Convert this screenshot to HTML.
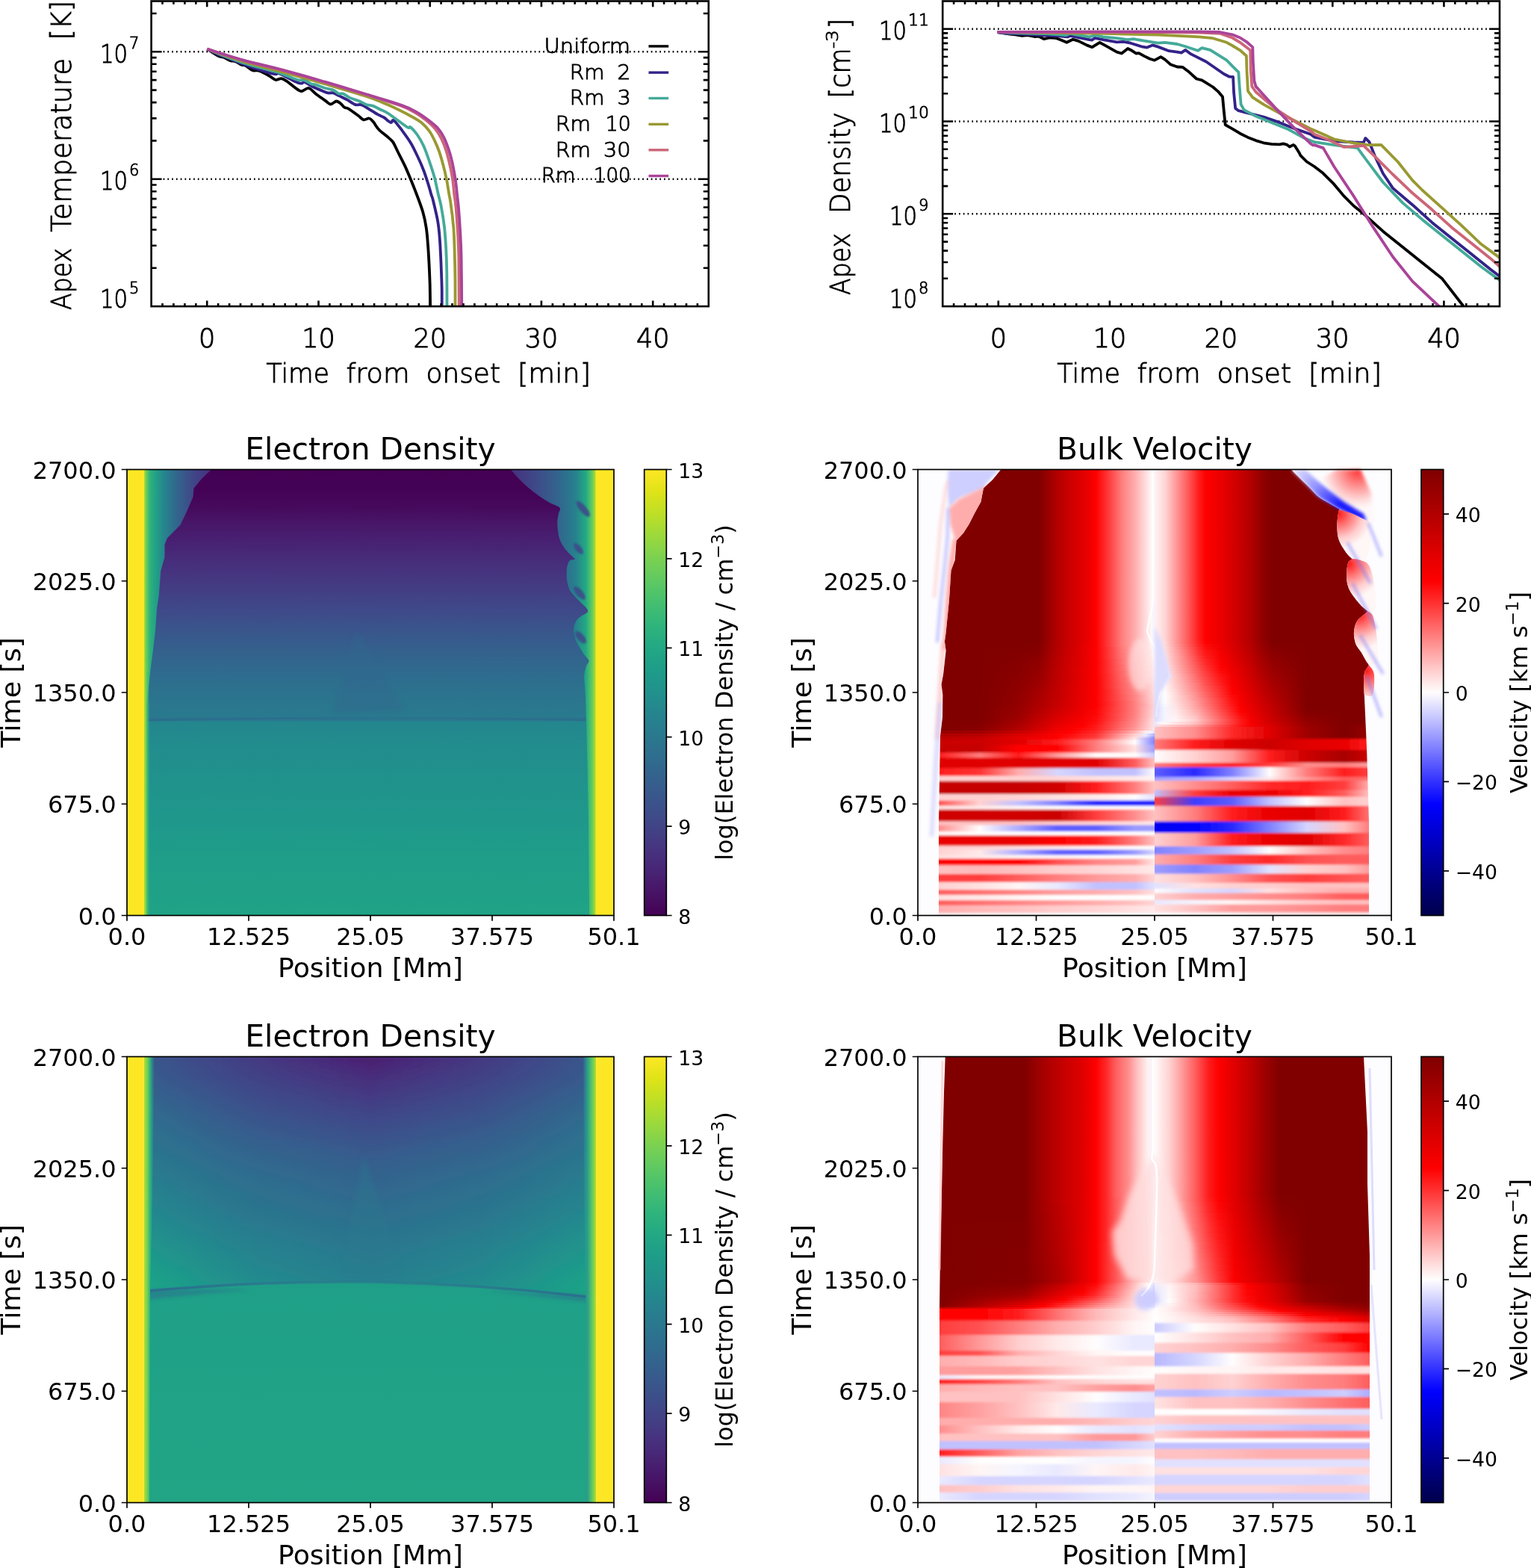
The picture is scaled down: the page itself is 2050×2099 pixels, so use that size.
<!DOCTYPE html>
<html><head><meta charset="utf-8"><style>html,body{margin:0;padding:0;background:#fff}svg{display:block}</style></head>
<body><svg xmlns="http://www.w3.org/2000/svg" width="2050" height="2099" viewBox="0 0 2050 2099">
<defs>
<filter id="blur3" x="-20%" y="-20%" width="140%" height="140%"><feGaussianBlur stdDeviation="3"/></filter>
<filter id="blur1" x="-30%" y="-30%" width="160%" height="160%"><feGaussianBlur stdDeviation="1"/></filter>
<filter id="blur4" x="-30%" y="-30%" width="160%" height="160%"><feGaussianBlur stdDeviation="5"/></filter>
<filter id="blur2" x="-30%" y="-30%" width="160%" height="160%"><feGaussianBlur stdDeviation="2"/></filter>
<clipPath id="cT"><rect x="202.6" y="1.5" width="746.2" height="408.6"/></clipPath>
<clipPath id="cN"><rect x="1262.2" y="1.5" width="745.8" height="408.6"/></clipPath>
<linearGradient id="g1" x1="0" y1="0" x2="0" y2="1"><stop offset="0.0000" stop-color="#440154"/><stop offset="0.0444" stop-color="#440256"/><stop offset="0.0863" stop-color="#460a5d"/><stop offset="0.1198" stop-color="#481668"/><stop offset="0.1616" stop-color="#482173"/><stop offset="0.2035" stop-color="#472d7b"/><stop offset="0.2454" stop-color="#453781"/><stop offset="0.2873" stop-color="#414287"/><stop offset="0.3291" stop-color="#3d4d8a"/><stop offset="0.3710" stop-color="#38588c"/><stop offset="0.4129" stop-color="#33628d"/><stop offset="0.4548" stop-color="#2f6b8e"/><stop offset="0.4966" stop-color="#2c728e"/><stop offset="0.5302" stop-color="#2a778e"/><stop offset="0.5519" stop-color="#297a8e"/><stop offset="0.5561" stop-color="#2a788e"/><stop offset="0.5586" stop-color="#2c738e"/><stop offset="0.5628" stop-color="#297a8e"/><stop offset="0.5662" stop-color="#24868e"/><stop offset="0.5804" stop-color="#23888e"/><stop offset="0.6223" stop-color="#228d8d"/><stop offset="0.7060" stop-color="#20938c"/><stop offset="0.7898" stop-color="#1f988b"/><stop offset="0.8735" stop-color="#1f9e89"/><stop offset="0.9573" stop-color="#1fa187"/><stop offset="1.0000" stop-color="#20a386"/></linearGradient>
<linearGradient id="g2" x1="195" y1="0" x2="798" y2="0" gradientUnits="userSpaceOnUse"><stop offset="0.0000" stop-color="#2b6c8d" stop-opacity="0.9"/><stop offset="0.3500" stop-color="#2b6c8d" stop-opacity="0.6"/><stop offset="0.5500" stop-color="#2b6c8d" stop-opacity="0.25"/><stop offset="0.8000" stop-color="#2b6c8d" stop-opacity="0.55"/><stop offset="1.0000" stop-color="#2b6c8d" stop-opacity="0.8"/></linearGradient>
<linearGradient id="g3" x1="193" y1="0" x2="283" y2="0" gradientUnits="userSpaceOnUse"><stop offset="0.0000" stop-color="#b8de29"/><stop offset="0.0300" stop-color="#6ccd5a"/><stop offset="0.0900" stop-color="#2db27d"/><stop offset="0.1700" stop-color="#22a187"/><stop offset="0.3000" stop-color="#26848e"/><stop offset="0.5000" stop-color="#33648d"/><stop offset="0.7500" stop-color="#404487"/><stop offset="1.0000" stop-color="#46307e"/></linearGradient>
<linearGradient id="g4" x1="193" y1="0" x2="201" y2="0" gradientUnits="userSpaceOnUse"><stop offset="0.0000" stop-color="#b5de2b"/><stop offset="0.3500" stop-color="#6ccd5a"/><stop offset="0.7000" stop-color="#35b779" stop-opacity="0.6"/><stop offset="1.0000" stop-color="#35b779" stop-opacity="0"/></linearGradient>
<linearGradient id="g5" x1="684" y1="0" x2="798" y2="0" gradientUnits="userSpaceOnUse"><stop offset="0.0000" stop-color="#46307e"/><stop offset="0.3000" stop-color="#3e4a89"/><stop offset="0.5500" stop-color="#33648d"/><stop offset="0.7500" stop-color="#277f8e"/><stop offset="0.8800" stop-color="#22a884"/><stop offset="0.9500" stop-color="#5ec962"/><stop offset="1.0000" stop-color="#b8de29"/></linearGradient>
<linearGradient id="g6" x1="0" y1="0" x2="0" y2="1"><stop offset="0.0000" stop-color="#fde725"/><stop offset="0.0500" stop-color="#dfe318"/><stop offset="0.1000" stop-color="#bddf26"/><stop offset="0.1500" stop-color="#9bd93c"/><stop offset="0.2000" stop-color="#7ad151"/><stop offset="0.2500" stop-color="#5ec962"/><stop offset="0.3000" stop-color="#44bf70"/><stop offset="0.3500" stop-color="#2fb47c"/><stop offset="0.4000" stop-color="#22a884"/><stop offset="0.4500" stop-color="#1e9c89"/><stop offset="0.5000" stop-color="#21918c"/><stop offset="0.5500" stop-color="#25848e"/><stop offset="0.6000" stop-color="#2a788e"/><stop offset="0.6500" stop-color="#2f6c8e"/><stop offset="0.7000" stop-color="#355f8d"/><stop offset="0.7500" stop-color="#3b528b"/><stop offset="0.8000" stop-color="#414487"/><stop offset="0.8500" stop-color="#463480"/><stop offset="0.9000" stop-color="#482475"/><stop offset="0.9500" stop-color="#471365"/><stop offset="1.0000" stop-color="#440154"/></linearGradient>
<linearGradient id="g7" x1="0" y1="0" x2="1" y2="0"><stop offset="0.0000" stop-color="#800000"/><stop offset="0.2555" stop-color="#800000"/><stop offset="0.2666" stop-color="#8e0000"/><stop offset="0.2943" stop-color="#b20000"/><stop offset="0.3218" stop-color="#cc0000"/><stop offset="0.3486" stop-color="#e00000"/><stop offset="0.3763" stop-color="#fe0000"/><stop offset="0.4038" stop-color="#ff3d3d"/><stop offset="0.4306" stop-color="#ff7d7d"/><stop offset="0.4584" stop-color="#ffadad"/><stop offset="0.4811" stop-color="#ffdddd"/><stop offset="0.4937" stop-color="#fff9f9"/><stop offset="0.4976" stop-color="#f5f5ff"/><stop offset="0.5016" stop-color="#fff1f1"/><stop offset="0.5221" stop-color="#ffd5d5"/><stop offset="0.5453" stop-color="#ff9999"/><stop offset="0.5694" stop-color="#ff5d5d"/><stop offset="0.5931" stop-color="#ff1d1d"/><stop offset="0.6080" stop-color="#fe0000"/><stop offset="0.6404" stop-color="#ea0000"/><stop offset="0.6640" stop-color="#d60000"/><stop offset="0.6814" stop-color="#c60000"/><stop offset="0.7035" stop-color="#b20000"/><stop offset="0.7224" stop-color="#980000"/><stop offset="0.7429" stop-color="#840000"/><stop offset="0.7508" stop-color="#800000"/><stop offset="1.0000" stop-color="#800000"/></linearGradient>
<linearGradient id="g8" x1="0" y1="0" x2="1" y2="0"><stop offset="0.0000" stop-color="#800000"/><stop offset="0.1893" stop-color="#800000"/><stop offset="0.3689" stop-color="#800000"/><stop offset="0.4637" stop-color="#800000"/><stop offset="0.4879" stop-color="#900000"/><stop offset="0.5488" stop-color="#b20000"/><stop offset="0.6090" stop-color="#cc0000"/><stop offset="0.6678" stop-color="#e00000"/><stop offset="0.7287" stop-color="#fe0000"/><stop offset="0.7889" stop-color="#ff3d3d"/><stop offset="0.8478" stop-color="#ff7d7d"/><stop offset="0.9087" stop-color="#ffadad"/><stop offset="0.9585" stop-color="#ffd9d9"/><stop offset="0.9862" stop-color="#fff9f9"/><stop offset="0.9948" stop-color="#f5f5ff"/><stop offset="1.0000" stop-color="#fff9f9"/></linearGradient>
<linearGradient id="g9" x1="0" y1="0" x2="1" y2="0"><stop offset="0.0000" stop-color="#800000"/><stop offset="0.1893" stop-color="#800000"/><stop offset="0.3689" stop-color="#800000"/><stop offset="0.4637" stop-color="#820000"/><stop offset="0.4879" stop-color="#920000"/><stop offset="0.5488" stop-color="#b30000"/><stop offset="0.6090" stop-color="#cc0000"/><stop offset="0.6678" stop-color="#e20000"/><stop offset="0.7287" stop-color="#fe0000"/><stop offset="0.7889" stop-color="#ff3d3d"/><stop offset="0.8478" stop-color="#ff7d7d"/><stop offset="0.9087" stop-color="#ffa9a9"/><stop offset="0.9585" stop-color="#ffd9d9"/><stop offset="0.9862" stop-color="#fff5f5"/><stop offset="0.9948" stop-color="#f9f9ff"/><stop offset="1.0000" stop-color="#fff9f9"/></linearGradient>
<linearGradient id="g10" x1="0" y1="0" x2="1" y2="0"><stop offset="0.0000" stop-color="#800000"/><stop offset="0.1893" stop-color="#800000"/><stop offset="0.3689" stop-color="#820000"/><stop offset="0.4637" stop-color="#840000"/><stop offset="0.4879" stop-color="#920000"/><stop offset="0.5488" stop-color="#b30000"/><stop offset="0.6090" stop-color="#ce0000"/><stop offset="0.6678" stop-color="#e20000"/><stop offset="0.7287" stop-color="#fe0000"/><stop offset="0.7889" stop-color="#ff3939"/><stop offset="0.8478" stop-color="#ff7979"/><stop offset="0.9087" stop-color="#ffa9a9"/><stop offset="0.9585" stop-color="#ffd5d5"/><stop offset="0.9862" stop-color="#fff5f5"/><stop offset="0.9948" stop-color="#fdfdff"/><stop offset="1.0000" stop-color="#fff5f5"/></linearGradient>
<linearGradient id="g11" x1="0" y1="0" x2="1" y2="0"><stop offset="0.0000" stop-color="#800000"/><stop offset="0.1893" stop-color="#800000"/><stop offset="0.3689" stop-color="#820000"/><stop offset="0.4637" stop-color="#860000"/><stop offset="0.4879" stop-color="#930000"/><stop offset="0.5488" stop-color="#b60000"/><stop offset="0.6090" stop-color="#ce0000"/><stop offset="0.6678" stop-color="#e20000"/><stop offset="0.7287" stop-color="#fe0000"/><stop offset="0.7889" stop-color="#ff3939"/><stop offset="0.8478" stop-color="#ff7979"/><stop offset="0.9087" stop-color="#ffa5a5"/><stop offset="0.9585" stop-color="#ffd5d5"/><stop offset="0.9862" stop-color="#fff1f1"/><stop offset="0.9948" stop-color="#fdfdff"/><stop offset="1.0000" stop-color="#fff5f5"/></linearGradient>
<linearGradient id="g12" x1="0" y1="0" x2="1" y2="0"><stop offset="0.0000" stop-color="#800000"/><stop offset="0.1893" stop-color="#800000"/><stop offset="0.3689" stop-color="#840000"/><stop offset="0.4637" stop-color="#880000"/><stop offset="0.4879" stop-color="#960000"/><stop offset="0.5488" stop-color="#b60000"/><stop offset="0.6090" stop-color="#ce0000"/><stop offset="0.6678" stop-color="#e20000"/><stop offset="0.7287" stop-color="#fe0000"/><stop offset="0.7889" stop-color="#ff3939"/><stop offset="0.8478" stop-color="#ff7575"/><stop offset="0.9087" stop-color="#ffa5a5"/><stop offset="0.9585" stop-color="#ffd1d1"/><stop offset="0.9862" stop-color="#fff1f1"/><stop offset="0.9948" stop-color="#fffdfd"/><stop offset="1.0000" stop-color="#fff1f1"/></linearGradient>
<linearGradient id="g13" x1="0" y1="0" x2="1" y2="0"><stop offset="0.0000" stop-color="#800000"/><stop offset="0.1893" stop-color="#800000"/><stop offset="0.3689" stop-color="#840000"/><stop offset="0.4637" stop-color="#8c0000"/><stop offset="0.4879" stop-color="#980000"/><stop offset="0.5488" stop-color="#b80000"/><stop offset="0.6090" stop-color="#d00000"/><stop offset="0.6678" stop-color="#e30000"/><stop offset="0.7287" stop-color="#fe0000"/><stop offset="0.7889" stop-color="#ff3939"/><stop offset="0.8478" stop-color="#ff7575"/><stop offset="0.9087" stop-color="#ffa1a1"/><stop offset="0.9585" stop-color="#ffd1d1"/><stop offset="0.9862" stop-color="#ffeded"/><stop offset="0.9948" stop-color="#fffdfd"/><stop offset="1.0000" stop-color="#fff1f1"/></linearGradient>
<linearGradient id="g14" x1="0" y1="0" x2="1" y2="0"><stop offset="0.0000" stop-color="#800000"/><stop offset="0.1893" stop-color="#800000"/><stop offset="0.3689" stop-color="#860000"/><stop offset="0.4637" stop-color="#8e0000"/><stop offset="0.4879" stop-color="#9a0000"/><stop offset="0.5488" stop-color="#b80000"/><stop offset="0.6090" stop-color="#d00000"/><stop offset="0.6678" stop-color="#e30000"/><stop offset="0.7287" stop-color="#fe0000"/><stop offset="0.7889" stop-color="#ff3535"/><stop offset="0.8478" stop-color="#ff7171"/><stop offset="0.9087" stop-color="#ffa1a1"/><stop offset="0.9585" stop-color="#ffcdcd"/><stop offset="0.9862" stop-color="#ffeded"/><stop offset="0.9948" stop-color="#fff9f9"/><stop offset="1.0000" stop-color="#fff1f1"/></linearGradient>
<linearGradient id="g15" x1="0" y1="0" x2="1" y2="0"><stop offset="0.0000" stop-color="#800000"/><stop offset="0.1893" stop-color="#800000"/><stop offset="0.3689" stop-color="#860000"/><stop offset="0.4637" stop-color="#900000"/><stop offset="0.4879" stop-color="#9c0000"/><stop offset="0.5488" stop-color="#ba0000"/><stop offset="0.6090" stop-color="#d00000"/><stop offset="0.6678" stop-color="#e30000"/><stop offset="0.7287" stop-color="#fe0000"/><stop offset="0.7889" stop-color="#ff3535"/><stop offset="0.8478" stop-color="#ff7171"/><stop offset="0.9087" stop-color="#ff9d9d"/><stop offset="0.9585" stop-color="#ffcdcd"/><stop offset="0.9862" stop-color="#ffe9e9"/><stop offset="0.9948" stop-color="#fff5f5"/><stop offset="1.0000" stop-color="#ffeded"/></linearGradient>
<linearGradient id="g16" x1="0" y1="0" x2="1" y2="0"><stop offset="0.0000" stop-color="#800000"/><stop offset="0.1893" stop-color="#800000"/><stop offset="0.3689" stop-color="#880000"/><stop offset="0.4637" stop-color="#920000"/><stop offset="0.4879" stop-color="#9e0000"/><stop offset="0.5488" stop-color="#ba0000"/><stop offset="0.6090" stop-color="#d20000"/><stop offset="0.6678" stop-color="#e30000"/><stop offset="0.7287" stop-color="#fe0000"/><stop offset="0.7889" stop-color="#ff3535"/><stop offset="0.8478" stop-color="#ff6d6d"/><stop offset="0.9087" stop-color="#ff9d9d"/><stop offset="0.9585" stop-color="#ffc9c9"/><stop offset="0.9862" stop-color="#ffe5e5"/><stop offset="0.9948" stop-color="#fff5f5"/><stop offset="1.0000" stop-color="#ffeded"/></linearGradient>
<linearGradient id="g17" x1="0" y1="0" x2="1" y2="0"><stop offset="0.0000" stop-color="#800000"/><stop offset="0.1893" stop-color="#800000"/><stop offset="0.3689" stop-color="#880000"/><stop offset="0.4637" stop-color="#930000"/><stop offset="0.4879" stop-color="#a00000"/><stop offset="0.5488" stop-color="#bc0000"/><stop offset="0.6090" stop-color="#d20000"/><stop offset="0.6678" stop-color="#e60000"/><stop offset="0.7287" stop-color="#fe0000"/><stop offset="0.7889" stop-color="#ff3535"/><stop offset="0.8478" stop-color="#ff6d6d"/><stop offset="0.9087" stop-color="#ff9999"/><stop offset="0.9585" stop-color="#ffc9c9"/><stop offset="0.9862" stop-color="#ffe5e5"/><stop offset="0.9948" stop-color="#fff1f1"/><stop offset="1.0000" stop-color="#ffe9e9"/></linearGradient>
<linearGradient id="g18" x1="0" y1="0" x2="1" y2="0"><stop offset="0.0000" stop-color="#800000"/><stop offset="0.1893" stop-color="#800000"/><stop offset="0.3689" stop-color="#880000"/><stop offset="0.4637" stop-color="#960000"/><stop offset="0.4879" stop-color="#a20000"/><stop offset="0.5488" stop-color="#bc0000"/><stop offset="0.6090" stop-color="#d20000"/><stop offset="0.6678" stop-color="#e60000"/><stop offset="0.7287" stop-color="#fe0000"/><stop offset="0.7889" stop-color="#ff3535"/><stop offset="0.8478" stop-color="#ff6969"/><stop offset="0.9087" stop-color="#ff9595"/><stop offset="0.9585" stop-color="#ffc5c5"/><stop offset="0.9862" stop-color="#ffe1e1"/><stop offset="0.9948" stop-color="#ffeded"/><stop offset="1.0000" stop-color="#ffe9e9"/></linearGradient>
<linearGradient id="g19" x1="0" y1="0" x2="1" y2="0"><stop offset="0.0000" stop-color="#800000"/><stop offset="0.1893" stop-color="#800000"/><stop offset="0.3689" stop-color="#8a0000"/><stop offset="0.4637" stop-color="#980000"/><stop offset="0.4879" stop-color="#a20000"/><stop offset="0.5488" stop-color="#be0000"/><stop offset="0.6090" stop-color="#d30000"/><stop offset="0.6678" stop-color="#e60000"/><stop offset="0.7287" stop-color="#fe0000"/><stop offset="0.7889" stop-color="#ff3131"/><stop offset="0.8478" stop-color="#ff6969"/><stop offset="0.9087" stop-color="#ff9595"/><stop offset="0.9585" stop-color="#ffc5c5"/><stop offset="0.9862" stop-color="#ffe1e1"/><stop offset="0.9948" stop-color="#ffeded"/><stop offset="1.0000" stop-color="#ffe5e5"/></linearGradient>
<linearGradient id="g20" x1="0" y1="0" x2="1" y2="0"><stop offset="0.0000" stop-color="#800000"/><stop offset="0.1893" stop-color="#800000"/><stop offset="0.3689" stop-color="#8a0000"/><stop offset="0.4637" stop-color="#9a0000"/><stop offset="0.4879" stop-color="#a30000"/><stop offset="0.5488" stop-color="#be0000"/><stop offset="0.6090" stop-color="#d30000"/><stop offset="0.6678" stop-color="#e60000"/><stop offset="0.7287" stop-color="#fe0000"/><stop offset="0.7889" stop-color="#ff3131"/><stop offset="0.8478" stop-color="#ff6565"/><stop offset="0.9087" stop-color="#ff9191"/><stop offset="0.9585" stop-color="#ffc1c1"/><stop offset="0.9862" stop-color="#ffdddd"/><stop offset="0.9948" stop-color="#ffe9e9"/><stop offset="1.0000" stop-color="#ffe5e5"/></linearGradient>
<linearGradient id="g21" x1="0" y1="0" x2="1" y2="0"><stop offset="0.0000" stop-color="#800000"/><stop offset="0.1893" stop-color="#800000"/><stop offset="0.3689" stop-color="#8c0000"/><stop offset="0.4637" stop-color="#9c0000"/><stop offset="0.4879" stop-color="#a60000"/><stop offset="0.5488" stop-color="#be0000"/><stop offset="0.6090" stop-color="#d30000"/><stop offset="0.6678" stop-color="#e80000"/><stop offset="0.7287" stop-color="#fe0000"/><stop offset="0.7889" stop-color="#ff3131"/><stop offset="0.8478" stop-color="#ff6565"/><stop offset="0.9087" stop-color="#ff9191"/><stop offset="0.9585" stop-color="#ffc1c1"/><stop offset="0.9862" stop-color="#ffdddd"/><stop offset="0.9948" stop-color="#ffe5e5"/><stop offset="1.0000" stop-color="#ffe5e5"/></linearGradient>
<linearGradient id="g22" x1="0" y1="0" x2="1" y2="0"><stop offset="0.0000" stop-color="#800000"/><stop offset="0.1893" stop-color="#800000"/><stop offset="0.3689" stop-color="#8c0000"/><stop offset="0.4637" stop-color="#9e0000"/><stop offset="0.4879" stop-color="#a80000"/><stop offset="0.5488" stop-color="#c00000"/><stop offset="0.6090" stop-color="#d30000"/><stop offset="0.6678" stop-color="#e80000"/><stop offset="0.7287" stop-color="#fe0000"/><stop offset="0.7889" stop-color="#ff3131"/><stop offset="0.8478" stop-color="#ff6161"/><stop offset="0.9087" stop-color="#ff8d8d"/><stop offset="0.9585" stop-color="#ffbdbd"/><stop offset="0.9862" stop-color="#ffd9d9"/><stop offset="0.9948" stop-color="#ffe5e5"/><stop offset="1.0000" stop-color="#ffe1e1"/></linearGradient>
<linearGradient id="g23" x1="0" y1="0" x2="1" y2="0"><stop offset="0.0000" stop-color="#800000"/><stop offset="0.1893" stop-color="#800000"/><stop offset="0.3689" stop-color="#8e0000"/><stop offset="0.4637" stop-color="#a00000"/><stop offset="0.4879" stop-color="#aa0000"/><stop offset="0.5488" stop-color="#c00000"/><stop offset="0.6090" stop-color="#d60000"/><stop offset="0.6678" stop-color="#e80000"/><stop offset="0.7287" stop-color="#fe0000"/><stop offset="0.7889" stop-color="#ff3131"/><stop offset="0.8478" stop-color="#ff6161"/><stop offset="0.9087" stop-color="#ff8d8d"/><stop offset="0.9585" stop-color="#ffbdbd"/><stop offset="0.9862" stop-color="#ffd5d5"/><stop offset="0.9948" stop-color="#ffe1e1"/><stop offset="1.0000" stop-color="#ffe1e1"/></linearGradient>
<linearGradient id="g24" x1="0" y1="0" x2="1" y2="0"><stop offset="0.0000" stop-color="#800000"/><stop offset="0.1893" stop-color="#800000"/><stop offset="0.3689" stop-color="#8e0000"/><stop offset="0.4637" stop-color="#a30000"/><stop offset="0.4879" stop-color="#ac0000"/><stop offset="0.5488" stop-color="#c20000"/><stop offset="0.6090" stop-color="#d60000"/><stop offset="0.6678" stop-color="#ea0000"/><stop offset="0.7287" stop-color="#fe0000"/><stop offset="0.7889" stop-color="#ff2d2d"/><stop offset="0.8478" stop-color="#ff5d5d"/><stop offset="0.9087" stop-color="#ff8989"/><stop offset="0.9585" stop-color="#ffb9b9"/><stop offset="0.9862" stop-color="#ffd5d5"/><stop offset="0.9948" stop-color="#ffdddd"/><stop offset="1.0000" stop-color="#ffdddd"/></linearGradient>
<linearGradient id="g25" x1="0" y1="0" x2="1" y2="0"><stop offset="0.0000" stop-color="#800000"/><stop offset="0.1893" stop-color="#800000"/><stop offset="0.3689" stop-color="#900000"/><stop offset="0.4637" stop-color="#a60000"/><stop offset="0.4879" stop-color="#ae0000"/><stop offset="0.5488" stop-color="#c20000"/><stop offset="0.6090" stop-color="#d60000"/><stop offset="0.6678" stop-color="#ea0000"/><stop offset="0.7287" stop-color="#fe0000"/><stop offset="0.7889" stop-color="#ff2d2d"/><stop offset="0.8478" stop-color="#ff5d5d"/><stop offset="0.9087" stop-color="#ff8989"/><stop offset="0.9585" stop-color="#ffb9b9"/><stop offset="0.9862" stop-color="#ffd1d1"/><stop offset="0.9948" stop-color="#ffdddd"/><stop offset="1.0000" stop-color="#ffdddd"/></linearGradient>
<linearGradient id="g26" x1="0" y1="0" x2="1" y2="0"><stop offset="0.0000" stop-color="#800000"/><stop offset="0.1893" stop-color="#800000"/><stop offset="0.3689" stop-color="#900000"/><stop offset="0.4637" stop-color="#a80000"/><stop offset="0.4879" stop-color="#b00000"/><stop offset="0.5488" stop-color="#c30000"/><stop offset="0.6090" stop-color="#d80000"/><stop offset="0.6678" stop-color="#ea0000"/><stop offset="0.7287" stop-color="#fe0000"/><stop offset="0.7889" stop-color="#ff2d2d"/><stop offset="0.8478" stop-color="#ff5959"/><stop offset="0.9087" stop-color="#ff8585"/><stop offset="0.9585" stop-color="#ffb5b5"/><stop offset="0.9862" stop-color="#ffd1d1"/><stop offset="0.9948" stop-color="#ffd9d9"/><stop offset="1.0000" stop-color="#ffdddd"/></linearGradient>
<linearGradient id="g27" x1="0" y1="0" x2="1" y2="0"><stop offset="0.0000" stop-color="#800000"/><stop offset="0.1893" stop-color="#800000"/><stop offset="0.3689" stop-color="#920000"/><stop offset="0.4637" stop-color="#aa0000"/><stop offset="0.4879" stop-color="#b20000"/><stop offset="0.5488" stop-color="#c30000"/><stop offset="0.6090" stop-color="#d80000"/><stop offset="0.6678" stop-color="#ea0000"/><stop offset="0.7287" stop-color="#fe0000"/><stop offset="0.7889" stop-color="#ff2d2d"/><stop offset="0.8478" stop-color="#ff5959"/><stop offset="0.9087" stop-color="#ff8585"/><stop offset="0.9585" stop-color="#ffb5b5"/><stop offset="0.9862" stop-color="#ffcdcd"/><stop offset="0.9948" stop-color="#ffd5d5"/><stop offset="1.0000" stop-color="#ffd9d9"/></linearGradient>
<linearGradient id="g28" x1="0" y1="0" x2="1" y2="0"><stop offset="0.0000" stop-color="#800000"/><stop offset="0.1893" stop-color="#800000"/><stop offset="0.3689" stop-color="#920000"/><stop offset="0.4637" stop-color="#ac0000"/><stop offset="0.4879" stop-color="#b30000"/><stop offset="0.5488" stop-color="#c60000"/><stop offset="0.6090" stop-color="#d80000"/><stop offset="0.6678" stop-color="#ec0000"/><stop offset="0.7287" stop-color="#fe0000"/><stop offset="0.7889" stop-color="#ff2929"/><stop offset="0.8478" stop-color="#ff5555"/><stop offset="0.9087" stop-color="#ff8181"/><stop offset="0.9585" stop-color="#ffb1b1"/><stop offset="0.9862" stop-color="#ffcdcd"/><stop offset="0.9948" stop-color="#ffd5d5"/><stop offset="1.0000" stop-color="#ffd9d9"/></linearGradient>
<linearGradient id="g29" x1="0" y1="0" x2="1" y2="0"><stop offset="0.0000" stop-color="#800000"/><stop offset="0.1893" stop-color="#800000"/><stop offset="0.3689" stop-color="#930000"/><stop offset="0.4637" stop-color="#ae0000"/><stop offset="0.4879" stop-color="#b30000"/><stop offset="0.5488" stop-color="#c60000"/><stop offset="0.6090" stop-color="#da0000"/><stop offset="0.6678" stop-color="#ec0000"/><stop offset="0.7287" stop-color="#fe0000"/><stop offset="0.7889" stop-color="#ff2929"/><stop offset="0.8478" stop-color="#ff5555"/><stop offset="0.9087" stop-color="#ff8181"/><stop offset="0.9585" stop-color="#ffadad"/><stop offset="0.9862" stop-color="#ffc9c9"/><stop offset="0.9948" stop-color="#ffd1d1"/><stop offset="1.0000" stop-color="#ffd5d5"/></linearGradient>
<linearGradient id="g30" x1="0" y1="0" x2="1" y2="0"><stop offset="0.0000" stop-color="#800000"/><stop offset="0.1893" stop-color="#800000"/><stop offset="0.3689" stop-color="#960000"/><stop offset="0.4637" stop-color="#b20000"/><stop offset="0.4879" stop-color="#b80000"/><stop offset="0.5488" stop-color="#ca0000"/><stop offset="0.6090" stop-color="#dc0000"/><stop offset="0.6678" stop-color="#ee0000"/><stop offset="0.7287" stop-color="#ff0101"/><stop offset="0.7889" stop-color="#ff2d2d"/><stop offset="0.8478" stop-color="#ff5555"/><stop offset="0.9087" stop-color="#ff8181"/><stop offset="0.9585" stop-color="#ffb1b1"/><stop offset="0.9862" stop-color="#ffc9c9"/><stop offset="0.9948" stop-color="#ffd1d1"/><stop offset="1.0000" stop-color="#ffd9d9"/></linearGradient>
<linearGradient id="g31" x1="0" y1="0" x2="1" y2="0"><stop offset="0.0000" stop-color="#800000"/><stop offset="0.1893" stop-color="#800000"/><stop offset="0.3689" stop-color="#980000"/><stop offset="0.4637" stop-color="#b30000"/><stop offset="0.4879" stop-color="#bc0000"/><stop offset="0.5488" stop-color="#d00000"/><stop offset="0.6090" stop-color="#e00000"/><stop offset="0.6678" stop-color="#f00000"/><stop offset="0.7287" stop-color="#ff0505"/><stop offset="0.7889" stop-color="#ff2d2d"/><stop offset="0.8478" stop-color="#ff5555"/><stop offset="0.9087" stop-color="#ff8181"/><stop offset="0.9585" stop-color="#ffb1b1"/><stop offset="0.9862" stop-color="#ffcdcd"/><stop offset="0.9948" stop-color="#ffd5d5"/><stop offset="1.0000" stop-color="#ffd9d9"/></linearGradient>
<linearGradient id="g32" x1="0" y1="0" x2="1" y2="0"><stop offset="0.0000" stop-color="#800000"/><stop offset="0.1893" stop-color="#800000"/><stop offset="0.3689" stop-color="#9a0000"/><stop offset="0.4637" stop-color="#b80000"/><stop offset="0.4879" stop-color="#c00000"/><stop offset="0.5488" stop-color="#d30000"/><stop offset="0.6090" stop-color="#e30000"/><stop offset="0.6678" stop-color="#f20000"/><stop offset="0.7287" stop-color="#ff0505"/><stop offset="0.7889" stop-color="#ff3131"/><stop offset="0.8478" stop-color="#ff5959"/><stop offset="0.9087" stop-color="#ff8181"/><stop offset="0.9585" stop-color="#ffb5b5"/><stop offset="0.9862" stop-color="#ffcdcd"/><stop offset="0.9948" stop-color="#ffd9d9"/><stop offset="1.0000" stop-color="#ffdddd"/></linearGradient>
<linearGradient id="g33" x1="0" y1="0" x2="1" y2="0"><stop offset="0.0000" stop-color="#800000"/><stop offset="0.1893" stop-color="#800000"/><stop offset="0.3689" stop-color="#9c0000"/><stop offset="0.4637" stop-color="#bc0000"/><stop offset="0.4879" stop-color="#c30000"/><stop offset="0.5488" stop-color="#d80000"/><stop offset="0.6090" stop-color="#e80000"/><stop offset="0.6678" stop-color="#f60000"/><stop offset="0.7287" stop-color="#ff0909"/><stop offset="0.7889" stop-color="#ff3131"/><stop offset="0.8478" stop-color="#ff5959"/><stop offset="0.9087" stop-color="#ff8585"/><stop offset="0.9585" stop-color="#ffb5b5"/><stop offset="0.9862" stop-color="#ffd1d1"/><stop offset="0.9948" stop-color="#ffd9d9"/><stop offset="1.0000" stop-color="#ffe1e1"/></linearGradient>
<linearGradient id="g34" x1="0" y1="0" x2="1" y2="0"><stop offset="0.0000" stop-color="#800000"/><stop offset="0.1893" stop-color="#800000"/><stop offset="0.3689" stop-color="#a00000"/><stop offset="0.4637" stop-color="#c20000"/><stop offset="0.4879" stop-color="#ca0000"/><stop offset="0.5488" stop-color="#de0000"/><stop offset="0.6090" stop-color="#ec0000"/><stop offset="0.6678" stop-color="#f80000"/><stop offset="0.7287" stop-color="#ff0d0d"/><stop offset="0.7889" stop-color="#ff3535"/><stop offset="0.8478" stop-color="#ff5d5d"/><stop offset="0.9087" stop-color="#ff8989"/><stop offset="0.9585" stop-color="#ffb9b9"/><stop offset="0.9862" stop-color="#ffd5d5"/><stop offset="0.9948" stop-color="#ffdddd"/><stop offset="1.0000" stop-color="#ffe1e1"/></linearGradient>
<linearGradient id="g35" x1="0" y1="0" x2="1" y2="0"><stop offset="0.0000" stop-color="#800000"/><stop offset="0.1893" stop-color="#840000"/><stop offset="0.3689" stop-color="#a60000"/><stop offset="0.4637" stop-color="#c60000"/><stop offset="0.4879" stop-color="#d00000"/><stop offset="0.5488" stop-color="#e30000"/><stop offset="0.6090" stop-color="#f00000"/><stop offset="0.6678" stop-color="#fc0000"/><stop offset="0.7287" stop-color="#ff1111"/><stop offset="0.7889" stop-color="#ff3d3d"/><stop offset="0.8478" stop-color="#ff6565"/><stop offset="0.9087" stop-color="#ff8d8d"/><stop offset="0.9585" stop-color="#ffbdbd"/><stop offset="0.9862" stop-color="#ffd9d9"/><stop offset="0.9948" stop-color="#ffe1e1"/><stop offset="1.0000" stop-color="#ffe5e5"/></linearGradient>
<linearGradient id="g36" x1="0" y1="0" x2="1" y2="0"><stop offset="0.0000" stop-color="#800000"/><stop offset="0.1893" stop-color="#860000"/><stop offset="0.3689" stop-color="#ac0000"/><stop offset="0.4637" stop-color="#cc0000"/><stop offset="0.4879" stop-color="#d30000"/><stop offset="0.5488" stop-color="#ea0000"/><stop offset="0.6090" stop-color="#f60000"/><stop offset="0.6678" stop-color="#ff0101"/><stop offset="0.7287" stop-color="#ff1919"/><stop offset="0.7889" stop-color="#ff4141"/><stop offset="0.8478" stop-color="#ff6969"/><stop offset="0.9087" stop-color="#ff9191"/><stop offset="0.9585" stop-color="#ffc1c1"/><stop offset="0.9862" stop-color="#ffd9d9"/><stop offset="0.9948" stop-color="#ffe1e1"/><stop offset="1.0000" stop-color="#ffe9e9"/></linearGradient>
<linearGradient id="g37" x1="0" y1="0" x2="1" y2="0"><stop offset="0.0000" stop-color="#800000"/><stop offset="0.1893" stop-color="#8a0000"/><stop offset="0.3689" stop-color="#b20000"/><stop offset="0.4637" stop-color="#d20000"/><stop offset="0.4879" stop-color="#da0000"/><stop offset="0.5488" stop-color="#f00000"/><stop offset="0.6090" stop-color="#fa0000"/><stop offset="0.6678" stop-color="#ff0909"/><stop offset="0.7287" stop-color="#ff1d1d"/><stop offset="0.7889" stop-color="#ff4545"/><stop offset="0.8478" stop-color="#ff7171"/><stop offset="0.9087" stop-color="#ff9999"/><stop offset="0.9585" stop-color="#ffc5c5"/><stop offset="0.9862" stop-color="#ffdddd"/><stop offset="0.9948" stop-color="#ffe5e5"/><stop offset="1.0000" stop-color="#ffe9e9"/></linearGradient>
<linearGradient id="g38" x1="0" y1="0" x2="1" y2="0"><stop offset="0.0000" stop-color="#960000"/><stop offset="0.1893" stop-color="#a00000"/><stop offset="0.3689" stop-color="#c60000"/><stop offset="0.4637" stop-color="#de0000"/><stop offset="0.4879" stop-color="#e60000"/><stop offset="0.5488" stop-color="#f60000"/><stop offset="0.6090" stop-color="#ff0101"/><stop offset="0.6678" stop-color="#ff1515"/><stop offset="0.7287" stop-color="#ff2929"/><stop offset="0.7889" stop-color="#ff5959"/><stop offset="0.8478" stop-color="#ff8585"/><stop offset="0.9087" stop-color="#ffb5b5"/><stop offset="0.9585" stop-color="#ffeded"/><stop offset="0.9862" stop-color="#f1f1ff"/><stop offset="0.9948" stop-color="#e5e5ff"/><stop offset="1.0000" stop-color="#e1e1ff"/></linearGradient>
<linearGradient id="g39" x1="0" y1="0" x2="1" y2="0"><stop offset="0.0000" stop-color="#ae0000"/><stop offset="0.1893" stop-color="#b80000"/><stop offset="0.3689" stop-color="#da0000"/><stop offset="0.4637" stop-color="#ec0000"/><stop offset="0.4879" stop-color="#f00000"/><stop offset="0.5488" stop-color="#fc0000"/><stop offset="0.6090" stop-color="#ff0d0d"/><stop offset="0.6678" stop-color="#ff2121"/><stop offset="0.7287" stop-color="#ff3535"/><stop offset="0.7889" stop-color="#ff6969"/><stop offset="0.8478" stop-color="#ff9d9d"/><stop offset="0.9087" stop-color="#ffd1d1"/><stop offset="0.9585" stop-color="#e9e9ff"/><stop offset="0.9862" stop-color="#c1c1ff"/><stop offset="0.9948" stop-color="#b5b5ff"/><stop offset="1.0000" stop-color="#adadff"/></linearGradient>
<linearGradient id="g40" x1="0" y1="0" x2="1" y2="0"><stop offset="0.0000" stop-color="#bc0000"/><stop offset="0.1893" stop-color="#c60000"/><stop offset="0.3689" stop-color="#e60000"/><stop offset="0.4637" stop-color="#f20000"/><stop offset="0.4879" stop-color="#f60000"/><stop offset="0.5488" stop-color="#fe0000"/><stop offset="0.6090" stop-color="#ff1515"/><stop offset="0.6678" stop-color="#ff2929"/><stop offset="0.7287" stop-color="#ff3d3d"/><stop offset="0.7889" stop-color="#ff7575"/><stop offset="0.8478" stop-color="#ffa9a9"/><stop offset="0.9087" stop-color="#ffe1e1"/><stop offset="0.9585" stop-color="#d1d1ff"/><stop offset="0.9862" stop-color="#a5a5ff"/><stop offset="0.9948" stop-color="#9595ff"/><stop offset="1.0000" stop-color="#8d8dff"/></linearGradient>
<linearGradient id="g41" x1="0" y1="0" x2="1" y2="0"><stop offset="0.0000" stop-color="#fff9f9"/><stop offset="0.0035" stop-color="#fff1f1"/><stop offset="0.0488" stop-color="#ffd9d9"/><stop offset="0.1000" stop-color="#ff9999"/><stop offset="0.1533" stop-color="#ff5d5d"/><stop offset="0.1882" stop-color="#ff3535"/><stop offset="0.2056" stop-color="#ff2121"/><stop offset="0.2387" stop-color="#ff0101"/><stop offset="0.3101" stop-color="#ec0000"/><stop offset="0.3624" stop-color="#d80000"/><stop offset="0.4007" stop-color="#c80000"/><stop offset="0.4495" stop-color="#b30000"/><stop offset="0.4913" stop-color="#9a0000"/><stop offset="0.5366" stop-color="#860000"/><stop offset="0.5540" stop-color="#800000"/><stop offset="0.7108" stop-color="#800000"/><stop offset="0.8850" stop-color="#800000"/><stop offset="1.0000" stop-color="#800000"/></linearGradient>
<linearGradient id="g42" x1="0" y1="0" x2="1" y2="0"><stop offset="0.0000" stop-color="#fffdfd"/><stop offset="0.0035" stop-color="#fff5f5"/><stop offset="0.0488" stop-color="#ffd9d9"/><stop offset="0.1000" stop-color="#ff9d9d"/><stop offset="0.1533" stop-color="#ff6161"/><stop offset="0.1882" stop-color="#ff3939"/><stop offset="0.2056" stop-color="#ff2525"/><stop offset="0.2387" stop-color="#ff0909"/><stop offset="0.3101" stop-color="#ee0000"/><stop offset="0.3624" stop-color="#da0000"/><stop offset="0.4007" stop-color="#ca0000"/><stop offset="0.4495" stop-color="#b60000"/><stop offset="0.4913" stop-color="#9c0000"/><stop offset="0.5366" stop-color="#880000"/><stop offset="0.5540" stop-color="#840000"/><stop offset="0.7108" stop-color="#800000"/><stop offset="0.8850" stop-color="#800000"/><stop offset="1.0000" stop-color="#800000"/></linearGradient>
<linearGradient id="g43" x1="0" y1="0" x2="1" y2="0"><stop offset="0.0000" stop-color="#fffdfd"/><stop offset="0.0035" stop-color="#fff5f5"/><stop offset="0.0488" stop-color="#ffdddd"/><stop offset="0.1000" stop-color="#ffa1a1"/><stop offset="0.1533" stop-color="#ff6565"/><stop offset="0.1882" stop-color="#ff4141"/><stop offset="0.2056" stop-color="#ff2d2d"/><stop offset="0.2387" stop-color="#ff0d0d"/><stop offset="0.3101" stop-color="#f00000"/><stop offset="0.3624" stop-color="#dc0000"/><stop offset="0.4007" stop-color="#cc0000"/><stop offset="0.4495" stop-color="#b80000"/><stop offset="0.4913" stop-color="#a00000"/><stop offset="0.5366" stop-color="#8c0000"/><stop offset="0.5540" stop-color="#860000"/><stop offset="0.7108" stop-color="#800000"/><stop offset="0.8850" stop-color="#800000"/><stop offset="1.0000" stop-color="#800000"/></linearGradient>
<linearGradient id="g44" x1="0" y1="0" x2="1" y2="0"><stop offset="0.0000" stop-color="#fdfdff"/><stop offset="0.0035" stop-color="#fff9f9"/><stop offset="0.0488" stop-color="#ffdddd"/><stop offset="0.1000" stop-color="#ffa5a5"/><stop offset="0.1533" stop-color="#ff6d6d"/><stop offset="0.1882" stop-color="#ff4545"/><stop offset="0.2056" stop-color="#ff3131"/><stop offset="0.2387" stop-color="#ff1515"/><stop offset="0.3101" stop-color="#f40000"/><stop offset="0.3624" stop-color="#de0000"/><stop offset="0.4007" stop-color="#d00000"/><stop offset="0.4495" stop-color="#ba0000"/><stop offset="0.4913" stop-color="#a20000"/><stop offset="0.5366" stop-color="#8e0000"/><stop offset="0.5540" stop-color="#880000"/><stop offset="0.7108" stop-color="#800000"/><stop offset="0.8850" stop-color="#800000"/><stop offset="1.0000" stop-color="#800000"/></linearGradient>
<linearGradient id="g45" x1="0" y1="0" x2="1" y2="0"><stop offset="0.0000" stop-color="#fdfdff"/><stop offset="0.0035" stop-color="#fff9f9"/><stop offset="0.0488" stop-color="#ffe1e1"/><stop offset="0.1000" stop-color="#ffa9a9"/><stop offset="0.1533" stop-color="#ff7171"/><stop offset="0.1882" stop-color="#ff4949"/><stop offset="0.2056" stop-color="#ff3535"/><stop offset="0.2387" stop-color="#ff1919"/><stop offset="0.3101" stop-color="#f60000"/><stop offset="0.3624" stop-color="#e20000"/><stop offset="0.4007" stop-color="#d20000"/><stop offset="0.4495" stop-color="#be0000"/><stop offset="0.4913" stop-color="#a60000"/><stop offset="0.5366" stop-color="#920000"/><stop offset="0.5540" stop-color="#8c0000"/><stop offset="0.7108" stop-color="#800000"/><stop offset="0.8850" stop-color="#800000"/><stop offset="1.0000" stop-color="#800000"/></linearGradient>
<linearGradient id="g46" x1="0" y1="0" x2="1" y2="0"><stop offset="0.0000" stop-color="#f9f9ff"/><stop offset="0.0035" stop-color="#fffdfd"/><stop offset="0.0488" stop-color="#ffe1e1"/><stop offset="0.1000" stop-color="#ffadad"/><stop offset="0.1533" stop-color="#ff7575"/><stop offset="0.1882" stop-color="#ff5151"/><stop offset="0.2056" stop-color="#ff3d3d"/><stop offset="0.2387" stop-color="#ff1d1d"/><stop offset="0.3101" stop-color="#f80000"/><stop offset="0.3624" stop-color="#e30000"/><stop offset="0.4007" stop-color="#d30000"/><stop offset="0.4495" stop-color="#c00000"/><stop offset="0.4913" stop-color="#a80000"/><stop offset="0.5366" stop-color="#930000"/><stop offset="0.5540" stop-color="#8e0000"/><stop offset="0.7108" stop-color="#800000"/><stop offset="0.8850" stop-color="#800000"/><stop offset="1.0000" stop-color="#800000"/></linearGradient>
<linearGradient id="g47" x1="0" y1="0" x2="1" y2="0"><stop offset="0.0000" stop-color="#f9f9ff"/><stop offset="0.0035" stop-color="#fffdfd"/><stop offset="0.0488" stop-color="#ffe5e5"/><stop offset="0.1000" stop-color="#ffadad"/><stop offset="0.1533" stop-color="#ff7979"/><stop offset="0.1882" stop-color="#ff5555"/><stop offset="0.2056" stop-color="#ff4141"/><stop offset="0.2387" stop-color="#ff2525"/><stop offset="0.3101" stop-color="#fa0000"/><stop offset="0.3624" stop-color="#e60000"/><stop offset="0.4007" stop-color="#d60000"/><stop offset="0.4495" stop-color="#c20000"/><stop offset="0.4913" stop-color="#aa0000"/><stop offset="0.5366" stop-color="#960000"/><stop offset="0.5540" stop-color="#920000"/><stop offset="0.7108" stop-color="#800000"/><stop offset="0.8850" stop-color="#800000"/><stop offset="1.0000" stop-color="#800000"/></linearGradient>
<linearGradient id="g48" x1="0" y1="0" x2="1" y2="0"><stop offset="0.0000" stop-color="#f5f5ff"/><stop offset="0.0035" stop-color="#fdfdff"/><stop offset="0.0488" stop-color="#ffe5e5"/><stop offset="0.1000" stop-color="#ffb1b1"/><stop offset="0.1533" stop-color="#ff7d7d"/><stop offset="0.1882" stop-color="#ff5959"/><stop offset="0.2056" stop-color="#ff4949"/><stop offset="0.2387" stop-color="#ff2929"/><stop offset="0.3101" stop-color="#fe0000"/><stop offset="0.3624" stop-color="#e80000"/><stop offset="0.4007" stop-color="#d80000"/><stop offset="0.4495" stop-color="#c30000"/><stop offset="0.4913" stop-color="#ae0000"/><stop offset="0.5366" stop-color="#9a0000"/><stop offset="0.5540" stop-color="#930000"/><stop offset="0.7108" stop-color="#800000"/><stop offset="0.8850" stop-color="#800000"/><stop offset="1.0000" stop-color="#800000"/></linearGradient>
<linearGradient id="g49" x1="0" y1="0" x2="1" y2="0"><stop offset="0.0000" stop-color="#f5f5ff"/><stop offset="0.0035" stop-color="#f9f9ff"/><stop offset="0.0488" stop-color="#ffe9e9"/><stop offset="0.1000" stop-color="#ffb5b5"/><stop offset="0.1533" stop-color="#ff8181"/><stop offset="0.1882" stop-color="#ff6161"/><stop offset="0.2056" stop-color="#ff4d4d"/><stop offset="0.2387" stop-color="#ff3131"/><stop offset="0.3101" stop-color="#ff0101"/><stop offset="0.3624" stop-color="#ea0000"/><stop offset="0.4007" stop-color="#dc0000"/><stop offset="0.4495" stop-color="#c80000"/><stop offset="0.4913" stop-color="#b00000"/><stop offset="0.5366" stop-color="#9c0000"/><stop offset="0.5540" stop-color="#960000"/><stop offset="0.7108" stop-color="#800000"/><stop offset="0.8850" stop-color="#800000"/><stop offset="1.0000" stop-color="#800000"/></linearGradient>
<linearGradient id="g50" x1="0" y1="0" x2="1" y2="0"><stop offset="0.0000" stop-color="#f1f1ff"/><stop offset="0.0035" stop-color="#f9f9ff"/><stop offset="0.0488" stop-color="#ffe9e9"/><stop offset="0.1000" stop-color="#ffb9b9"/><stop offset="0.1533" stop-color="#ff8585"/><stop offset="0.1882" stop-color="#ff6565"/><stop offset="0.2056" stop-color="#ff5555"/><stop offset="0.2387" stop-color="#ff3535"/><stop offset="0.3101" stop-color="#ff0505"/><stop offset="0.3624" stop-color="#ee0000"/><stop offset="0.4007" stop-color="#de0000"/><stop offset="0.4495" stop-color="#ca0000"/><stop offset="0.4913" stop-color="#b30000"/><stop offset="0.5366" stop-color="#a00000"/><stop offset="0.5540" stop-color="#9a0000"/><stop offset="0.7108" stop-color="#800000"/><stop offset="0.8850" stop-color="#800000"/><stop offset="1.0000" stop-color="#800000"/></linearGradient>
<linearGradient id="g51" x1="0" y1="0" x2="1" y2="0"><stop offset="0.0000" stop-color="#f1f1ff"/><stop offset="0.0035" stop-color="#f5f5ff"/><stop offset="0.0488" stop-color="#ffeded"/><stop offset="0.1000" stop-color="#ffbdbd"/><stop offset="0.1533" stop-color="#ff8989"/><stop offset="0.1882" stop-color="#ff6969"/><stop offset="0.2056" stop-color="#ff5959"/><stop offset="0.2387" stop-color="#ff3d3d"/><stop offset="0.3101" stop-color="#ff0909"/><stop offset="0.3624" stop-color="#f00000"/><stop offset="0.4007" stop-color="#e00000"/><stop offset="0.4495" stop-color="#cc0000"/><stop offset="0.4913" stop-color="#b60000"/><stop offset="0.5366" stop-color="#a20000"/><stop offset="0.5540" stop-color="#9c0000"/><stop offset="0.7108" stop-color="#800000"/><stop offset="0.8850" stop-color="#800000"/><stop offset="1.0000" stop-color="#800000"/></linearGradient>
<linearGradient id="g52" x1="0" y1="0" x2="1" y2="0"><stop offset="0.0000" stop-color="#ededff"/><stop offset="0.0035" stop-color="#f5f5ff"/><stop offset="0.0488" stop-color="#fff1f1"/><stop offset="0.1000" stop-color="#ffc1c1"/><stop offset="0.1533" stop-color="#ff9191"/><stop offset="0.1882" stop-color="#ff7171"/><stop offset="0.2056" stop-color="#ff5d5d"/><stop offset="0.2387" stop-color="#ff4141"/><stop offset="0.3101" stop-color="#ff1111"/><stop offset="0.3624" stop-color="#f20000"/><stop offset="0.4007" stop-color="#e20000"/><stop offset="0.4495" stop-color="#ce0000"/><stop offset="0.4913" stop-color="#b80000"/><stop offset="0.5366" stop-color="#a60000"/><stop offset="0.5540" stop-color="#a00000"/><stop offset="0.7108" stop-color="#800000"/><stop offset="0.8850" stop-color="#800000"/><stop offset="1.0000" stop-color="#800000"/></linearGradient>
<linearGradient id="g53" x1="0" y1="0" x2="1" y2="0"><stop offset="0.0000" stop-color="#ededff"/><stop offset="0.0035" stop-color="#f1f1ff"/><stop offset="0.0488" stop-color="#fff1f1"/><stop offset="0.1000" stop-color="#ffc5c5"/><stop offset="0.1533" stop-color="#ff9595"/><stop offset="0.1882" stop-color="#ff7575"/><stop offset="0.2056" stop-color="#ff6565"/><stop offset="0.2387" stop-color="#ff4949"/><stop offset="0.3101" stop-color="#ff1515"/><stop offset="0.3624" stop-color="#f40000"/><stop offset="0.4007" stop-color="#e60000"/><stop offset="0.4495" stop-color="#d00000"/><stop offset="0.4913" stop-color="#bc0000"/><stop offset="0.5366" stop-color="#a80000"/><stop offset="0.5540" stop-color="#a20000"/><stop offset="0.7108" stop-color="#800000"/><stop offset="0.8850" stop-color="#800000"/><stop offset="1.0000" stop-color="#800000"/></linearGradient>
<linearGradient id="g54" x1="0" y1="0" x2="1" y2="0"><stop offset="0.0000" stop-color="#e9e9ff"/><stop offset="0.0035" stop-color="#ededff"/><stop offset="0.0488" stop-color="#fff5f5"/><stop offset="0.1000" stop-color="#ffc5c5"/><stop offset="0.1533" stop-color="#ff9999"/><stop offset="0.1882" stop-color="#ff7979"/><stop offset="0.2056" stop-color="#ff6969"/><stop offset="0.2387" stop-color="#ff4d4d"/><stop offset="0.3101" stop-color="#ff1919"/><stop offset="0.3624" stop-color="#f80000"/><stop offset="0.4007" stop-color="#e80000"/><stop offset="0.4495" stop-color="#d30000"/><stop offset="0.4913" stop-color="#be0000"/><stop offset="0.5366" stop-color="#ac0000"/><stop offset="0.5540" stop-color="#a30000"/><stop offset="0.7108" stop-color="#800000"/><stop offset="0.8850" stop-color="#800000"/><stop offset="1.0000" stop-color="#800000"/></linearGradient>
<linearGradient id="g55" x1="0" y1="0" x2="1" y2="0"><stop offset="0.0000" stop-color="#e9e9ff"/><stop offset="0.0035" stop-color="#ededff"/><stop offset="0.0488" stop-color="#fff5f5"/><stop offset="0.1000" stop-color="#ffc9c9"/><stop offset="0.1533" stop-color="#ff9d9d"/><stop offset="0.1882" stop-color="#ff8181"/><stop offset="0.2056" stop-color="#ff7171"/><stop offset="0.2387" stop-color="#ff5151"/><stop offset="0.3101" stop-color="#ff1d1d"/><stop offset="0.3624" stop-color="#fa0000"/><stop offset="0.4007" stop-color="#ea0000"/><stop offset="0.4495" stop-color="#d60000"/><stop offset="0.4913" stop-color="#c20000"/><stop offset="0.5366" stop-color="#ae0000"/><stop offset="0.5540" stop-color="#a80000"/><stop offset="0.7108" stop-color="#800000"/><stop offset="0.8850" stop-color="#800000"/><stop offset="1.0000" stop-color="#800000"/></linearGradient>
<linearGradient id="g56" x1="0" y1="0" x2="1" y2="0"><stop offset="0.0000" stop-color="#e5e5ff"/><stop offset="0.0035" stop-color="#e9e9ff"/><stop offset="0.0488" stop-color="#fff9f9"/><stop offset="0.1000" stop-color="#ffcdcd"/><stop offset="0.1533" stop-color="#ffa1a1"/><stop offset="0.1882" stop-color="#ff8585"/><stop offset="0.2056" stop-color="#ff7575"/><stop offset="0.2387" stop-color="#ff5959"/><stop offset="0.3101" stop-color="#ff2525"/><stop offset="0.3624" stop-color="#fc0000"/><stop offset="0.4007" stop-color="#ec0000"/><stop offset="0.4495" stop-color="#d80000"/><stop offset="0.4913" stop-color="#c30000"/><stop offset="0.5366" stop-color="#b00000"/><stop offset="0.5540" stop-color="#aa0000"/><stop offset="0.7108" stop-color="#800000"/><stop offset="0.8850" stop-color="#800000"/><stop offset="1.0000" stop-color="#800000"/></linearGradient>
<linearGradient id="g57" x1="0" y1="0" x2="1" y2="0"><stop offset="0.0000" stop-color="#e5e5ff"/><stop offset="0.0035" stop-color="#e9e9ff"/><stop offset="0.0488" stop-color="#fff9f9"/><stop offset="0.1000" stop-color="#ffd1d1"/><stop offset="0.1533" stop-color="#ffa5a5"/><stop offset="0.1882" stop-color="#ff8989"/><stop offset="0.2056" stop-color="#ff7979"/><stop offset="0.2387" stop-color="#ff5d5d"/><stop offset="0.3101" stop-color="#ff2929"/><stop offset="0.3624" stop-color="#fe0000"/><stop offset="0.4007" stop-color="#ee0000"/><stop offset="0.4495" stop-color="#da0000"/><stop offset="0.4913" stop-color="#c80000"/><stop offset="0.5366" stop-color="#b30000"/><stop offset="0.5540" stop-color="#ae0000"/><stop offset="0.7108" stop-color="#800000"/><stop offset="0.8850" stop-color="#800000"/><stop offset="1.0000" stop-color="#800000"/></linearGradient>
<linearGradient id="g58" x1="0" y1="0" x2="1" y2="0"><stop offset="0.0000" stop-color="#e1e1ff"/><stop offset="0.0035" stop-color="#e5e5ff"/><stop offset="0.0488" stop-color="#fffdfd"/><stop offset="0.1000" stop-color="#ffd5d5"/><stop offset="0.1533" stop-color="#ffa9a9"/><stop offset="0.1882" stop-color="#ff9191"/><stop offset="0.2056" stop-color="#ff8181"/><stop offset="0.2387" stop-color="#ff6565"/><stop offset="0.3101" stop-color="#ff2d2d"/><stop offset="0.3624" stop-color="#ff0101"/><stop offset="0.4007" stop-color="#f20000"/><stop offset="0.4495" stop-color="#de0000"/><stop offset="0.4913" stop-color="#ca0000"/><stop offset="0.5366" stop-color="#b60000"/><stop offset="0.5540" stop-color="#b00000"/><stop offset="0.7108" stop-color="#800000"/><stop offset="0.8850" stop-color="#800000"/><stop offset="1.0000" stop-color="#800000"/></linearGradient>
<linearGradient id="g59" x1="0" y1="0" x2="1" y2="0"><stop offset="0.0000" stop-color="#e1e1ff"/><stop offset="0.0035" stop-color="#e1e1ff"/><stop offset="0.0488" stop-color="#fffdfd"/><stop offset="0.1000" stop-color="#ffd9d9"/><stop offset="0.1533" stop-color="#ffb1b1"/><stop offset="0.1882" stop-color="#ff9595"/><stop offset="0.2056" stop-color="#ff8585"/><stop offset="0.2387" stop-color="#ff6969"/><stop offset="0.3101" stop-color="#ff3131"/><stop offset="0.3624" stop-color="#ff0909"/><stop offset="0.4007" stop-color="#f40000"/><stop offset="0.4495" stop-color="#e00000"/><stop offset="0.4913" stop-color="#cc0000"/><stop offset="0.5366" stop-color="#ba0000"/><stop offset="0.5540" stop-color="#b20000"/><stop offset="0.7108" stop-color="#800000"/><stop offset="0.8850" stop-color="#800000"/><stop offset="1.0000" stop-color="#800000"/></linearGradient>
<linearGradient id="g60" x1="0" y1="0" x2="1" y2="0"><stop offset="0.0000" stop-color="#ddddff"/><stop offset="0.0035" stop-color="#e1e1ff"/><stop offset="0.0488" stop-color="#fdfdff"/><stop offset="0.1000" stop-color="#ffd9d9"/><stop offset="0.1533" stop-color="#ffb5b5"/><stop offset="0.1882" stop-color="#ff9999"/><stop offset="0.2056" stop-color="#ff8d8d"/><stop offset="0.2387" stop-color="#ff7171"/><stop offset="0.3101" stop-color="#ff3939"/><stop offset="0.3624" stop-color="#ff0d0d"/><stop offset="0.4007" stop-color="#f60000"/><stop offset="0.4495" stop-color="#e20000"/><stop offset="0.4913" stop-color="#d00000"/><stop offset="0.5366" stop-color="#bc0000"/><stop offset="0.5540" stop-color="#b60000"/><stop offset="0.7108" stop-color="#800000"/><stop offset="0.8850" stop-color="#800000"/><stop offset="1.0000" stop-color="#800000"/></linearGradient>
<linearGradient id="g61" x1="0" y1="0" x2="1" y2="0"><stop offset="0.0000" stop-color="#ddddff"/><stop offset="0.0035" stop-color="#ddddff"/><stop offset="0.0488" stop-color="#fdfdff"/><stop offset="0.1000" stop-color="#ffdddd"/><stop offset="0.1533" stop-color="#ffb9b9"/><stop offset="0.1882" stop-color="#ffa1a1"/><stop offset="0.2056" stop-color="#ff9191"/><stop offset="0.2387" stop-color="#ff7575"/><stop offset="0.3101" stop-color="#ff3d3d"/><stop offset="0.3624" stop-color="#ff1111"/><stop offset="0.4007" stop-color="#f80000"/><stop offset="0.4495" stop-color="#e30000"/><stop offset="0.4913" stop-color="#d20000"/><stop offset="0.5366" stop-color="#c00000"/><stop offset="0.5540" stop-color="#b80000"/><stop offset="0.7108" stop-color="#800000"/><stop offset="0.8850" stop-color="#800000"/><stop offset="1.0000" stop-color="#800000"/></linearGradient>
<linearGradient id="g62" x1="0" y1="0" x2="1" y2="0"><stop offset="0.0000" stop-color="#d9d9ff"/><stop offset="0.0035" stop-color="#ddddff"/><stop offset="0.0488" stop-color="#f9f9ff"/><stop offset="0.1000" stop-color="#ffe1e1"/><stop offset="0.1533" stop-color="#ffbdbd"/><stop offset="0.1882" stop-color="#ffa5a5"/><stop offset="0.2056" stop-color="#ff9595"/><stop offset="0.2387" stop-color="#ff7979"/><stop offset="0.3101" stop-color="#ff4141"/><stop offset="0.3624" stop-color="#ff1515"/><stop offset="0.4007" stop-color="#fa0000"/><stop offset="0.4495" stop-color="#e60000"/><stop offset="0.4913" stop-color="#d60000"/><stop offset="0.5366" stop-color="#c20000"/><stop offset="0.5540" stop-color="#bc0000"/><stop offset="0.7108" stop-color="#800000"/><stop offset="0.8850" stop-color="#800000"/><stop offset="1.0000" stop-color="#800000"/></linearGradient>
<linearGradient id="g63" x1="0" y1="0" x2="1" y2="0"><stop offset="0.0000" stop-color="#d9d9ff"/><stop offset="0.0035" stop-color="#d9d9ff"/><stop offset="0.0488" stop-color="#f5f5ff"/><stop offset="0.1000" stop-color="#ffe5e5"/><stop offset="0.1533" stop-color="#ffc1c1"/><stop offset="0.1882" stop-color="#ffa9a9"/><stop offset="0.2056" stop-color="#ff9d9d"/><stop offset="0.2387" stop-color="#ff8181"/><stop offset="0.3101" stop-color="#ff4545"/><stop offset="0.3624" stop-color="#ff1d1d"/><stop offset="0.4007" stop-color="#fe0000"/><stop offset="0.4495" stop-color="#ea0000"/><stop offset="0.4913" stop-color="#d80000"/><stop offset="0.5366" stop-color="#c60000"/><stop offset="0.5540" stop-color="#be0000"/><stop offset="0.7108" stop-color="#800000"/><stop offset="0.8850" stop-color="#800000"/><stop offset="1.0000" stop-color="#800000"/></linearGradient>
<linearGradient id="g64" x1="0" y1="0" x2="1" y2="0"><stop offset="0.0000" stop-color="#d9d9ff"/><stop offset="0.0035" stop-color="#d9d9ff"/><stop offset="0.0488" stop-color="#f5f5ff"/><stop offset="0.1000" stop-color="#ffe9e9"/><stop offset="0.1533" stop-color="#ffc9c9"/><stop offset="0.1882" stop-color="#ffb1b1"/><stop offset="0.2056" stop-color="#ffa5a5"/><stop offset="0.2387" stop-color="#ff8989"/><stop offset="0.3101" stop-color="#ff4d4d"/><stop offset="0.3624" stop-color="#ff2121"/><stop offset="0.4007" stop-color="#ff0101"/><stop offset="0.4495" stop-color="#ec0000"/><stop offset="0.4913" stop-color="#da0000"/><stop offset="0.5366" stop-color="#c80000"/><stop offset="0.5540" stop-color="#c00000"/><stop offset="0.7108" stop-color="#820000"/><stop offset="0.8850" stop-color="#800000"/><stop offset="1.0000" stop-color="#800000"/></linearGradient>
<linearGradient id="g65" x1="0" y1="0" x2="1" y2="0"><stop offset="0.0000" stop-color="#d9d9ff"/><stop offset="0.0035" stop-color="#ddddff"/><stop offset="0.0488" stop-color="#f5f5ff"/><stop offset="0.1000" stop-color="#ffeded"/><stop offset="0.1533" stop-color="#ffcdcd"/><stop offset="0.1882" stop-color="#ffb9b9"/><stop offset="0.2056" stop-color="#ffadad"/><stop offset="0.2387" stop-color="#ff9191"/><stop offset="0.3101" stop-color="#ff5555"/><stop offset="0.3624" stop-color="#ff2929"/><stop offset="0.4007" stop-color="#ff0909"/><stop offset="0.4495" stop-color="#f00000"/><stop offset="0.4913" stop-color="#de0000"/><stop offset="0.5366" stop-color="#ca0000"/><stop offset="0.5540" stop-color="#c30000"/><stop offset="0.7108" stop-color="#860000"/><stop offset="0.8850" stop-color="#800000"/><stop offset="1.0000" stop-color="#800000"/></linearGradient>
<linearGradient id="g66" x1="0" y1="0" x2="1" y2="0"><stop offset="0.0000" stop-color="#ddddff"/><stop offset="0.0035" stop-color="#ddddff"/><stop offset="0.0488" stop-color="#f5f5ff"/><stop offset="0.1000" stop-color="#fff1f1"/><stop offset="0.1533" stop-color="#ffd5d5"/><stop offset="0.1882" stop-color="#ffc5c5"/><stop offset="0.2056" stop-color="#ffb5b5"/><stop offset="0.2387" stop-color="#ff9999"/><stop offset="0.3101" stop-color="#ff5d5d"/><stop offset="0.3624" stop-color="#ff3131"/><stop offset="0.4007" stop-color="#ff1111"/><stop offset="0.4495" stop-color="#f20000"/><stop offset="0.4913" stop-color="#e00000"/><stop offset="0.5366" stop-color="#ce0000"/><stop offset="0.5540" stop-color="#c60000"/><stop offset="0.7108" stop-color="#8c0000"/><stop offset="0.8850" stop-color="#800000"/><stop offset="1.0000" stop-color="#800000"/></linearGradient>
<linearGradient id="g67" x1="0" y1="0" x2="1" y2="0"><stop offset="0.0000" stop-color="#e1e1ff"/><stop offset="0.0035" stop-color="#e1e1ff"/><stop offset="0.0488" stop-color="#f5f5ff"/><stop offset="0.1000" stop-color="#fff5f5"/><stop offset="0.1533" stop-color="#ffdddd"/><stop offset="0.1882" stop-color="#ffcdcd"/><stop offset="0.2056" stop-color="#ffbdbd"/><stop offset="0.2387" stop-color="#ffa1a1"/><stop offset="0.3101" stop-color="#ff6565"/><stop offset="0.3624" stop-color="#ff3939"/><stop offset="0.4007" stop-color="#ff1919"/><stop offset="0.4495" stop-color="#f60000"/><stop offset="0.4913" stop-color="#e30000"/><stop offset="0.5366" stop-color="#d00000"/><stop offset="0.5540" stop-color="#ca0000"/><stop offset="0.7108" stop-color="#900000"/><stop offset="0.8850" stop-color="#800000"/><stop offset="1.0000" stop-color="#800000"/></linearGradient>
<linearGradient id="g68" x1="0" y1="0" x2="1" y2="0"><stop offset="0.0000" stop-color="#f5f5ff"/><stop offset="0.0035" stop-color="#f5f5ff"/><stop offset="0.0488" stop-color="#fff5f5"/><stop offset="0.1000" stop-color="#ffe5e5"/><stop offset="0.1533" stop-color="#ffd1d1"/><stop offset="0.1882" stop-color="#ffc1c1"/><stop offset="0.2056" stop-color="#ffb5b5"/><stop offset="0.2387" stop-color="#ff9999"/><stop offset="0.3101" stop-color="#ff6161"/><stop offset="0.3624" stop-color="#ff3939"/><stop offset="0.4007" stop-color="#ff1919"/><stop offset="0.4495" stop-color="#f80000"/><stop offset="0.4913" stop-color="#e60000"/><stop offset="0.5366" stop-color="#d30000"/><stop offset="0.5540" stop-color="#ce0000"/><stop offset="0.7108" stop-color="#960000"/><stop offset="0.8850" stop-color="#800000"/><stop offset="1.0000" stop-color="#840000"/></linearGradient>
<linearGradient id="g69" x1="0" y1="0" x2="1" y2="0"><stop offset="0.0000" stop-color="#ffe1e1"/><stop offset="0.0035" stop-color="#ffe1e1"/><stop offset="0.0488" stop-color="#ffd1d1"/><stop offset="0.1000" stop-color="#ffc1c1"/><stop offset="0.1533" stop-color="#ffb1b1"/><stop offset="0.1882" stop-color="#ffa5a5"/><stop offset="0.2056" stop-color="#ff9999"/><stop offset="0.2387" stop-color="#ff8181"/><stop offset="0.3101" stop-color="#ff5151"/><stop offset="0.3624" stop-color="#ff2d2d"/><stop offset="0.4007" stop-color="#ff1515"/><stop offset="0.4495" stop-color="#fa0000"/><stop offset="0.4913" stop-color="#ea0000"/><stop offset="0.5366" stop-color="#dc0000"/><stop offset="0.5540" stop-color="#d30000"/><stop offset="0.7108" stop-color="#9a0000"/><stop offset="0.8850" stop-color="#800000"/><stop offset="1.0000" stop-color="#8c0000"/></linearGradient>
<linearGradient id="g70" x1="0" y1="0" x2="1" y2="0"><stop offset="0.0000" stop-color="#ffc1c1"/><stop offset="0.0035" stop-color="#ffc1c1"/><stop offset="0.0488" stop-color="#ffb5b5"/><stop offset="0.1000" stop-color="#ffa5a5"/><stop offset="0.1533" stop-color="#ff9999"/><stop offset="0.1882" stop-color="#ff8d8d"/><stop offset="0.2056" stop-color="#ff8585"/><stop offset="0.2387" stop-color="#ff7171"/><stop offset="0.3101" stop-color="#ff4545"/><stop offset="0.3624" stop-color="#ff2929"/><stop offset="0.4007" stop-color="#ff1111"/><stop offset="0.4495" stop-color="#fa0000"/><stop offset="0.4913" stop-color="#ee0000"/><stop offset="0.5366" stop-color="#e00000"/><stop offset="0.5540" stop-color="#da0000"/><stop offset="0.7108" stop-color="#9e0000"/><stop offset="0.8850" stop-color="#800000"/><stop offset="1.0000" stop-color="#930000"/></linearGradient>
<filter id="f71" filterUnits="userSpaceOnUse" x="1229.0" y="955" width="634.0" height="270.5"><feGaussianBlur stdDeviation="0.3 1.6"/></filter>
<linearGradient id="g72" x1="0" y1="0" x2="1" y2="0"><stop offset="0.0000" stop-color="#bc0000"/><stop offset="0.1893" stop-color="#c60000"/><stop offset="0.3689" stop-color="#e60000"/><stop offset="0.5488" stop-color="#fe0000"/><stop offset="0.7287" stop-color="#ff3d3d"/><stop offset="0.9087" stop-color="#ffe1e1"/><stop offset="1.0000" stop-color="#8d8dff"/></linearGradient>
<linearGradient id="g73" x1="0" y1="0" x2="1" y2="0"><stop offset="0.0000" stop-color="#cc0000"/><stop offset="0.1893" stop-color="#cc0000"/><stop offset="0.3689" stop-color="#e00000"/><stop offset="0.5488" stop-color="#ff1d1d"/><stop offset="0.7287" stop-color="#ff7d7d"/><stop offset="0.9087" stop-color="#fffdfd"/><stop offset="1.0000" stop-color="#8181ff"/></linearGradient>
<linearGradient id="g74" x1="0" y1="0" x2="1" y2="0"><stop offset="0.0000" stop-color="#c60000"/><stop offset="0.1893" stop-color="#c60000"/><stop offset="0.3689" stop-color="#fe0000"/><stop offset="0.5488" stop-color="#fe0000"/><stop offset="0.7287" stop-color="#ff7d7d"/><stop offset="0.9087" stop-color="#ffe1e1"/><stop offset="1.0000" stop-color="#9d9dff"/></linearGradient>
<linearGradient id="g75" x1="0" y1="0" x2="1" y2="0"><stop offset="0.0000" stop-color="#ff1d1d"/><stop offset="0.1893" stop-color="#ff7d7d"/><stop offset="0.3689" stop-color="#ff1d1d"/><stop offset="0.5488" stop-color="#ff9999"/><stop offset="0.7287" stop-color="#fffdfd"/><stop offset="0.9087" stop-color="#fffdfd"/><stop offset="1.0000" stop-color="#cdcdff"/></linearGradient>
<linearGradient id="g76" x1="0" y1="0" x2="1" y2="0"><stop offset="0.0000" stop-color="#e00000"/><stop offset="0.1893" stop-color="#e00000"/><stop offset="0.3689" stop-color="#e00000"/><stop offset="0.5488" stop-color="#e00000"/><stop offset="0.7287" stop-color="#e00000"/><stop offset="0.9087" stop-color="#ff5d5d"/><stop offset="1.0000" stop-color="#ffc1c1"/></linearGradient>
<linearGradient id="g77" x1="0" y1="0" x2="1" y2="0"><stop offset="0.0000" stop-color="#ff1d1d"/><stop offset="0.1893" stop-color="#ff3131"/><stop offset="0.3689" stop-color="#ffadad"/><stop offset="0.5488" stop-color="#d5d5ff"/><stop offset="0.7287" stop-color="#c1c1ff"/><stop offset="0.9087" stop-color="#c1c1ff"/><stop offset="1.0000" stop-color="#fffdfd"/></linearGradient>
<linearGradient id="g78" x1="0" y1="0" x2="1" y2="0"><stop offset="0.0000" stop-color="#ffd1d1"/><stop offset="0.1893" stop-color="#ffd1d1"/><stop offset="0.3689" stop-color="#ffd1d1"/><stop offset="0.5488" stop-color="#ffd5d5"/><stop offset="0.7287" stop-color="#ffe1e1"/><stop offset="0.9087" stop-color="#ffe9e9"/><stop offset="1.0000" stop-color="#fff5f5"/></linearGradient>
<linearGradient id="g79" x1="0" y1="0" x2="1" y2="0"><stop offset="0.0000" stop-color="#c60000"/><stop offset="0.1893" stop-color="#c60000"/><stop offset="0.3689" stop-color="#c60000"/><stop offset="0.5488" stop-color="#d00000"/><stop offset="0.7287" stop-color="#ff1d1d"/><stop offset="0.9087" stop-color="#ff7d7d"/><stop offset="1.0000" stop-color="#ffc1c1"/></linearGradient>
<linearGradient id="g80" x1="0" y1="0" x2="1" y2="0"><stop offset="0.0000" stop-color="#ffd1d1"/><stop offset="0.1893" stop-color="#ffd1d1"/><stop offset="0.3689" stop-color="#ffd5d5"/><stop offset="0.5488" stop-color="#ffe1e1"/><stop offset="0.7287" stop-color="#ffe9e9"/><stop offset="0.9087" stop-color="#fffdfd"/><stop offset="1.0000" stop-color="#e1e1ff"/></linearGradient>
<linearGradient id="g81" x1="0" y1="0" x2="1" y2="0"><stop offset="0.0000" stop-color="#ff5151"/><stop offset="0.1893" stop-color="#ffd1d1"/><stop offset="0.3689" stop-color="#c1c1ff"/><stop offset="0.5488" stop-color="#8181ff"/><stop offset="0.7287" stop-color="#1d1dff"/><stop offset="0.9087" stop-color="#1d1dff"/><stop offset="1.0000" stop-color="#1d1dff"/></linearGradient>
<linearGradient id="g82" x1="0" y1="0" x2="1" y2="0"><stop offset="0.0000" stop-color="#ffe1e1"/><stop offset="0.1893" stop-color="#ffe9e9"/><stop offset="0.3689" stop-color="#fff5f5"/><stop offset="0.5488" stop-color="#fffdfd"/><stop offset="0.7287" stop-color="#fffdfd"/><stop offset="0.9087" stop-color="#fffdfd"/><stop offset="1.0000" stop-color="#fffdfd"/></linearGradient>
<linearGradient id="g83" x1="0" y1="0" x2="1" y2="0"><stop offset="0.0000" stop-color="#d00000"/><stop offset="0.1893" stop-color="#d00000"/><stop offset="0.3689" stop-color="#d00000"/><stop offset="0.5488" stop-color="#cc0000"/><stop offset="0.7287" stop-color="#ff3d3d"/><stop offset="0.9087" stop-color="#ff8d8d"/><stop offset="1.0000" stop-color="#ffc1c1"/></linearGradient>
<linearGradient id="g84" x1="0" y1="0" x2="1" y2="0"><stop offset="0.0000" stop-color="#ffc1c1"/><stop offset="0.1893" stop-color="#ffc1c1"/><stop offset="0.3689" stop-color="#ffc1c1"/><stop offset="0.5488" stop-color="#ffcdcd"/><stop offset="0.7287" stop-color="#ffd5d5"/><stop offset="0.9087" stop-color="#ffe1e1"/><stop offset="1.0000" stop-color="#ffe9e9"/></linearGradient>
<linearGradient id="g85" x1="0" y1="0" x2="1" y2="0"><stop offset="0.0000" stop-color="#ff8d8d"/><stop offset="0.1893" stop-color="#fffdfd"/><stop offset="0.3689" stop-color="#adadff"/><stop offset="0.5488" stop-color="#5d5dff"/><stop offset="0.7287" stop-color="#5d5dff"/><stop offset="0.9087" stop-color="#9999ff"/><stop offset="1.0000" stop-color="#9d9dff"/></linearGradient>
<linearGradient id="g86" x1="0" y1="0" x2="1" y2="0"><stop offset="0.0000" stop-color="#fff5f5"/><stop offset="0.1893" stop-color="#fffdfd"/><stop offset="0.3689" stop-color="#fffdfd"/><stop offset="0.5488" stop-color="#fffdfd"/><stop offset="0.7287" stop-color="#fffdfd"/><stop offset="0.9087" stop-color="#fffdfd"/><stop offset="1.0000" stop-color="#fffdfd"/></linearGradient>
<linearGradient id="g87" x1="0" y1="0" x2="1" y2="0"><stop offset="0.0000" stop-color="#ea0000"/><stop offset="0.1893" stop-color="#ea0000"/><stop offset="0.3689" stop-color="#ea0000"/><stop offset="0.5488" stop-color="#fe0000"/><stop offset="0.7287" stop-color="#ff1d1d"/><stop offset="0.9087" stop-color="#ff7d7d"/><stop offset="1.0000" stop-color="#ffc1c1"/></linearGradient>
<linearGradient id="g88" x1="0" y1="0" x2="1" y2="0"><stop offset="0.0000" stop-color="#ffd1d1"/><stop offset="0.1893" stop-color="#ffd5d5"/><stop offset="0.3689" stop-color="#ffe1e1"/><stop offset="0.5488" stop-color="#ffe9e9"/><stop offset="0.7287" stop-color="#fff5f5"/><stop offset="0.9087" stop-color="#fffdfd"/><stop offset="1.0000" stop-color="#fffdfd"/></linearGradient>
<linearGradient id="g89" x1="0" y1="0" x2="1" y2="0"><stop offset="0.0000" stop-color="#ffd1d1"/><stop offset="0.1893" stop-color="#ffe9e9"/><stop offset="0.3689" stop-color="#adadff"/><stop offset="0.5488" stop-color="#5d5dff"/><stop offset="0.7287" stop-color="#5d5dff"/><stop offset="0.9087" stop-color="#9999ff"/><stop offset="1.0000" stop-color="#d5d5ff"/></linearGradient>
<linearGradient id="g90" x1="0" y1="0" x2="1" y2="0"><stop offset="0.0000" stop-color="#ffe1e1"/><stop offset="0.1893" stop-color="#ffe9e9"/><stop offset="0.3689" stop-color="#fff5f5"/><stop offset="0.5488" stop-color="#fff5f5"/><stop offset="0.7287" stop-color="#fffdfd"/><stop offset="0.9087" stop-color="#fffdfd"/><stop offset="1.0000" stop-color="#fffdfd"/></linearGradient>
<linearGradient id="g91" x1="0" y1="0" x2="1" y2="0"><stop offset="0.0000" stop-color="#fe0000"/><stop offset="0.1893" stop-color="#fe0000"/><stop offset="0.3689" stop-color="#fe0000"/><stop offset="0.5488" stop-color="#ff5151"/><stop offset="0.7287" stop-color="#ff8585"/><stop offset="0.9087" stop-color="#ff9d9d"/><stop offset="1.0000" stop-color="#ffe9e9"/></linearGradient>
<linearGradient id="g92" x1="0" y1="0" x2="1" y2="0"><stop offset="0.0000" stop-color="#ffc1c1"/><stop offset="0.1893" stop-color="#ffb9b9"/><stop offset="0.3689" stop-color="#ffc1c1"/><stop offset="0.5488" stop-color="#ffcdcd"/><stop offset="0.7287" stop-color="#ffd5d5"/><stop offset="0.9087" stop-color="#ffe1e1"/><stop offset="1.0000" stop-color="#ffe9e9"/></linearGradient>
<linearGradient id="g93" x1="0" y1="0" x2="1" y2="0"><stop offset="0.0000" stop-color="#ff3d3d"/><stop offset="0.1893" stop-color="#ff3d3d"/><stop offset="0.3689" stop-color="#ff5d5d"/><stop offset="0.5488" stop-color="#ff7d7d"/><stop offset="0.7287" stop-color="#ff9999"/><stop offset="0.9087" stop-color="#ffadad"/><stop offset="1.0000" stop-color="#ffd5d5"/></linearGradient>
<linearGradient id="g94" x1="0" y1="0" x2="1" y2="0"><stop offset="0.0000" stop-color="#ffd1d1"/><stop offset="0.1893" stop-color="#ffe1e1"/><stop offset="0.3689" stop-color="#fff5f5"/><stop offset="0.5488" stop-color="#e9e9ff"/><stop offset="0.7287" stop-color="#c1c1ff"/><stop offset="0.9087" stop-color="#c1c1ff"/><stop offset="1.0000" stop-color="#e1e1ff"/></linearGradient>
<linearGradient id="g95" x1="0" y1="0" x2="1" y2="0"><stop offset="0.0000" stop-color="#ff5d5d"/><stop offset="0.1893" stop-color="#ff7171"/><stop offset="0.3689" stop-color="#ff8585"/><stop offset="0.5488" stop-color="#ff9d9d"/><stop offset="0.7287" stop-color="#ffadad"/><stop offset="0.9087" stop-color="#ffc1c1"/><stop offset="1.0000" stop-color="#ffe1e1"/></linearGradient>
<linearGradient id="g96" x1="0" y1="0" x2="1" y2="0"><stop offset="0.0000" stop-color="#ffe1e1"/><stop offset="0.1893" stop-color="#ffe9e9"/><stop offset="0.3689" stop-color="#fff5f5"/><stop offset="0.5488" stop-color="#fffdfd"/><stop offset="0.7287" stop-color="#fffdfd"/><stop offset="0.9087" stop-color="#fffdfd"/><stop offset="1.0000" stop-color="#fffdfd"/></linearGradient>
<linearGradient id="g97" x1="0" y1="0" x2="1" y2="0"><stop offset="0.0000" stop-color="#ff5d5d"/><stop offset="0.1893" stop-color="#ff7171"/><stop offset="0.3689" stop-color="#ff8585"/><stop offset="0.5488" stop-color="#ff9999"/><stop offset="0.7287" stop-color="#ffadad"/><stop offset="0.9087" stop-color="#ffc1c1"/><stop offset="1.0000" stop-color="#ffd5d5"/></linearGradient>
<linearGradient id="g98" x1="0" y1="0" x2="1" y2="0"><stop offset="0.0000" stop-color="#ffadad"/><stop offset="0.1893" stop-color="#ffb9b9"/><stop offset="0.3689" stop-color="#ffc1c1"/><stop offset="0.5488" stop-color="#ffcdcd"/><stop offset="0.7287" stop-color="#ffd5d5"/><stop offset="0.9087" stop-color="#ffe1e1"/><stop offset="1.0000" stop-color="#ffe9e9"/></linearGradient>
<linearGradient id="g99" x1="0" y1="0" x2="1" y2="0"><stop offset="0.0000" stop-color="#ffe9e9"/><stop offset="0.1893" stop-color="#fff5f5"/><stop offset="0.3689" stop-color="#fff5f5"/><stop offset="0.5488" stop-color="#fffdfd"/><stop offset="0.7287" stop-color="#fffdfd"/><stop offset="0.9087" stop-color="#fffdfd"/><stop offset="1.0000" stop-color="#fffdfd"/></linearGradient>
<linearGradient id="g100" x1="0" y1="0" x2="1" y2="0"><stop offset="0.0000" stop-color="#ffc1c1"/><stop offset="0.1882" stop-color="#ff8d8d"/><stop offset="0.3624" stop-color="#ff2929"/><stop offset="0.5366" stop-color="#e00000"/><stop offset="0.7108" stop-color="#9e0000"/><stop offset="0.8850" stop-color="#800000"/><stop offset="1.0000" stop-color="#930000"/></linearGradient>
<linearGradient id="g101" x1="0" y1="0" x2="1" y2="0"><stop offset="0.0000" stop-color="#ff7d7d"/><stop offset="0.1882" stop-color="#ff1d1d"/><stop offset="0.3624" stop-color="#e00000"/><stop offset="0.5366" stop-color="#cc0000"/><stop offset="0.7108" stop-color="#e00000"/><stop offset="0.8850" stop-color="#ea0000"/><stop offset="1.0000" stop-color="#ff1d1d"/></linearGradient>
<linearGradient id="g102" x1="0" y1="0" x2="1" y2="0"><stop offset="0.0000" stop-color="#fffdfd"/><stop offset="0.1882" stop-color="#ffd1d1"/><stop offset="0.3624" stop-color="#ff9d9d"/><stop offset="0.5366" stop-color="#ff1d1d"/><stop offset="0.7108" stop-color="#cc0000"/><stop offset="0.8850" stop-color="#a80000"/><stop offset="1.0000" stop-color="#cc0000"/></linearGradient>
<linearGradient id="g103" x1="0" y1="0" x2="1" y2="0"><stop offset="0.0000" stop-color="#ff7d7d"/><stop offset="0.1882" stop-color="#ff3d3d"/><stop offset="0.3624" stop-color="#ff1d1d"/><stop offset="0.5366" stop-color="#ff3d3d"/><stop offset="0.7108" stop-color="#ff8d8d"/><stop offset="0.8850" stop-color="#ff7d7d"/><stop offset="1.0000" stop-color="#ff9d9d"/></linearGradient>
<linearGradient id="g104" x1="0" y1="0" x2="1" y2="0"><stop offset="0.0000" stop-color="#5d5dff"/><stop offset="0.1882" stop-color="#2929ff"/><stop offset="0.3624" stop-color="#8181ff"/><stop offset="0.5366" stop-color="#fffdfd"/><stop offset="0.7108" stop-color="#ff7d7d"/><stop offset="0.8850" stop-color="#ff1d1d"/><stop offset="1.0000" stop-color="#ff3d3d"/></linearGradient>
<linearGradient id="g105" x1="0" y1="0" x2="1" y2="0"><stop offset="0.0000" stop-color="#a1a1ff"/><stop offset="0.1882" stop-color="#adadff"/><stop offset="0.3624" stop-color="#d5d5ff"/><stop offset="0.5366" stop-color="#ffe9e9"/><stop offset="0.7108" stop-color="#ff9999"/><stop offset="0.8850" stop-color="#ff5d5d"/><stop offset="1.0000" stop-color="#ff7171"/></linearGradient>
<linearGradient id="g106" x1="0" y1="0" x2="1" y2="0"><stop offset="0.0000" stop-color="#ffc1c1"/><stop offset="0.1882" stop-color="#ff8d8d"/><stop offset="0.3624" stop-color="#ff5d5d"/><stop offset="0.5366" stop-color="#ff2929"/><stop offset="0.7108" stop-color="#ff1d1d"/><stop offset="0.8850" stop-color="#ff3d3d"/><stop offset="1.0000" stop-color="#ffadad"/></linearGradient>
<linearGradient id="g107" x1="0" y1="0" x2="1" y2="0"><stop offset="0.0000" stop-color="#c1c1ff"/><stop offset="0.1882" stop-color="#ff3d3d"/><stop offset="0.3624" stop-color="#ea0000"/><stop offset="0.5366" stop-color="#ea0000"/><stop offset="0.7108" stop-color="#ff1d1d"/><stop offset="0.8850" stop-color="#ff5d5d"/><stop offset="1.0000" stop-color="#ffc1c1"/></linearGradient>
<linearGradient id="g108" x1="0" y1="0" x2="1" y2="0"><stop offset="0.0000" stop-color="#ff3d3d"/><stop offset="0.1882" stop-color="#3d3dff"/><stop offset="0.3624" stop-color="#5d5dff"/><stop offset="0.5366" stop-color="#c1c1ff"/><stop offset="0.7108" stop-color="#fffdfd"/><stop offset="0.8850" stop-color="#ffc1c1"/><stop offset="1.0000" stop-color="#ffd1d1"/></linearGradient>
<linearGradient id="g109" x1="0" y1="0" x2="1" y2="0"><stop offset="0.0000" stop-color="#ffc1c1"/><stop offset="0.1882" stop-color="#ff7d7d"/><stop offset="0.3624" stop-color="#ff1d1d"/><stop offset="0.5366" stop-color="#ea0000"/><stop offset="0.7108" stop-color="#e00000"/><stop offset="0.8850" stop-color="#ff1d1d"/><stop offset="1.0000" stop-color="#ff7171"/></linearGradient>
<linearGradient id="g110" x1="0" y1="0" x2="1" y2="0"><stop offset="0.0000" stop-color="#0000ef"/><stop offset="0.1882" stop-color="#0101ff"/><stop offset="0.3624" stop-color="#2929ff"/><stop offset="0.5366" stop-color="#8181ff"/><stop offset="0.7108" stop-color="#d5d5ff"/><stop offset="0.8850" stop-color="#ffc1c1"/><stop offset="1.0000" stop-color="#ff7d7d"/></linearGradient>
<linearGradient id="g111" x1="0" y1="0" x2="1" y2="0"><stop offset="0.0000" stop-color="#ffd1d1"/><stop offset="0.1882" stop-color="#ff9d9d"/><stop offset="0.3624" stop-color="#ff1d1d"/><stop offset="0.5366" stop-color="#ea0000"/><stop offset="0.7108" stop-color="#e00000"/><stop offset="0.8850" stop-color="#ff2929"/><stop offset="1.0000" stop-color="#ff5d5d"/></linearGradient>
<linearGradient id="g112" x1="0" y1="0" x2="1" y2="0"><stop offset="0.0000" stop-color="#8181ff"/><stop offset="0.1882" stop-color="#9d9dff"/><stop offset="0.3624" stop-color="#c1c1ff"/><stop offset="0.5366" stop-color="#fffdfd"/><stop offset="0.7108" stop-color="#ffc1c1"/><stop offset="0.8850" stop-color="#ff8d8d"/><stop offset="1.0000" stop-color="#ff7d7d"/></linearGradient>
<linearGradient id="g113" x1="0" y1="0" x2="1" y2="0"><stop offset="0.0000" stop-color="#ffadad"/><stop offset="0.1882" stop-color="#ff7d7d"/><stop offset="0.3624" stop-color="#ff3d3d"/><stop offset="0.5366" stop-color="#ff2929"/><stop offset="0.7108" stop-color="#ff5151"/><stop offset="0.8850" stop-color="#ff5d5d"/><stop offset="1.0000" stop-color="#ff5d5d"/></linearGradient>
<linearGradient id="g114" x1="0" y1="0" x2="1" y2="0"><stop offset="0.0000" stop-color="#9d9dff"/><stop offset="0.1882" stop-color="#8181ff"/><stop offset="0.3624" stop-color="#9d9dff"/><stop offset="0.5366" stop-color="#e1e1ff"/><stop offset="0.7108" stop-color="#ffd1d1"/><stop offset="0.8850" stop-color="#ffc1c1"/><stop offset="1.0000" stop-color="#ff9d9d"/></linearGradient>
<linearGradient id="g115" x1="0" y1="0" x2="1" y2="0"><stop offset="0.0000" stop-color="#ffe1e1"/><stop offset="0.1882" stop-color="#ffc1c1"/><stop offset="0.3624" stop-color="#ff8d8d"/><stop offset="0.5366" stop-color="#ff5151"/><stop offset="0.7108" stop-color="#ff3d3d"/><stop offset="0.8850" stop-color="#ff5151"/><stop offset="1.0000" stop-color="#ff5d5d"/></linearGradient>
<linearGradient id="g116" x1="0" y1="0" x2="1" y2="0"><stop offset="0.0000" stop-color="#e1e1ff"/><stop offset="0.1882" stop-color="#ffe1e1"/><stop offset="0.3624" stop-color="#ffd1d1"/><stop offset="0.5366" stop-color="#ffcdcd"/><stop offset="0.7108" stop-color="#ffc1c1"/><stop offset="0.8850" stop-color="#ffc1c1"/><stop offset="1.0000" stop-color="#ffc1c1"/></linearGradient>
<linearGradient id="g117" x1="0" y1="0" x2="1" y2="0"><stop offset="0.0000" stop-color="#fffdfd"/><stop offset="0.1882" stop-color="#e1e1ff"/><stop offset="0.3624" stop-color="#d5d5ff"/><stop offset="0.5366" stop-color="#ffe1e1"/><stop offset="0.7108" stop-color="#ffc1c1"/><stop offset="0.8850" stop-color="#ffadad"/><stop offset="1.0000" stop-color="#ffadad"/></linearGradient>
<linearGradient id="g118" x1="0" y1="0" x2="1" y2="0"><stop offset="0.0000" stop-color="#ffd1d1"/><stop offset="0.1882" stop-color="#ffadad"/><stop offset="0.3624" stop-color="#ff9d9d"/><stop offset="0.5366" stop-color="#ff8d8d"/><stop offset="0.7108" stop-color="#ff7d7d"/><stop offset="0.8850" stop-color="#ff5d5d"/><stop offset="1.0000" stop-color="#ff5d5d"/></linearGradient>
<linearGradient id="g119" x1="0" y1="0" x2="1" y2="0"><stop offset="0.0000" stop-color="#e9e9ff"/><stop offset="0.1882" stop-color="#f5f5ff"/><stop offset="0.3624" stop-color="#fff5f5"/><stop offset="0.5366" stop-color="#ffe1e1"/><stop offset="0.7108" stop-color="#ffcdcd"/><stop offset="0.8850" stop-color="#ffc1c1"/><stop offset="1.0000" stop-color="#ffc1c1"/></linearGradient>
<linearGradient id="g120" x1="0" y1="0" x2="1" y2="0"><stop offset="0.0000" stop-color="#ffe1e1"/><stop offset="0.1882" stop-color="#ffc1c1"/><stop offset="0.3624" stop-color="#ff9d9d"/><stop offset="0.5366" stop-color="#ff9999"/><stop offset="0.7108" stop-color="#ff8d8d"/><stop offset="0.8850" stop-color="#ff7d7d"/><stop offset="1.0000" stop-color="#ff7d7d"/></linearGradient>
<linearGradient id="g121" x1="0" y1="0" x2="1" y2="0"><stop offset="0.0000" stop-color="#fffdfd"/><stop offset="0.1882" stop-color="#fff5f5"/><stop offset="0.3624" stop-color="#fff5f5"/><stop offset="0.5366" stop-color="#ffe9e9"/><stop offset="0.7108" stop-color="#ffe9e9"/><stop offset="0.8850" stop-color="#ffe9e9"/><stop offset="1.0000" stop-color="#ffe9e9"/></linearGradient>
<clipPath id="clipMRL"><rect x="1250" y="988" width="296" height="237.5"/></clipPath>
<clipPath id="clipMRR"><rect x="1546" y="973" width="300" height="252.5"/></clipPath>
<clipPath id="clipMRLe"><path d="M1229.0,628.5 L1340.3,628.5 L1329.0,642.3 L1316.9,653.6 L1313.4,671.8 L1304.7,687.4 L1297.8,701.3 L1290.0,713.4 L1280.5,723.8 L1278.7,749.8 L1273.5,763.6 L1270.9,803.5 L1266.6,846.8 L1264.9,859.0 L1266.6,871.0 L1263.1,902.3 L1260.5,916.2 L1262.3,930.0 L1262.0,960.0 L1259.0,985.0 L1257.0,1100.0 L1257.0,1225.5 L1229.0,1225.5Z"/></clipPath>
<radialGradient id="r122" cx="1818" cy="630" r="50" gradientUnits="userSpaceOnUse"><stop offset="0.000" stop-color="#ff2020"/><stop offset="0.400" stop-color="#ff8080"/><stop offset="0.800" stop-color="#ffd8d8"/><stop offset="1.000" stop-color="#fff8f8"/></radialGradient>
<linearGradient id="g123" x1="1735" y1="625" x2="1790" y2="680" gradientUnits="userSpaceOnUse"><stop offset="0.0000" stop-color="#e6e6ff"/><stop offset="0.5000" stop-color="#8f8fff"/><stop offset="1.0000" stop-color="#1a1aff"/></linearGradient>
<radialGradient id="r124" cx="1792" cy="688" r="46" gradientUnits="userSpaceOnUse"><stop offset="0.000" stop-color="#ff1a1a"/><stop offset="0.300" stop-color="#ff6a6a"/><stop offset="0.700" stop-color="#ffcccc"/><stop offset="1.000" stop-color="#fff6f6"/></radialGradient>
<radialGradient id="r125" cx="1806" cy="755" r="46" gradientUnits="userSpaceOnUse"><stop offset="0.000" stop-color="#ff1a1a"/><stop offset="0.300" stop-color="#ff6a6a"/><stop offset="0.700" stop-color="#ffcccc"/><stop offset="1.000" stop-color="#fff6f6"/></radialGradient>
<radialGradient id="r126" cx="1820" cy="823" r="46" gradientUnits="userSpaceOnUse"><stop offset="0.000" stop-color="#ff1a1a"/><stop offset="0.300" stop-color="#ff6a6a"/><stop offset="0.700" stop-color="#ffcccc"/><stop offset="1.000" stop-color="#fff6f6"/></radialGradient>
<radialGradient id="r127" cx="1830" cy="898" r="46" gradientUnits="userSpaceOnUse"><stop offset="0.000" stop-color="#ff1a1a"/><stop offset="0.300" stop-color="#ff6a6a"/><stop offset="0.700" stop-color="#ffcccc"/><stop offset="1.000" stop-color="#fff6f6"/></radialGradient>
<linearGradient id="g128" x1="0" y1="0" x2="0" y2="1"><stop offset="0.0000" stop-color="#800000"/><stop offset="0.0500" stop-color="#980000"/><stop offset="0.1000" stop-color="#b20000"/><stop offset="0.1500" stop-color="#cc0000"/><stop offset="0.2000" stop-color="#e60000"/><stop offset="0.2500" stop-color="#fe0000"/><stop offset="0.3000" stop-color="#ff3131"/><stop offset="0.3500" stop-color="#ff6565"/><stop offset="0.4000" stop-color="#ff9999"/><stop offset="0.4500" stop-color="#ffcdcd"/><stop offset="0.5000" stop-color="#fffdfd"/><stop offset="0.5500" stop-color="#cdcdff"/><stop offset="0.6000" stop-color="#9999ff"/><stop offset="0.6500" stop-color="#6565ff"/><stop offset="0.7000" stop-color="#3131ff"/><stop offset="0.7500" stop-color="#0101ff"/><stop offset="0.8000" stop-color="#0000db"/><stop offset="0.8500" stop-color="#0000b7"/><stop offset="0.9000" stop-color="#000092"/><stop offset="0.9500" stop-color="#00006e"/><stop offset="1.0000" stop-color="#00004c"/></linearGradient>
<filter id="f129" filterUnits="userSpaceOnUse" x="170.0" y="1414.5" width="652.0" height="597.0"><feGaussianBlur stdDeviation="0 4"/></filter>
<linearGradient id="g130" x1="0" y1="0" x2="1" y2="0"><stop offset="0.0000" stop-color="#39568c"/><stop offset="0.0215" stop-color="#3a548c"/><stop offset="0.0876" stop-color="#3d4d8a"/><stop offset="0.1702" stop-color="#424186"/><stop offset="0.2529" stop-color="#453882"/><stop offset="0.3521" stop-color="#472e7c"/><stop offset="0.4347" stop-color="#482576"/><stop offset="0.5008" stop-color="#481d6f"/><stop offset="0.5669" stop-color="#482576"/><stop offset="0.6496" stop-color="#472e7c"/><stop offset="0.7488" stop-color="#453882"/><stop offset="0.8314" stop-color="#424186"/><stop offset="0.9140" stop-color="#3d4d8a"/><stop offset="0.9802" stop-color="#3a548c"/><stop offset="1.0000" stop-color="#39568c"/></linearGradient>
<linearGradient id="g131" x1="0" y1="0" x2="1" y2="0"><stop offset="0.0000" stop-color="#38588c"/><stop offset="0.0215" stop-color="#39558c"/><stop offset="0.0876" stop-color="#3d4e8a"/><stop offset="0.1702" stop-color="#414487"/><stop offset="0.2529" stop-color="#443983"/><stop offset="0.3521" stop-color="#472f7d"/><stop offset="0.4347" stop-color="#482677"/><stop offset="0.5008" stop-color="#482071"/><stop offset="0.5669" stop-color="#482677"/><stop offset="0.6496" stop-color="#472f7d"/><stop offset="0.7488" stop-color="#443983"/><stop offset="0.8314" stop-color="#414487"/><stop offset="0.9140" stop-color="#3d4e8a"/><stop offset="0.9802" stop-color="#39558c"/><stop offset="1.0000" stop-color="#38588c"/></linearGradient>
<linearGradient id="g132" x1="0" y1="0" x2="1" y2="0"><stop offset="0.0000" stop-color="#38598c"/><stop offset="0.0215" stop-color="#38588c"/><stop offset="0.0876" stop-color="#3c508b"/><stop offset="0.1702" stop-color="#404688"/><stop offset="0.2529" stop-color="#433d84"/><stop offset="0.3521" stop-color="#46337f"/><stop offset="0.4347" stop-color="#472a7a"/><stop offset="0.5008" stop-color="#482475"/><stop offset="0.5669" stop-color="#472a7a"/><stop offset="0.6496" stop-color="#46337f"/><stop offset="0.7488" stop-color="#433d84"/><stop offset="0.8314" stop-color="#404688"/><stop offset="0.9140" stop-color="#3c508b"/><stop offset="0.9802" stop-color="#38588c"/><stop offset="1.0000" stop-color="#38598c"/></linearGradient>
<linearGradient id="g133" x1="0" y1="0" x2="1" y2="0"><stop offset="0.0000" stop-color="#375b8d"/><stop offset="0.0215" stop-color="#38598c"/><stop offset="0.0876" stop-color="#3b518b"/><stop offset="0.1702" stop-color="#3f4889"/><stop offset="0.2529" stop-color="#423f85"/><stop offset="0.3521" stop-color="#453781"/><stop offset="0.4347" stop-color="#472f7d"/><stop offset="0.5008" stop-color="#482979"/><stop offset="0.5669" stop-color="#472f7d"/><stop offset="0.6496" stop-color="#453781"/><stop offset="0.7488" stop-color="#423f85"/><stop offset="0.8314" stop-color="#3f4889"/><stop offset="0.9140" stop-color="#3b518b"/><stop offset="0.9802" stop-color="#38598c"/><stop offset="1.0000" stop-color="#375b8d"/></linearGradient>
<linearGradient id="g134" x1="0" y1="0" x2="1" y2="0"><stop offset="0.0000" stop-color="#365d8d"/><stop offset="0.0215" stop-color="#375b8d"/><stop offset="0.0876" stop-color="#3a538b"/><stop offset="0.1702" stop-color="#3e4a89"/><stop offset="0.2529" stop-color="#424186"/><stop offset="0.3521" stop-color="#443983"/><stop offset="0.4347" stop-color="#46337f"/><stop offset="0.5008" stop-color="#472d7b"/><stop offset="0.5669" stop-color="#46337f"/><stop offset="0.6496" stop-color="#443983"/><stop offset="0.7488" stop-color="#424186"/><stop offset="0.8314" stop-color="#3e4a89"/><stop offset="0.9140" stop-color="#3a538b"/><stop offset="0.9802" stop-color="#375b8d"/><stop offset="1.0000" stop-color="#365d8d"/></linearGradient>
<linearGradient id="g135" x1="0" y1="0" x2="1" y2="0"><stop offset="0.0000" stop-color="#355f8d"/><stop offset="0.0215" stop-color="#365d8d"/><stop offset="0.0876" stop-color="#39558c"/><stop offset="0.1702" stop-color="#3d4d8a"/><stop offset="0.2529" stop-color="#404588"/><stop offset="0.3521" stop-color="#433d84"/><stop offset="0.4347" stop-color="#453781"/><stop offset="0.5008" stop-color="#46327e"/><stop offset="0.5669" stop-color="#453781"/><stop offset="0.6496" stop-color="#433d84"/><stop offset="0.7488" stop-color="#404588"/><stop offset="0.8314" stop-color="#3d4d8a"/><stop offset="0.9140" stop-color="#39558c"/><stop offset="0.9802" stop-color="#365d8d"/><stop offset="1.0000" stop-color="#355f8d"/></linearGradient>
<linearGradient id="g136" x1="0" y1="0" x2="1" y2="0"><stop offset="0.0000" stop-color="#34618d"/><stop offset="0.0215" stop-color="#355f8d"/><stop offset="0.0876" stop-color="#38598c"/><stop offset="0.1702" stop-color="#3c508b"/><stop offset="0.2529" stop-color="#3f4788"/><stop offset="0.3521" stop-color="#424086"/><stop offset="0.4347" stop-color="#443a83"/><stop offset="0.5008" stop-color="#453581"/><stop offset="0.5669" stop-color="#443a83"/><stop offset="0.6496" stop-color="#424086"/><stop offset="0.7488" stop-color="#3f4788"/><stop offset="0.8314" stop-color="#3c508b"/><stop offset="0.9140" stop-color="#38598c"/><stop offset="0.9802" stop-color="#355f8d"/><stop offset="1.0000" stop-color="#34618d"/></linearGradient>
<linearGradient id="g137" x1="0" y1="0" x2="1" y2="0"><stop offset="0.0000" stop-color="#33638d"/><stop offset="0.0215" stop-color="#33628d"/><stop offset="0.0876" stop-color="#375b8d"/><stop offset="0.1702" stop-color="#3b528b"/><stop offset="0.2529" stop-color="#3e4a89"/><stop offset="0.3521" stop-color="#414487"/><stop offset="0.4347" stop-color="#433e85"/><stop offset="0.5008" stop-color="#443983"/><stop offset="0.5669" stop-color="#433e85"/><stop offset="0.6496" stop-color="#414487"/><stop offset="0.7488" stop-color="#3e4a89"/><stop offset="0.8314" stop-color="#3b528b"/><stop offset="0.9140" stop-color="#375b8d"/><stop offset="0.9802" stop-color="#33628d"/><stop offset="1.0000" stop-color="#33638d"/></linearGradient>
<linearGradient id="g138" x1="0" y1="0" x2="1" y2="0"><stop offset="0.0000" stop-color="#31668e"/><stop offset="0.0215" stop-color="#32648e"/><stop offset="0.0876" stop-color="#355e8d"/><stop offset="0.1702" stop-color="#39558c"/><stop offset="0.2529" stop-color="#3d4d8a"/><stop offset="0.3521" stop-color="#3f4788"/><stop offset="0.4347" stop-color="#424186"/><stop offset="0.5008" stop-color="#433d84"/><stop offset="0.5669" stop-color="#424186"/><stop offset="0.6496" stop-color="#3f4788"/><stop offset="0.7488" stop-color="#3d4d8a"/><stop offset="0.8314" stop-color="#39558c"/><stop offset="0.9140" stop-color="#355e8d"/><stop offset="0.9802" stop-color="#32648e"/><stop offset="1.0000" stop-color="#31668e"/></linearGradient>
<linearGradient id="g139" x1="0" y1="0" x2="1" y2="0"><stop offset="0.0000" stop-color="#31688e"/><stop offset="0.0215" stop-color="#31678e"/><stop offset="0.0876" stop-color="#34608d"/><stop offset="0.1702" stop-color="#38588c"/><stop offset="0.2529" stop-color="#3c508b"/><stop offset="0.3521" stop-color="#3e4a89"/><stop offset="0.4347" stop-color="#404588"/><stop offset="0.5008" stop-color="#424186"/><stop offset="0.5669" stop-color="#404588"/><stop offset="0.6496" stop-color="#3e4a89"/><stop offset="0.7488" stop-color="#3c508b"/><stop offset="0.8314" stop-color="#38588c"/><stop offset="0.9140" stop-color="#34608d"/><stop offset="0.9802" stop-color="#31678e"/><stop offset="1.0000" stop-color="#31688e"/></linearGradient>
<linearGradient id="g140" x1="0" y1="0" x2="1" y2="0"><stop offset="0.0000" stop-color="#2f6b8e"/><stop offset="0.0215" stop-color="#30698e"/><stop offset="0.0876" stop-color="#33638d"/><stop offset="0.1702" stop-color="#375a8c"/><stop offset="0.2529" stop-color="#3b528b"/><stop offset="0.3521" stop-color="#3d4d8a"/><stop offset="0.4347" stop-color="#3f4889"/><stop offset="0.5008" stop-color="#404588"/><stop offset="0.5669" stop-color="#3f4889"/><stop offset="0.6496" stop-color="#3d4d8a"/><stop offset="0.7488" stop-color="#3b528b"/><stop offset="0.8314" stop-color="#375a8c"/><stop offset="0.9140" stop-color="#33638d"/><stop offset="0.9802" stop-color="#30698e"/><stop offset="1.0000" stop-color="#2f6b8e"/></linearGradient>
<linearGradient id="g141" x1="0" y1="0" x2="1" y2="0"><stop offset="0.0000" stop-color="#2e6d8e"/><stop offset="0.0215" stop-color="#2f6c8e"/><stop offset="0.0876" stop-color="#32658e"/><stop offset="0.1702" stop-color="#365d8d"/><stop offset="0.2529" stop-color="#39558c"/><stop offset="0.3521" stop-color="#3c508b"/><stop offset="0.4347" stop-color="#3e4c8a"/><stop offset="0.5008" stop-color="#3f4889"/><stop offset="0.5669" stop-color="#3e4c8a"/><stop offset="0.6496" stop-color="#3c508b"/><stop offset="0.7488" stop-color="#39558c"/><stop offset="0.8314" stop-color="#365d8d"/><stop offset="0.9140" stop-color="#32658e"/><stop offset="0.9802" stop-color="#2f6c8e"/><stop offset="1.0000" stop-color="#2e6d8e"/></linearGradient>
<linearGradient id="g142" x1="0" y1="0" x2="1" y2="0"><stop offset="0.0000" stop-color="#2e6f8e"/><stop offset="0.0215" stop-color="#2e6d8e"/><stop offset="0.0876" stop-color="#31678e"/><stop offset="0.1702" stop-color="#355f8d"/><stop offset="0.2529" stop-color="#38588c"/><stop offset="0.3521" stop-color="#3a538b"/><stop offset="0.4347" stop-color="#3c4f8a"/><stop offset="0.5008" stop-color="#3e4c8a"/><stop offset="0.5669" stop-color="#3c4f8a"/><stop offset="0.6496" stop-color="#3a538b"/><stop offset="0.7488" stop-color="#38588c"/><stop offset="0.8314" stop-color="#355f8d"/><stop offset="0.9140" stop-color="#31678e"/><stop offset="0.9802" stop-color="#2e6d8e"/><stop offset="1.0000" stop-color="#2e6f8e"/></linearGradient>
<linearGradient id="g143" x1="0" y1="0" x2="1" y2="0"><stop offset="0.0000" stop-color="#2d718e"/><stop offset="0.0215" stop-color="#2e6f8e"/><stop offset="0.0876" stop-color="#30698e"/><stop offset="0.1702" stop-color="#34618d"/><stop offset="0.2529" stop-color="#375b8d"/><stop offset="0.3521" stop-color="#39558c"/><stop offset="0.4347" stop-color="#3b528b"/><stop offset="0.5008" stop-color="#3c4f8a"/><stop offset="0.5669" stop-color="#3b528b"/><stop offset="0.6496" stop-color="#39558c"/><stop offset="0.7488" stop-color="#375b8d"/><stop offset="0.8314" stop-color="#34618d"/><stop offset="0.9140" stop-color="#30698e"/><stop offset="0.9802" stop-color="#2e6f8e"/><stop offset="1.0000" stop-color="#2d718e"/></linearGradient>
<linearGradient id="g144" x1="0" y1="0" x2="1" y2="0"><stop offset="0.0000" stop-color="#2c718e"/><stop offset="0.0215" stop-color="#2d718e"/><stop offset="0.0876" stop-color="#2f6b8e"/><stop offset="0.1702" stop-color="#32648e"/><stop offset="0.2529" stop-color="#365d8d"/><stop offset="0.3521" stop-color="#38598c"/><stop offset="0.4347" stop-color="#3a548c"/><stop offset="0.5008" stop-color="#3b528b"/><stop offset="0.5669" stop-color="#3a548c"/><stop offset="0.6496" stop-color="#38598c"/><stop offset="0.7488" stop-color="#365d8d"/><stop offset="0.8314" stop-color="#32648e"/><stop offset="0.9140" stop-color="#2f6b8e"/><stop offset="0.9802" stop-color="#2d718e"/><stop offset="1.0000" stop-color="#2c718e"/></linearGradient>
<linearGradient id="g145" x1="0" y1="0" x2="1" y2="0"><stop offset="0.0000" stop-color="#2c738e"/><stop offset="0.0215" stop-color="#2c728e"/><stop offset="0.0876" stop-color="#2e6d8e"/><stop offset="0.1702" stop-color="#31668e"/><stop offset="0.2529" stop-color="#34608d"/><stop offset="0.3521" stop-color="#365c8d"/><stop offset="0.4347" stop-color="#38588c"/><stop offset="0.5008" stop-color="#3a548c"/><stop offset="0.5669" stop-color="#38588c"/><stop offset="0.6496" stop-color="#365c8d"/><stop offset="0.7488" stop-color="#34608d"/><stop offset="0.8314" stop-color="#31668e"/><stop offset="0.9140" stop-color="#2e6d8e"/><stop offset="0.9802" stop-color="#2c728e"/><stop offset="1.0000" stop-color="#2c738e"/></linearGradient>
<linearGradient id="g146" x1="0" y1="0" x2="1" y2="0"><stop offset="0.0000" stop-color="#2b758e"/><stop offset="0.0215" stop-color="#2c738e"/><stop offset="0.0876" stop-color="#2e6f8e"/><stop offset="0.1702" stop-color="#31688e"/><stop offset="0.2529" stop-color="#33628d"/><stop offset="0.3521" stop-color="#355e8d"/><stop offset="0.4347" stop-color="#375b8d"/><stop offset="0.5008" stop-color="#38588c"/><stop offset="0.5669" stop-color="#375b8d"/><stop offset="0.6496" stop-color="#355e8d"/><stop offset="0.7488" stop-color="#33628d"/><stop offset="0.8314" stop-color="#31688e"/><stop offset="0.9140" stop-color="#2e6f8e"/><stop offset="0.9802" stop-color="#2c738e"/><stop offset="1.0000" stop-color="#2b758e"/></linearGradient>
<linearGradient id="g147" x1="0" y1="0" x2="1" y2="0"><stop offset="0.0000" stop-color="#2a768e"/><stop offset="0.0215" stop-color="#2b758e"/><stop offset="0.0876" stop-color="#2d718e"/><stop offset="0.1702" stop-color="#306a8e"/><stop offset="0.2529" stop-color="#32658e"/><stop offset="0.3521" stop-color="#34618d"/><stop offset="0.4347" stop-color="#365d8d"/><stop offset="0.5008" stop-color="#375b8d"/><stop offset="0.5669" stop-color="#365d8d"/><stop offset="0.6496" stop-color="#34618d"/><stop offset="0.7488" stop-color="#32658e"/><stop offset="0.8314" stop-color="#306a8e"/><stop offset="0.9140" stop-color="#2d718e"/><stop offset="0.9802" stop-color="#2b758e"/><stop offset="1.0000" stop-color="#2a768e"/></linearGradient>
<linearGradient id="g148" x1="0" y1="0" x2="1" y2="0"><stop offset="0.0000" stop-color="#2a788e"/><stop offset="0.0215" stop-color="#2a778e"/><stop offset="0.0876" stop-color="#2c728e"/><stop offset="0.1702" stop-color="#2f6c8e"/><stop offset="0.2529" stop-color="#31678e"/><stop offset="0.3521" stop-color="#33638d"/><stop offset="0.4347" stop-color="#34608d"/><stop offset="0.5008" stop-color="#365d8d"/><stop offset="0.5669" stop-color="#34608d"/><stop offset="0.6496" stop-color="#33638d"/><stop offset="0.7488" stop-color="#31678e"/><stop offset="0.8314" stop-color="#2f6c8e"/><stop offset="0.9140" stop-color="#2c728e"/><stop offset="0.9802" stop-color="#2a778e"/><stop offset="1.0000" stop-color="#2a788e"/></linearGradient>
<linearGradient id="g149" x1="0" y1="0" x2="1" y2="0"><stop offset="0.0000" stop-color="#297a8e"/><stop offset="0.0215" stop-color="#29798e"/><stop offset="0.0876" stop-color="#2b748e"/><stop offset="0.1702" stop-color="#2e6e8e"/><stop offset="0.2529" stop-color="#30698e"/><stop offset="0.3521" stop-color="#32658e"/><stop offset="0.4347" stop-color="#33628d"/><stop offset="0.5008" stop-color="#34608d"/><stop offset="0.5669" stop-color="#33628d"/><stop offset="0.6496" stop-color="#32658e"/><stop offset="0.7488" stop-color="#30698e"/><stop offset="0.8314" stop-color="#2e6e8e"/><stop offset="0.9140" stop-color="#2b748e"/><stop offset="0.9802" stop-color="#29798e"/><stop offset="1.0000" stop-color="#297a8e"/></linearGradient>
<linearGradient id="g150" x1="0" y1="0" x2="1" y2="0"><stop offset="0.0000" stop-color="#287c8e"/><stop offset="0.0215" stop-color="#297b8e"/><stop offset="0.0876" stop-color="#2a768e"/><stop offset="0.1702" stop-color="#2d708e"/><stop offset="0.2529" stop-color="#2f6b8e"/><stop offset="0.3521" stop-color="#31678e"/><stop offset="0.4347" stop-color="#32648e"/><stop offset="0.5008" stop-color="#33628d"/><stop offset="0.5669" stop-color="#32648e"/><stop offset="0.6496" stop-color="#31678e"/><stop offset="0.7488" stop-color="#2f6b8e"/><stop offset="0.8314" stop-color="#2d708e"/><stop offset="0.9140" stop-color="#2a768e"/><stop offset="0.9802" stop-color="#297b8e"/><stop offset="1.0000" stop-color="#287c8e"/></linearGradient>
<linearGradient id="g151" x1="0" y1="0" x2="1" y2="0"><stop offset="0.0000" stop-color="#277e8e"/><stop offset="0.0215" stop-color="#287d8e"/><stop offset="0.0876" stop-color="#2a778e"/><stop offset="0.1702" stop-color="#2c718e"/><stop offset="0.2529" stop-color="#2e6d8e"/><stop offset="0.3521" stop-color="#30698e"/><stop offset="0.4347" stop-color="#31668e"/><stop offset="0.5008" stop-color="#33638d"/><stop offset="0.5669" stop-color="#31668e"/><stop offset="0.6496" stop-color="#30698e"/><stop offset="0.7488" stop-color="#2e6d8e"/><stop offset="0.8314" stop-color="#2c718e"/><stop offset="0.9140" stop-color="#2a778e"/><stop offset="0.9802" stop-color="#287d8e"/><stop offset="1.0000" stop-color="#277e8e"/></linearGradient>
<linearGradient id="g152" x1="0" y1="0" x2="1" y2="0"><stop offset="0.0000" stop-color="#27808e"/><stop offset="0.0215" stop-color="#277f8e"/><stop offset="0.0876" stop-color="#29798e"/><stop offset="0.1702" stop-color="#2c738e"/><stop offset="0.2529" stop-color="#2e6e8e"/><stop offset="0.3521" stop-color="#2f6b8e"/><stop offset="0.4347" stop-color="#31678e"/><stop offset="0.5008" stop-color="#32658e"/><stop offset="0.5669" stop-color="#31678e"/><stop offset="0.6496" stop-color="#2f6b8e"/><stop offset="0.7488" stop-color="#2e6e8e"/><stop offset="0.8314" stop-color="#2c738e"/><stop offset="0.9140" stop-color="#29798e"/><stop offset="0.9802" stop-color="#277f8e"/><stop offset="1.0000" stop-color="#27808e"/></linearGradient>
<linearGradient id="g153" x1="0" y1="0" x2="1" y2="0"><stop offset="0.0000" stop-color="#26828e"/><stop offset="0.0215" stop-color="#26818e"/><stop offset="0.0876" stop-color="#297b8e"/><stop offset="0.1702" stop-color="#2b758e"/><stop offset="0.2529" stop-color="#2d708e"/><stop offset="0.3521" stop-color="#2f6c8e"/><stop offset="0.4347" stop-color="#30698e"/><stop offset="0.5008" stop-color="#31678e"/><stop offset="0.5669" stop-color="#30698e"/><stop offset="0.6496" stop-color="#2f6c8e"/><stop offset="0.7488" stop-color="#2d708e"/><stop offset="0.8314" stop-color="#2b758e"/><stop offset="0.9140" stop-color="#297b8e"/><stop offset="0.9802" stop-color="#26818e"/><stop offset="1.0000" stop-color="#26828e"/></linearGradient>
<linearGradient id="g154" x1="0" y1="0" x2="1" y2="0"><stop offset="0.0000" stop-color="#25838e"/><stop offset="0.0215" stop-color="#26828e"/><stop offset="0.0876" stop-color="#287d8e"/><stop offset="0.1702" stop-color="#2a768e"/><stop offset="0.2529" stop-color="#2c718e"/><stop offset="0.3521" stop-color="#2e6e8e"/><stop offset="0.4347" stop-color="#2f6b8e"/><stop offset="0.5008" stop-color="#31688e"/><stop offset="0.5669" stop-color="#2f6b8e"/><stop offset="0.6496" stop-color="#2e6e8e"/><stop offset="0.7488" stop-color="#2c718e"/><stop offset="0.8314" stop-color="#2a768e"/><stop offset="0.9140" stop-color="#287d8e"/><stop offset="0.9802" stop-color="#26828e"/><stop offset="1.0000" stop-color="#25838e"/></linearGradient>
<linearGradient id="g155" x1="0" y1="0" x2="1" y2="0"><stop offset="0.0000" stop-color="#25858e"/><stop offset="0.0215" stop-color="#25848e"/><stop offset="0.0876" stop-color="#277f8e"/><stop offset="0.1702" stop-color="#2a788e"/><stop offset="0.2529" stop-color="#2c728e"/><stop offset="0.3521" stop-color="#2d708e"/><stop offset="0.4347" stop-color="#2e6d8e"/><stop offset="0.5008" stop-color="#306a8e"/><stop offset="0.5669" stop-color="#2e6d8e"/><stop offset="0.6496" stop-color="#2d708e"/><stop offset="0.7488" stop-color="#2c728e"/><stop offset="0.8314" stop-color="#2a788e"/><stop offset="0.9140" stop-color="#277f8e"/><stop offset="0.9802" stop-color="#25848e"/><stop offset="1.0000" stop-color="#25858e"/></linearGradient>
<linearGradient id="g156" x1="0" y1="0" x2="1" y2="0"><stop offset="0.0000" stop-color="#24878e"/><stop offset="0.0215" stop-color="#24868e"/><stop offset="0.0876" stop-color="#26818e"/><stop offset="0.1702" stop-color="#297a8e"/><stop offset="0.2529" stop-color="#2b748e"/><stop offset="0.3521" stop-color="#2d718e"/><stop offset="0.4347" stop-color="#2e6e8e"/><stop offset="0.5008" stop-color="#2f6c8e"/><stop offset="0.5669" stop-color="#2e6e8e"/><stop offset="0.6496" stop-color="#2d718e"/><stop offset="0.7488" stop-color="#2b748e"/><stop offset="0.8314" stop-color="#297a8e"/><stop offset="0.9140" stop-color="#26818e"/><stop offset="0.9802" stop-color="#24868e"/><stop offset="1.0000" stop-color="#24878e"/></linearGradient>
<linearGradient id="g157" x1="0" y1="0" x2="1" y2="0"><stop offset="0.0000" stop-color="#238a8d"/><stop offset="0.0215" stop-color="#23888e"/><stop offset="0.0876" stop-color="#26828e"/><stop offset="0.1702" stop-color="#287c8e"/><stop offset="0.2529" stop-color="#2a768e"/><stop offset="0.3521" stop-color="#2c728e"/><stop offset="0.4347" stop-color="#2d708e"/><stop offset="0.5008" stop-color="#2e6d8e"/><stop offset="0.5669" stop-color="#2d708e"/><stop offset="0.6496" stop-color="#2c728e"/><stop offset="0.7488" stop-color="#2a768e"/><stop offset="0.8314" stop-color="#287c8e"/><stop offset="0.9140" stop-color="#26828e"/><stop offset="0.9802" stop-color="#23888e"/><stop offset="1.0000" stop-color="#238a8d"/></linearGradient>
<linearGradient id="g158" x1="0" y1="0" x2="1" y2="0"><stop offset="0.0000" stop-color="#228c8d"/><stop offset="0.0215" stop-color="#228b8d"/><stop offset="0.0876" stop-color="#25858e"/><stop offset="0.1702" stop-color="#277e8e"/><stop offset="0.2529" stop-color="#2a788e"/><stop offset="0.3521" stop-color="#2b748e"/><stop offset="0.4347" stop-color="#2c718e"/><stop offset="0.5008" stop-color="#2e6f8e"/><stop offset="0.5669" stop-color="#2c718e"/><stop offset="0.6496" stop-color="#2b748e"/><stop offset="0.7488" stop-color="#2a788e"/><stop offset="0.8314" stop-color="#277e8e"/><stop offset="0.9140" stop-color="#25858e"/><stop offset="0.9802" stop-color="#228b8d"/><stop offset="1.0000" stop-color="#228c8d"/></linearGradient>
<linearGradient id="g159" x1="0" y1="0" x2="1" y2="0"><stop offset="0.0000" stop-color="#218e8d"/><stop offset="0.0215" stop-color="#228d8d"/><stop offset="0.0876" stop-color="#24878e"/><stop offset="0.1702" stop-color="#27808e"/><stop offset="0.2529" stop-color="#297a8e"/><stop offset="0.3521" stop-color="#2a768e"/><stop offset="0.4347" stop-color="#2c738e"/><stop offset="0.5008" stop-color="#2d718e"/><stop offset="0.5669" stop-color="#2c738e"/><stop offset="0.6496" stop-color="#2a768e"/><stop offset="0.7488" stop-color="#297a8e"/><stop offset="0.8314" stop-color="#27808e"/><stop offset="0.9140" stop-color="#24878e"/><stop offset="0.9802" stop-color="#228d8d"/><stop offset="1.0000" stop-color="#218e8d"/></linearGradient>
<linearGradient id="g160" x1="0" y1="0" x2="1" y2="0"><stop offset="0.0000" stop-color="#21918c"/><stop offset="0.0215" stop-color="#218f8d"/><stop offset="0.0876" stop-color="#23898e"/><stop offset="0.1702" stop-color="#26828e"/><stop offset="0.2529" stop-color="#287c8e"/><stop offset="0.3521" stop-color="#2a788e"/><stop offset="0.4347" stop-color="#2b748e"/><stop offset="0.5008" stop-color="#2c728e"/><stop offset="0.5669" stop-color="#2b748e"/><stop offset="0.6496" stop-color="#2a788e"/><stop offset="0.7488" stop-color="#287c8e"/><stop offset="0.8314" stop-color="#26828e"/><stop offset="0.9140" stop-color="#23898e"/><stop offset="0.9802" stop-color="#218f8d"/><stop offset="1.0000" stop-color="#21918c"/></linearGradient>
<linearGradient id="g161" x1="0" y1="0" x2="1" y2="0"><stop offset="0.0000" stop-color="#20928c"/><stop offset="0.0215" stop-color="#20928c"/><stop offset="0.0876" stop-color="#228b8d"/><stop offset="0.1702" stop-color="#25848e"/><stop offset="0.2529" stop-color="#277e8e"/><stop offset="0.3521" stop-color="#297a8e"/><stop offset="0.4347" stop-color="#2a768e"/><stop offset="0.5008" stop-color="#2c738e"/><stop offset="0.5669" stop-color="#2a768e"/><stop offset="0.6496" stop-color="#297a8e"/><stop offset="0.7488" stop-color="#277e8e"/><stop offset="0.8314" stop-color="#25848e"/><stop offset="0.9140" stop-color="#228b8d"/><stop offset="0.9802" stop-color="#20928c"/><stop offset="1.0000" stop-color="#20928c"/></linearGradient>
<linearGradient id="g162" x1="0" y1="0" x2="1" y2="0"><stop offset="0.0000" stop-color="#1f958b"/><stop offset="0.0215" stop-color="#20938c"/><stop offset="0.0876" stop-color="#218e8d"/><stop offset="0.1702" stop-color="#24868e"/><stop offset="0.2529" stop-color="#27808e"/><stop offset="0.3521" stop-color="#287c8e"/><stop offset="0.4347" stop-color="#2a788e"/><stop offset="0.5008" stop-color="#2b758e"/><stop offset="0.5669" stop-color="#2a788e"/><stop offset="0.6496" stop-color="#287c8e"/><stop offset="0.7488" stop-color="#27808e"/><stop offset="0.8314" stop-color="#24868e"/><stop offset="0.9140" stop-color="#218e8d"/><stop offset="0.9802" stop-color="#20938c"/><stop offset="1.0000" stop-color="#1f958b"/></linearGradient>
<linearGradient id="g163" x1="0" y1="0" x2="1" y2="0"><stop offset="0.0000" stop-color="#1f978b"/><stop offset="0.0215" stop-color="#1f968b"/><stop offset="0.0876" stop-color="#21908d"/><stop offset="0.1702" stop-color="#23888e"/><stop offset="0.2529" stop-color="#26828e"/><stop offset="0.3521" stop-color="#277e8e"/><stop offset="0.4347" stop-color="#297a8e"/><stop offset="0.5008" stop-color="#2a778e"/><stop offset="0.5669" stop-color="#297a8e"/><stop offset="0.6496" stop-color="#277e8e"/><stop offset="0.7488" stop-color="#26828e"/><stop offset="0.8314" stop-color="#23888e"/><stop offset="0.9140" stop-color="#21908d"/><stop offset="0.9802" stop-color="#1f968b"/><stop offset="1.0000" stop-color="#1f978b"/></linearGradient>
<linearGradient id="g164" x1="0" y1="0" x2="1" y2="0"><stop offset="0.0000" stop-color="#1f9a8a"/><stop offset="0.0215" stop-color="#1f988b"/><stop offset="0.0876" stop-color="#20928c"/><stop offset="0.1702" stop-color="#238a8d"/><stop offset="0.2529" stop-color="#25838e"/><stop offset="0.3521" stop-color="#277f8e"/><stop offset="0.4347" stop-color="#287c8e"/><stop offset="0.5008" stop-color="#2a788e"/><stop offset="0.5669" stop-color="#287c8e"/><stop offset="0.6496" stop-color="#277f8e"/><stop offset="0.7488" stop-color="#25838e"/><stop offset="0.8314" stop-color="#238a8d"/><stop offset="0.9140" stop-color="#20928c"/><stop offset="0.9802" stop-color="#1f988b"/><stop offset="1.0000" stop-color="#1f9a8a"/></linearGradient>
<linearGradient id="g165" x1="0" y1="0" x2="1" y2="0"><stop offset="0.0000" stop-color="#1e9c89"/><stop offset="0.0215" stop-color="#1f9a8a"/><stop offset="0.0876" stop-color="#20938c"/><stop offset="0.1702" stop-color="#228c8d"/><stop offset="0.2529" stop-color="#25858e"/><stop offset="0.3521" stop-color="#26818e"/><stop offset="0.4347" stop-color="#287d8e"/><stop offset="0.5008" stop-color="#297a8e"/><stop offset="0.5669" stop-color="#287d8e"/><stop offset="0.6496" stop-color="#26818e"/><stop offset="0.7488" stop-color="#25858e"/><stop offset="0.8314" stop-color="#228c8d"/><stop offset="0.9140" stop-color="#20938c"/><stop offset="0.9802" stop-color="#1f9a8a"/><stop offset="1.0000" stop-color="#1e9c89"/></linearGradient>
<linearGradient id="g166" x1="0" y1="0" x2="1" y2="0"><stop offset="0.0000" stop-color="#1f9e89"/><stop offset="0.0215" stop-color="#1e9c89"/><stop offset="0.0876" stop-color="#1f968b"/><stop offset="0.1702" stop-color="#218e8d"/><stop offset="0.2529" stop-color="#24878e"/><stop offset="0.3521" stop-color="#26828e"/><stop offset="0.4347" stop-color="#277f8e"/><stop offset="0.5008" stop-color="#287c8e"/><stop offset="0.5669" stop-color="#277f8e"/><stop offset="0.6496" stop-color="#26828e"/><stop offset="0.7488" stop-color="#24878e"/><stop offset="0.8314" stop-color="#218e8d"/><stop offset="0.9140" stop-color="#1f968b"/><stop offset="0.9802" stop-color="#1e9c89"/><stop offset="1.0000" stop-color="#1f9e89"/></linearGradient>
<linearGradient id="g167" x1="0" y1="0" x2="1" y2="0"><stop offset="0.0000" stop-color="#1fa088"/><stop offset="0.0215" stop-color="#1f9f88"/><stop offset="0.0876" stop-color="#1f988b"/><stop offset="0.1702" stop-color="#21908d"/><stop offset="0.2529" stop-color="#23898e"/><stop offset="0.3521" stop-color="#25848e"/><stop offset="0.4347" stop-color="#26818e"/><stop offset="0.5008" stop-color="#277e8e"/><stop offset="0.5669" stop-color="#26818e"/><stop offset="0.6496" stop-color="#25848e"/><stop offset="0.7488" stop-color="#23898e"/><stop offset="0.8314" stop-color="#21908d"/><stop offset="0.9140" stop-color="#1f988b"/><stop offset="0.9802" stop-color="#1f9f88"/><stop offset="1.0000" stop-color="#1fa088"/></linearGradient>
<linearGradient id="g168" x1="0" y1="0" x2="1" y2="0"><stop offset="0.0000" stop-color="#1fa287"/><stop offset="0.0215" stop-color="#1fa188"/><stop offset="0.0876" stop-color="#1f9a8a"/><stop offset="0.1702" stop-color="#20928c"/><stop offset="0.2529" stop-color="#228b8d"/><stop offset="0.3521" stop-color="#24868e"/><stop offset="0.4347" stop-color="#26828e"/><stop offset="0.5008" stop-color="#277f8e"/><stop offset="0.5669" stop-color="#26828e"/><stop offset="0.6496" stop-color="#24868e"/><stop offset="0.7488" stop-color="#228b8d"/><stop offset="0.8314" stop-color="#20928c"/><stop offset="0.9140" stop-color="#1f9a8a"/><stop offset="0.9802" stop-color="#1fa188"/><stop offset="1.0000" stop-color="#1fa287"/></linearGradient>
<linearGradient id="g169" x1="0" y1="0" x2="1" y2="0"><stop offset="0.0000" stop-color="#20a386"/><stop offset="0.0215" stop-color="#1fa287"/><stop offset="0.0876" stop-color="#1e9c89"/><stop offset="0.1702" stop-color="#20938c"/><stop offset="0.2529" stop-color="#228d8d"/><stop offset="0.3521" stop-color="#23888e"/><stop offset="0.4347" stop-color="#25848e"/><stop offset="0.5008" stop-color="#26818e"/><stop offset="0.5669" stop-color="#25848e"/><stop offset="0.6496" stop-color="#23888e"/><stop offset="0.7488" stop-color="#228d8d"/><stop offset="0.8314" stop-color="#20938c"/><stop offset="0.9140" stop-color="#1e9c89"/><stop offset="0.9802" stop-color="#1fa287"/><stop offset="1.0000" stop-color="#20a386"/></linearGradient>
<linearGradient id="g170" x1="0" y1="0" x2="1" y2="0"><stop offset="0.0000" stop-color="#21a585"/><stop offset="0.0215" stop-color="#20a386"/><stop offset="0.0876" stop-color="#1e9d89"/><stop offset="0.1702" stop-color="#1f958b"/><stop offset="0.2529" stop-color="#218f8d"/><stop offset="0.3521" stop-color="#238a8d"/><stop offset="0.4347" stop-color="#24868e"/><stop offset="0.5008" stop-color="#26828e"/><stop offset="0.5669" stop-color="#24868e"/><stop offset="0.6496" stop-color="#238a8d"/><stop offset="0.7488" stop-color="#218f8d"/><stop offset="0.8314" stop-color="#1f958b"/><stop offset="0.9140" stop-color="#1e9d89"/><stop offset="0.9802" stop-color="#20a386"/><stop offset="1.0000" stop-color="#21a585"/></linearGradient>
<linearGradient id="g171" x1="0" y1="0" x2="1" y2="0"><stop offset="0.0000" stop-color="#21a685"/><stop offset="0.0215" stop-color="#20a486"/><stop offset="0.0876" stop-color="#1f9f88"/><stop offset="0.1702" stop-color="#1f968b"/><stop offset="0.2529" stop-color="#21908d"/><stop offset="0.3521" stop-color="#228c8d"/><stop offset="0.4347" stop-color="#23888e"/><stop offset="0.5008" stop-color="#25858e"/><stop offset="0.5669" stop-color="#23888e"/><stop offset="0.6496" stop-color="#228c8d"/><stop offset="0.7488" stop-color="#21908d"/><stop offset="0.8314" stop-color="#1f968b"/><stop offset="0.9140" stop-color="#1f9f88"/><stop offset="0.9802" stop-color="#20a486"/><stop offset="1.0000" stop-color="#21a685"/></linearGradient>
<linearGradient id="g172" x1="0" y1="0" x2="1" y2="0"><stop offset="0.0000" stop-color="#22a785"/><stop offset="0.0215" stop-color="#21a685"/><stop offset="0.0876" stop-color="#1fa088"/><stop offset="0.1702" stop-color="#1f988b"/><stop offset="0.2529" stop-color="#20928c"/><stop offset="0.3521" stop-color="#228d8d"/><stop offset="0.4347" stop-color="#23898e"/><stop offset="0.5008" stop-color="#24868e"/><stop offset="0.5669" stop-color="#23898e"/><stop offset="0.6496" stop-color="#228d8d"/><stop offset="0.7488" stop-color="#20928c"/><stop offset="0.8314" stop-color="#1f988b"/><stop offset="0.9140" stop-color="#1fa088"/><stop offset="0.9802" stop-color="#21a685"/><stop offset="1.0000" stop-color="#22a785"/></linearGradient>
<clipPath id="clipBL"><rect x="170.0" y="1414.5" width="652.0" height="597.0"/></clipPath>
<linearGradient id="g173" x1="0" y1="0" x2="0" y2="1"><stop offset="0.0000" stop-color="#1f9f88"/><stop offset="0.0935" stop-color="#1fa088"/><stop offset="0.2938" stop-color="#1fa187"/><stop offset="0.6277" stop-color="#20a386"/><stop offset="1.0000" stop-color="#21a585"/></linearGradient>
<linearGradient id="g174" x1="200" y1="0" x2="792" y2="0" gradientUnits="userSpaceOnUse"><stop offset="0.0000" stop-color="#2b6f8e" stop-opacity="1"/><stop offset="0.2500" stop-color="#2b738e" stop-opacity="0.75"/><stop offset="0.5000" stop-color="#2b758e" stop-opacity="0.45"/><stop offset="0.7500" stop-color="#2b738e" stop-opacity="0.75"/><stop offset="1.0000" stop-color="#2b6f8e" stop-opacity="1"/></linearGradient>
<linearGradient id="g175" x1="192.7" y1="0" x2="207" y2="0" gradientUnits="userSpaceOnUse"><stop offset="0.0000" stop-color="#b5de2b"/><stop offset="0.3000" stop-color="#7ad151"/><stop offset="0.5500" stop-color="#35b779"/><stop offset="1.0000" stop-color="#22a884" stop-opacity="0"/></linearGradient>
<linearGradient id="g176" x1="780" y1="0" x2="798.2" y2="0" gradientUnits="userSpaceOnUse"><stop offset="0.0000" stop-color="#2a9d8a" stop-opacity="0"/><stop offset="0.3500" stop-color="#2a9d8a"/><stop offset="0.7000" stop-color="#5ec962"/><stop offset="1.0000" stop-color="#b5de2b"/></linearGradient>
<linearGradient id="g177" x1="0" y1="0" x2="0" y2="1"><stop offset="0.0000" stop-color="#fde725"/><stop offset="0.0500" stop-color="#dfe318"/><stop offset="0.1000" stop-color="#bddf26"/><stop offset="0.1500" stop-color="#9bd93c"/><stop offset="0.2000" stop-color="#7ad151"/><stop offset="0.2500" stop-color="#5ec962"/><stop offset="0.3000" stop-color="#44bf70"/><stop offset="0.3500" stop-color="#2fb47c"/><stop offset="0.4000" stop-color="#22a884"/><stop offset="0.4500" stop-color="#1e9c89"/><stop offset="0.5000" stop-color="#21918c"/><stop offset="0.5500" stop-color="#25848e"/><stop offset="0.6000" stop-color="#2a788e"/><stop offset="0.6500" stop-color="#2f6c8e"/><stop offset="0.7000" stop-color="#355f8d"/><stop offset="0.7500" stop-color="#3b528b"/><stop offset="0.8000" stop-color="#414487"/><stop offset="0.8500" stop-color="#463480"/><stop offset="0.9000" stop-color="#482475"/><stop offset="0.9500" stop-color="#471365"/><stop offset="1.0000" stop-color="#440154"/></linearGradient>
<linearGradient id="g178" x1="0" y1="0" x2="1" y2="0"><stop offset="0.0000" stop-color="#800000"/><stop offset="0.2256" stop-color="#800000"/><stop offset="0.2397" stop-color="#8e0000"/><stop offset="0.2670" stop-color="#a80000"/><stop offset="0.3080" stop-color="#c60000"/><stop offset="0.3491" stop-color="#e00000"/><stop offset="0.3763" stop-color="#fe0000"/><stop offset="0.3983" stop-color="#ff2929"/><stop offset="0.4174" stop-color="#ff5d5d"/><stop offset="0.4448" stop-color="#ff8d8d"/><stop offset="0.4637" stop-color="#ffc1c1"/><stop offset="0.4858" stop-color="#fff1f1"/><stop offset="0.4961" stop-color="#f5f5ff"/><stop offset="0.5016" stop-color="#fff9f9"/><stop offset="0.5315" stop-color="#ffd1d1"/><stop offset="0.5584" stop-color="#ff9999"/><stop offset="0.5863" stop-color="#ff5d5d"/><stop offset="0.6136" stop-color="#ff1d1d"/><stop offset="0.6356" stop-color="#fe0000"/><stop offset="0.6681" stop-color="#e00000"/><stop offset="0.6956" stop-color="#c60000"/><stop offset="0.7229" stop-color="#a80000"/><stop offset="0.7502" stop-color="#8e0000"/><stop offset="0.7639" stop-color="#800000"/><stop offset="1.0000" stop-color="#800000"/></linearGradient>
<linearGradient id="g179" x1="0" y1="0" x2="1" y2="0"><stop offset="0.0000" stop-color="#800000"/><stop offset="0.3958" stop-color="#800000"/><stop offset="0.4271" stop-color="#8e0000"/><stop offset="0.4872" stop-color="#a80000"/><stop offset="0.5774" stop-color="#c60000"/><stop offset="0.6677" stop-color="#e00000"/><stop offset="0.7278" stop-color="#fe0000"/><stop offset="0.7760" stop-color="#ff2929"/><stop offset="0.8181" stop-color="#ff5d5d"/><stop offset="0.8785" stop-color="#ff8d8d"/><stop offset="0.9201" stop-color="#ffc1c1"/><stop offset="0.9688" stop-color="#fff1f1"/><stop offset="0.9913" stop-color="#f5f5ff"/><stop offset="1.0000" stop-color="#fffdfd"/></linearGradient>
<linearGradient id="g180" x1="0" y1="0" x2="1" y2="0"><stop offset="0.0000" stop-color="#800000"/><stop offset="0.3958" stop-color="#800000"/><stop offset="0.4271" stop-color="#8e0000"/><stop offset="0.4872" stop-color="#a80000"/><stop offset="0.5774" stop-color="#c60000"/><stop offset="0.6677" stop-color="#e00000"/><stop offset="0.7278" stop-color="#fe0000"/><stop offset="0.7760" stop-color="#ff2929"/><stop offset="0.8181" stop-color="#ff5959"/><stop offset="0.8785" stop-color="#ff8d8d"/><stop offset="0.9201" stop-color="#ffc1c1"/><stop offset="0.9688" stop-color="#fff1f1"/><stop offset="0.9913" stop-color="#f5f5ff"/><stop offset="1.0000" stop-color="#fffdfd"/></linearGradient>
<linearGradient id="g181" x1="0" y1="0" x2="1" y2="0"><stop offset="0.0000" stop-color="#800000"/><stop offset="0.3958" stop-color="#800000"/><stop offset="0.4271" stop-color="#8e0000"/><stop offset="0.4872" stop-color="#a80000"/><stop offset="0.5774" stop-color="#c60000"/><stop offset="0.6677" stop-color="#e00000"/><stop offset="0.7278" stop-color="#fe0000"/><stop offset="0.7760" stop-color="#ff2929"/><stop offset="0.8181" stop-color="#ff5959"/><stop offset="0.8785" stop-color="#ff8d8d"/><stop offset="0.9201" stop-color="#ffc1c1"/><stop offset="0.9688" stop-color="#ffeded"/><stop offset="0.9913" stop-color="#f5f5ff"/><stop offset="1.0000" stop-color="#fffdfd"/></linearGradient>
<linearGradient id="g182" x1="0" y1="0" x2="1" y2="0"><stop offset="0.0000" stop-color="#800000"/><stop offset="0.3958" stop-color="#800000"/><stop offset="0.4271" stop-color="#8e0000"/><stop offset="0.4872" stop-color="#a60000"/><stop offset="0.5774" stop-color="#c60000"/><stop offset="0.6677" stop-color="#e00000"/><stop offset="0.7278" stop-color="#fe0000"/><stop offset="0.7760" stop-color="#ff2929"/><stop offset="0.8181" stop-color="#ff5959"/><stop offset="0.8785" stop-color="#ff8d8d"/><stop offset="0.9201" stop-color="#ffc1c1"/><stop offset="0.9688" stop-color="#ffeded"/><stop offset="0.9913" stop-color="#f5f5ff"/><stop offset="1.0000" stop-color="#fffdfd"/></linearGradient>
<linearGradient id="g183" x1="0" y1="0" x2="1" y2="0"><stop offset="0.0000" stop-color="#800000"/><stop offset="0.3958" stop-color="#800000"/><stop offset="0.4271" stop-color="#8e0000"/><stop offset="0.4872" stop-color="#a60000"/><stop offset="0.5774" stop-color="#c30000"/><stop offset="0.6677" stop-color="#e00000"/><stop offset="0.7278" stop-color="#fe0000"/><stop offset="0.7760" stop-color="#ff2929"/><stop offset="0.8181" stop-color="#ff5959"/><stop offset="0.8785" stop-color="#ff8d8d"/><stop offset="0.9201" stop-color="#ffc1c1"/><stop offset="0.9688" stop-color="#ffeded"/><stop offset="0.9913" stop-color="#f5f5ff"/><stop offset="1.0000" stop-color="#fffdfd"/></linearGradient>
<linearGradient id="g184" x1="0" y1="0" x2="1" y2="0"><stop offset="0.0000" stop-color="#800000"/><stop offset="0.3958" stop-color="#800000"/><stop offset="0.4271" stop-color="#8e0000"/><stop offset="0.4872" stop-color="#a60000"/><stop offset="0.5774" stop-color="#c30000"/><stop offset="0.6677" stop-color="#e00000"/><stop offset="0.7278" stop-color="#fe0000"/><stop offset="0.7760" stop-color="#ff2929"/><stop offset="0.8181" stop-color="#ff5959"/><stop offset="0.8785" stop-color="#ff8d8d"/><stop offset="0.9201" stop-color="#ffc1c1"/><stop offset="0.9688" stop-color="#ffeded"/><stop offset="0.9913" stop-color="#f9f9ff"/><stop offset="1.0000" stop-color="#fffdfd"/></linearGradient>
<linearGradient id="g185" x1="0" y1="0" x2="1" y2="0"><stop offset="0.0000" stop-color="#800000"/><stop offset="0.3958" stop-color="#800000"/><stop offset="0.4271" stop-color="#8e0000"/><stop offset="0.4872" stop-color="#a60000"/><stop offset="0.5774" stop-color="#c30000"/><stop offset="0.6677" stop-color="#e00000"/><stop offset="0.7278" stop-color="#fe0000"/><stop offset="0.7760" stop-color="#ff2929"/><stop offset="0.8181" stop-color="#ff5959"/><stop offset="0.8785" stop-color="#ff8d8d"/><stop offset="0.9201" stop-color="#ffc1c1"/><stop offset="0.9688" stop-color="#ffeded"/><stop offset="0.9913" stop-color="#f9f9ff"/><stop offset="1.0000" stop-color="#fffdfd"/></linearGradient>
<linearGradient id="g186" x1="0" y1="0" x2="1" y2="0"><stop offset="0.0000" stop-color="#800000"/><stop offset="0.3958" stop-color="#800000"/><stop offset="0.4271" stop-color="#8e0000"/><stop offset="0.4872" stop-color="#a60000"/><stop offset="0.5774" stop-color="#c30000"/><stop offset="0.6677" stop-color="#e00000"/><stop offset="0.7278" stop-color="#fe0000"/><stop offset="0.7760" stop-color="#ff2929"/><stop offset="0.8181" stop-color="#ff5959"/><stop offset="0.8785" stop-color="#ff8d8d"/><stop offset="0.9201" stop-color="#ffc1c1"/><stop offset="0.9688" stop-color="#ffeded"/><stop offset="0.9913" stop-color="#f9f9ff"/><stop offset="1.0000" stop-color="#fffdfd"/></linearGradient>
<linearGradient id="g187" x1="0" y1="0" x2="1" y2="0"><stop offset="0.0000" stop-color="#800000"/><stop offset="0.3958" stop-color="#800000"/><stop offset="0.4271" stop-color="#8e0000"/><stop offset="0.4872" stop-color="#a30000"/><stop offset="0.5774" stop-color="#c30000"/><stop offset="0.6677" stop-color="#e00000"/><stop offset="0.7278" stop-color="#fe0000"/><stop offset="0.7760" stop-color="#ff2929"/><stop offset="0.8181" stop-color="#ff5959"/><stop offset="0.8785" stop-color="#ff8d8d"/><stop offset="0.9201" stop-color="#ffc1c1"/><stop offset="0.9688" stop-color="#ffeded"/><stop offset="0.9913" stop-color="#f9f9ff"/><stop offset="1.0000" stop-color="#fffdfd"/></linearGradient>
<linearGradient id="g188" x1="0" y1="0" x2="1" y2="0"><stop offset="0.0000" stop-color="#800000"/><stop offset="0.3958" stop-color="#800000"/><stop offset="0.4271" stop-color="#8e0000"/><stop offset="0.4872" stop-color="#a30000"/><stop offset="0.5774" stop-color="#c20000"/><stop offset="0.6677" stop-color="#e00000"/><stop offset="0.7278" stop-color="#fe0000"/><stop offset="0.7760" stop-color="#ff2929"/><stop offset="0.8181" stop-color="#ff5959"/><stop offset="0.8785" stop-color="#ff8d8d"/><stop offset="0.9201" stop-color="#ffc1c1"/><stop offset="0.9688" stop-color="#ffeded"/><stop offset="0.9913" stop-color="#f9f9ff"/><stop offset="1.0000" stop-color="#fffdfd"/></linearGradient>
<linearGradient id="g189" x1="0" y1="0" x2="1" y2="0"><stop offset="0.0000" stop-color="#800000"/><stop offset="0.3958" stop-color="#800000"/><stop offset="0.4271" stop-color="#8e0000"/><stop offset="0.4872" stop-color="#a30000"/><stop offset="0.5774" stop-color="#c20000"/><stop offset="0.6677" stop-color="#e00000"/><stop offset="0.7278" stop-color="#fe0000"/><stop offset="0.7760" stop-color="#ff2929"/><stop offset="0.8181" stop-color="#ff5959"/><stop offset="0.8785" stop-color="#ff8d8d"/><stop offset="0.9201" stop-color="#ffbdbd"/><stop offset="0.9688" stop-color="#ffeded"/><stop offset="0.9913" stop-color="#f9f9ff"/><stop offset="1.0000" stop-color="#fffdfd"/></linearGradient>
<linearGradient id="g190" x1="0" y1="0" x2="1" y2="0"><stop offset="0.0000" stop-color="#800000"/><stop offset="0.3958" stop-color="#800000"/><stop offset="0.4271" stop-color="#8e0000"/><stop offset="0.4872" stop-color="#a30000"/><stop offset="0.5774" stop-color="#c20000"/><stop offset="0.6677" stop-color="#e00000"/><stop offset="0.7278" stop-color="#fe0000"/><stop offset="0.7760" stop-color="#ff2929"/><stop offset="0.8181" stop-color="#ff5959"/><stop offset="0.8785" stop-color="#ff8d8d"/><stop offset="0.9201" stop-color="#ffbdbd"/><stop offset="0.9688" stop-color="#ffeded"/><stop offset="0.9913" stop-color="#f9f9ff"/><stop offset="1.0000" stop-color="#fffdfd"/></linearGradient>
<linearGradient id="g191" x1="0" y1="0" x2="1" y2="0"><stop offset="0.0000" stop-color="#800000"/><stop offset="0.3958" stop-color="#820000"/><stop offset="0.4271" stop-color="#8e0000"/><stop offset="0.4872" stop-color="#a30000"/><stop offset="0.5774" stop-color="#c20000"/><stop offset="0.6677" stop-color="#e00000"/><stop offset="0.7278" stop-color="#fe0000"/><stop offset="0.7760" stop-color="#ff2929"/><stop offset="0.8181" stop-color="#ff5959"/><stop offset="0.8785" stop-color="#ff8d8d"/><stop offset="0.9201" stop-color="#ffbdbd"/><stop offset="0.9688" stop-color="#ffeded"/><stop offset="0.9913" stop-color="#f9f9ff"/><stop offset="1.0000" stop-color="#fffdfd"/></linearGradient>
<linearGradient id="g192" x1="0" y1="0" x2="1" y2="0"><stop offset="0.0000" stop-color="#800000"/><stop offset="0.3958" stop-color="#820000"/><stop offset="0.4271" stop-color="#8e0000"/><stop offset="0.4872" stop-color="#a30000"/><stop offset="0.5774" stop-color="#c20000"/><stop offset="0.6677" stop-color="#e00000"/><stop offset="0.7278" stop-color="#fe0000"/><stop offset="0.7760" stop-color="#ff2929"/><stop offset="0.8181" stop-color="#ff5959"/><stop offset="0.8785" stop-color="#ff9191"/><stop offset="0.9201" stop-color="#ffbdbd"/><stop offset="0.9688" stop-color="#ffeded"/><stop offset="0.9913" stop-color="#fdfdff"/><stop offset="1.0000" stop-color="#fffdfd"/></linearGradient>
<linearGradient id="g193" x1="0" y1="0" x2="1" y2="0"><stop offset="0.0000" stop-color="#800000"/><stop offset="0.3958" stop-color="#820000"/><stop offset="0.4271" stop-color="#8e0000"/><stop offset="0.4872" stop-color="#a20000"/><stop offset="0.5774" stop-color="#c00000"/><stop offset="0.6677" stop-color="#e00000"/><stop offset="0.7278" stop-color="#fe0000"/><stop offset="0.7760" stop-color="#ff2929"/><stop offset="0.8181" stop-color="#ff5959"/><stop offset="0.8785" stop-color="#ff9191"/><stop offset="0.9201" stop-color="#ffbdbd"/><stop offset="0.9688" stop-color="#ffe9e9"/><stop offset="0.9913" stop-color="#fdfdff"/><stop offset="1.0000" stop-color="#fffdfd"/></linearGradient>
<linearGradient id="g194" x1="0" y1="0" x2="1" y2="0"><stop offset="0.0000" stop-color="#800000"/><stop offset="0.3958" stop-color="#820000"/><stop offset="0.4271" stop-color="#8e0000"/><stop offset="0.4872" stop-color="#a20000"/><stop offset="0.5774" stop-color="#c00000"/><stop offset="0.6677" stop-color="#e00000"/><stop offset="0.7278" stop-color="#fe0000"/><stop offset="0.7760" stop-color="#ff2929"/><stop offset="0.8181" stop-color="#ff5959"/><stop offset="0.8785" stop-color="#ff9191"/><stop offset="0.9201" stop-color="#ffbdbd"/><stop offset="0.9688" stop-color="#ffe9e9"/><stop offset="0.9913" stop-color="#fdfdff"/><stop offset="1.0000" stop-color="#fffdfd"/></linearGradient>
<linearGradient id="g195" x1="0" y1="0" x2="1" y2="0"><stop offset="0.0000" stop-color="#800000"/><stop offset="0.3958" stop-color="#820000"/><stop offset="0.4271" stop-color="#8e0000"/><stop offset="0.4872" stop-color="#a20000"/><stop offset="0.5774" stop-color="#c00000"/><stop offset="0.6677" stop-color="#e20000"/><stop offset="0.7278" stop-color="#fe0000"/><stop offset="0.7760" stop-color="#ff2929"/><stop offset="0.8181" stop-color="#ff5959"/><stop offset="0.8785" stop-color="#ff9191"/><stop offset="0.9201" stop-color="#ffbdbd"/><stop offset="0.9688" stop-color="#ffe9e9"/><stop offset="0.9913" stop-color="#fdfdff"/><stop offset="1.0000" stop-color="#fffdfd"/></linearGradient>
<linearGradient id="g196" x1="0" y1="0" x2="1" y2="0"><stop offset="0.0000" stop-color="#800000"/><stop offset="0.3958" stop-color="#820000"/><stop offset="0.4271" stop-color="#8e0000"/><stop offset="0.4872" stop-color="#a20000"/><stop offset="0.5774" stop-color="#c00000"/><stop offset="0.6677" stop-color="#e20000"/><stop offset="0.7278" stop-color="#fe0000"/><stop offset="0.7760" stop-color="#ff2929"/><stop offset="0.8181" stop-color="#ff5959"/><stop offset="0.8785" stop-color="#ff9191"/><stop offset="0.9201" stop-color="#ffbdbd"/><stop offset="0.9688" stop-color="#ffe9e9"/><stop offset="0.9913" stop-color="#fdfdff"/><stop offset="1.0000" stop-color="#fffdfd"/></linearGradient>
<linearGradient id="g197" x1="0" y1="0" x2="1" y2="0"><stop offset="0.0000" stop-color="#800000"/><stop offset="0.3958" stop-color="#820000"/><stop offset="0.4271" stop-color="#8e0000"/><stop offset="0.4872" stop-color="#a20000"/><stop offset="0.5774" stop-color="#be0000"/><stop offset="0.6677" stop-color="#e20000"/><stop offset="0.7278" stop-color="#fe0000"/><stop offset="0.7760" stop-color="#ff2929"/><stop offset="0.8181" stop-color="#ff5959"/><stop offset="0.8785" stop-color="#ff9191"/><stop offset="0.9201" stop-color="#ffbdbd"/><stop offset="0.9688" stop-color="#ffe9e9"/><stop offset="0.9913" stop-color="#fdfdff"/><stop offset="1.0000" stop-color="#fffdfd"/></linearGradient>
<linearGradient id="g198" x1="0" y1="0" x2="1" y2="0"><stop offset="0.0000" stop-color="#800000"/><stop offset="0.3958" stop-color="#820000"/><stop offset="0.4271" stop-color="#8e0000"/><stop offset="0.4872" stop-color="#a20000"/><stop offset="0.5774" stop-color="#be0000"/><stop offset="0.6677" stop-color="#e20000"/><stop offset="0.7278" stop-color="#fe0000"/><stop offset="0.7760" stop-color="#ff2929"/><stop offset="0.8181" stop-color="#ff5959"/><stop offset="0.8785" stop-color="#ff9191"/><stop offset="0.9201" stop-color="#ffbdbd"/><stop offset="0.9688" stop-color="#ffe9e9"/><stop offset="0.9913" stop-color="#fdfdff"/><stop offset="1.0000" stop-color="#fffdfd"/></linearGradient>
<linearGradient id="g199" x1="0" y1="0" x2="1" y2="0"><stop offset="0.0000" stop-color="#800000"/><stop offset="0.3958" stop-color="#820000"/><stop offset="0.4271" stop-color="#8e0000"/><stop offset="0.4872" stop-color="#a00000"/><stop offset="0.5774" stop-color="#be0000"/><stop offset="0.6677" stop-color="#e20000"/><stop offset="0.7278" stop-color="#fe0000"/><stop offset="0.7760" stop-color="#ff2929"/><stop offset="0.8181" stop-color="#ff5959"/><stop offset="0.8785" stop-color="#ff9191"/><stop offset="0.9201" stop-color="#ffbdbd"/><stop offset="0.9688" stop-color="#ffe9e9"/><stop offset="0.9913" stop-color="#fdfdff"/><stop offset="1.0000" stop-color="#fffdfd"/></linearGradient>
<linearGradient id="g200" x1="0" y1="0" x2="1" y2="0"><stop offset="0.0000" stop-color="#800000"/><stop offset="0.3958" stop-color="#820000"/><stop offset="0.4271" stop-color="#8e0000"/><stop offset="0.4872" stop-color="#a00000"/><stop offset="0.5774" stop-color="#be0000"/><stop offset="0.6677" stop-color="#e20000"/><stop offset="0.7278" stop-color="#fe0000"/><stop offset="0.7760" stop-color="#ff2d2d"/><stop offset="0.8181" stop-color="#ff5959"/><stop offset="0.8785" stop-color="#ff9191"/><stop offset="0.9201" stop-color="#ffbdbd"/><stop offset="0.9688" stop-color="#ffe9e9"/><stop offset="0.9913" stop-color="#fdfdff"/><stop offset="1.0000" stop-color="#fffdfd"/></linearGradient>
<linearGradient id="g201" x1="0" y1="0" x2="1" y2="0"><stop offset="0.0000" stop-color="#800000"/><stop offset="0.3958" stop-color="#820000"/><stop offset="0.4271" stop-color="#8e0000"/><stop offset="0.4872" stop-color="#a00000"/><stop offset="0.5774" stop-color="#be0000"/><stop offset="0.6677" stop-color="#e20000"/><stop offset="0.7278" stop-color="#fe0000"/><stop offset="0.7760" stop-color="#ff2d2d"/><stop offset="0.8181" stop-color="#ff5959"/><stop offset="0.8785" stop-color="#ff9191"/><stop offset="0.9201" stop-color="#ffbdbd"/><stop offset="0.9688" stop-color="#ffe9e9"/><stop offset="0.9913" stop-color="#fffdfd"/><stop offset="1.0000" stop-color="#fffdfd"/></linearGradient>
<linearGradient id="g202" x1="0" y1="0" x2="1" y2="0"><stop offset="0.0000" stop-color="#800000"/><stop offset="0.3958" stop-color="#840000"/><stop offset="0.4271" stop-color="#8e0000"/><stop offset="0.4872" stop-color="#a00000"/><stop offset="0.5774" stop-color="#bc0000"/><stop offset="0.6677" stop-color="#e20000"/><stop offset="0.7278" stop-color="#fe0000"/><stop offset="0.7760" stop-color="#ff2d2d"/><stop offset="0.8181" stop-color="#ff5959"/><stop offset="0.8785" stop-color="#ff9191"/><stop offset="0.9201" stop-color="#ffbdbd"/><stop offset="0.9688" stop-color="#ffe9e9"/><stop offset="0.9913" stop-color="#fffdfd"/><stop offset="1.0000" stop-color="#fffdfd"/></linearGradient>
<linearGradient id="g203" x1="0" y1="0" x2="1" y2="0"><stop offset="0.0000" stop-color="#800000"/><stop offset="0.3958" stop-color="#840000"/><stop offset="0.4271" stop-color="#8e0000"/><stop offset="0.4872" stop-color="#a00000"/><stop offset="0.5774" stop-color="#bc0000"/><stop offset="0.6677" stop-color="#e20000"/><stop offset="0.7278" stop-color="#fe0000"/><stop offset="0.7760" stop-color="#ff2d2d"/><stop offset="0.8181" stop-color="#ff5959"/><stop offset="0.8785" stop-color="#ff9191"/><stop offset="0.9201" stop-color="#ffbdbd"/><stop offset="0.9688" stop-color="#ffe9e9"/><stop offset="0.9913" stop-color="#fffdfd"/><stop offset="1.0000" stop-color="#fffdfd"/></linearGradient>
<linearGradient id="g204" x1="0" y1="0" x2="1" y2="0"><stop offset="0.0000" stop-color="#800000"/><stop offset="0.3958" stop-color="#840000"/><stop offset="0.4271" stop-color="#8e0000"/><stop offset="0.4872" stop-color="#9e0000"/><stop offset="0.5774" stop-color="#bc0000"/><stop offset="0.6677" stop-color="#e20000"/><stop offset="0.7278" stop-color="#fe0000"/><stop offset="0.7760" stop-color="#ff2d2d"/><stop offset="0.8181" stop-color="#ff5959"/><stop offset="0.8785" stop-color="#ff9191"/><stop offset="0.9201" stop-color="#ffbdbd"/><stop offset="0.9688" stop-color="#ffe9e9"/><stop offset="0.9913" stop-color="#fffdfd"/><stop offset="1.0000" stop-color="#fffdfd"/></linearGradient>
<linearGradient id="g205" x1="0" y1="0" x2="1" y2="0"><stop offset="0.0000" stop-color="#800000"/><stop offset="0.3958" stop-color="#840000"/><stop offset="0.4271" stop-color="#8e0000"/><stop offset="0.4872" stop-color="#9e0000"/><stop offset="0.5774" stop-color="#bc0000"/><stop offset="0.6677" stop-color="#e20000"/><stop offset="0.7278" stop-color="#fe0000"/><stop offset="0.7760" stop-color="#ff2d2d"/><stop offset="0.8181" stop-color="#ff5959"/><stop offset="0.8785" stop-color="#ff9191"/><stop offset="0.9201" stop-color="#ffb9b9"/><stop offset="0.9688" stop-color="#ffe9e9"/><stop offset="0.9913" stop-color="#fffdfd"/><stop offset="1.0000" stop-color="#fffdfd"/></linearGradient>
<linearGradient id="g206" x1="0" y1="0" x2="1" y2="0"><stop offset="0.0000" stop-color="#800000"/><stop offset="0.3958" stop-color="#840000"/><stop offset="0.4271" stop-color="#8e0000"/><stop offset="0.4872" stop-color="#9e0000"/><stop offset="0.5774" stop-color="#bc0000"/><stop offset="0.6677" stop-color="#e20000"/><stop offset="0.7278" stop-color="#fe0000"/><stop offset="0.7760" stop-color="#ff2d2d"/><stop offset="0.8181" stop-color="#ff5959"/><stop offset="0.8785" stop-color="#ff9191"/><stop offset="0.9201" stop-color="#ffb9b9"/><stop offset="0.9688" stop-color="#ffe5e5"/><stop offset="0.9913" stop-color="#fffdfd"/><stop offset="1.0000" stop-color="#fffdfd"/></linearGradient>
<linearGradient id="g207" x1="0" y1="0" x2="1" y2="0"><stop offset="0.0000" stop-color="#800000"/><stop offset="0.3958" stop-color="#840000"/><stop offset="0.4271" stop-color="#8e0000"/><stop offset="0.4872" stop-color="#9e0000"/><stop offset="0.5774" stop-color="#ba0000"/><stop offset="0.6677" stop-color="#e20000"/><stop offset="0.7278" stop-color="#fe0000"/><stop offset="0.7760" stop-color="#ff2d2d"/><stop offset="0.8181" stop-color="#ff5959"/><stop offset="0.8785" stop-color="#ff9191"/><stop offset="0.9201" stop-color="#ffb9b9"/><stop offset="0.9688" stop-color="#ffe5e5"/><stop offset="0.9913" stop-color="#fffdfd"/><stop offset="1.0000" stop-color="#fffdfd"/></linearGradient>
<linearGradient id="g208" x1="0" y1="0" x2="1" y2="0"><stop offset="0.0000" stop-color="#800000"/><stop offset="0.3958" stop-color="#840000"/><stop offset="0.4271" stop-color="#8e0000"/><stop offset="0.4872" stop-color="#9e0000"/><stop offset="0.5774" stop-color="#ba0000"/><stop offset="0.6677" stop-color="#e20000"/><stop offset="0.7278" stop-color="#fe0000"/><stop offset="0.7760" stop-color="#ff2d2d"/><stop offset="0.8181" stop-color="#ff5959"/><stop offset="0.8785" stop-color="#ff9191"/><stop offset="0.9201" stop-color="#ffb9b9"/><stop offset="0.9688" stop-color="#ffe5e5"/><stop offset="0.9913" stop-color="#fffdfd"/><stop offset="1.0000" stop-color="#fffdfd"/></linearGradient>
<linearGradient id="g209" x1="0" y1="0" x2="1" y2="0"><stop offset="0.0000" stop-color="#800000"/><stop offset="0.3958" stop-color="#840000"/><stop offset="0.4271" stop-color="#8e0000"/><stop offset="0.4872" stop-color="#9e0000"/><stop offset="0.5774" stop-color="#ba0000"/><stop offset="0.6677" stop-color="#e20000"/><stop offset="0.7278" stop-color="#fe0000"/><stop offset="0.7760" stop-color="#ff2d2d"/><stop offset="0.8181" stop-color="#ff5959"/><stop offset="0.8785" stop-color="#ff9191"/><stop offset="0.9201" stop-color="#ffb9b9"/><stop offset="0.9688" stop-color="#ffe5e5"/><stop offset="0.9913" stop-color="#fffdfd"/><stop offset="1.0000" stop-color="#fffdfd"/></linearGradient>
<linearGradient id="g210" x1="0" y1="0" x2="1" y2="0"><stop offset="0.0000" stop-color="#800000"/><stop offset="0.3958" stop-color="#840000"/><stop offset="0.4271" stop-color="#8e0000"/><stop offset="0.4872" stop-color="#9c0000"/><stop offset="0.5774" stop-color="#ba0000"/><stop offset="0.6677" stop-color="#e20000"/><stop offset="0.7278" stop-color="#fe0000"/><stop offset="0.7760" stop-color="#ff2d2d"/><stop offset="0.8181" stop-color="#ff5555"/><stop offset="0.8785" stop-color="#ff9191"/><stop offset="0.9201" stop-color="#ffb9b9"/><stop offset="0.9688" stop-color="#ffe5e5"/><stop offset="0.9913" stop-color="#fff9f9"/><stop offset="1.0000" stop-color="#fffdfd"/></linearGradient>
<linearGradient id="g211" x1="0" y1="0" x2="1" y2="0"><stop offset="0.0000" stop-color="#800000"/><stop offset="0.3958" stop-color="#840000"/><stop offset="0.4271" stop-color="#8c0000"/><stop offset="0.4872" stop-color="#9c0000"/><stop offset="0.5774" stop-color="#ba0000"/><stop offset="0.6677" stop-color="#e20000"/><stop offset="0.7278" stop-color="#fe0000"/><stop offset="0.7760" stop-color="#ff2d2d"/><stop offset="0.8181" stop-color="#ff5555"/><stop offset="0.8785" stop-color="#ff9191"/><stop offset="0.9201" stop-color="#ffb9b9"/><stop offset="0.9688" stop-color="#ffe5e5"/><stop offset="0.9913" stop-color="#fff9f9"/><stop offset="1.0000" stop-color="#fffdfd"/></linearGradient>
<linearGradient id="g212" x1="0" y1="0" x2="1" y2="0"><stop offset="0.0000" stop-color="#800000"/><stop offset="0.3958" stop-color="#840000"/><stop offset="0.4271" stop-color="#8c0000"/><stop offset="0.4872" stop-color="#9c0000"/><stop offset="0.5774" stop-color="#b80000"/><stop offset="0.6677" stop-color="#e20000"/><stop offset="0.7278" stop-color="#fe0000"/><stop offset="0.7760" stop-color="#ff2d2d"/><stop offset="0.8181" stop-color="#ff5555"/><stop offset="0.8785" stop-color="#ff9191"/><stop offset="0.9201" stop-color="#ffb9b9"/><stop offset="0.9688" stop-color="#ffe5e5"/><stop offset="0.9913" stop-color="#fff9f9"/><stop offset="1.0000" stop-color="#fffdfd"/></linearGradient>
<linearGradient id="g213" x1="0" y1="0" x2="1" y2="0"><stop offset="0.0000" stop-color="#800000"/><stop offset="0.3958" stop-color="#840000"/><stop offset="0.4271" stop-color="#8c0000"/><stop offset="0.4872" stop-color="#9c0000"/><stop offset="0.5774" stop-color="#b80000"/><stop offset="0.6677" stop-color="#e20000"/><stop offset="0.7278" stop-color="#fe0000"/><stop offset="0.7760" stop-color="#ff2d2d"/><stop offset="0.8181" stop-color="#ff5555"/><stop offset="0.8785" stop-color="#ff9191"/><stop offset="0.9201" stop-color="#ffb9b9"/><stop offset="0.9688" stop-color="#ffe5e5"/><stop offset="0.9913" stop-color="#fff9f9"/><stop offset="1.0000" stop-color="#fffdfd"/></linearGradient>
<linearGradient id="g214" x1="0" y1="0" x2="1" y2="0"><stop offset="0.0000" stop-color="#800000"/><stop offset="0.3958" stop-color="#860000"/><stop offset="0.4271" stop-color="#8c0000"/><stop offset="0.4872" stop-color="#9c0000"/><stop offset="0.5774" stop-color="#b80000"/><stop offset="0.6677" stop-color="#e20000"/><stop offset="0.7278" stop-color="#fe0000"/><stop offset="0.7760" stop-color="#ff2d2d"/><stop offset="0.8181" stop-color="#ff5555"/><stop offset="0.8785" stop-color="#ff9191"/><stop offset="0.9201" stop-color="#ffb9b9"/><stop offset="0.9688" stop-color="#ffe5e5"/><stop offset="0.9913" stop-color="#fff9f9"/><stop offset="1.0000" stop-color="#fffdfd"/></linearGradient>
<linearGradient id="g215" x1="0" y1="0" x2="1" y2="0"><stop offset="0.0000" stop-color="#800000"/><stop offset="0.3958" stop-color="#860000"/><stop offset="0.4271" stop-color="#8c0000"/><stop offset="0.4872" stop-color="#9c0000"/><stop offset="0.5774" stop-color="#b80000"/><stop offset="0.6677" stop-color="#e20000"/><stop offset="0.7278" stop-color="#fe0000"/><stop offset="0.7760" stop-color="#ff2d2d"/><stop offset="0.8181" stop-color="#ff5555"/><stop offset="0.8785" stop-color="#ff9191"/><stop offset="0.9201" stop-color="#ffb9b9"/><stop offset="0.9688" stop-color="#ffe5e5"/><stop offset="0.9913" stop-color="#fff9f9"/><stop offset="1.0000" stop-color="#fffdfd"/></linearGradient>
<linearGradient id="g216" x1="0" y1="0" x2="1" y2="0"><stop offset="0.0000" stop-color="#800000"/><stop offset="0.3958" stop-color="#860000"/><stop offset="0.4271" stop-color="#8c0000"/><stop offset="0.4872" stop-color="#9a0000"/><stop offset="0.5774" stop-color="#b80000"/><stop offset="0.6677" stop-color="#e20000"/><stop offset="0.7278" stop-color="#fe0000"/><stop offset="0.7760" stop-color="#ff2d2d"/><stop offset="0.8181" stop-color="#ff5555"/><stop offset="0.8785" stop-color="#ff9191"/><stop offset="0.9201" stop-color="#ffb9b9"/><stop offset="0.9688" stop-color="#ffe5e5"/><stop offset="0.9913" stop-color="#fff9f9"/><stop offset="1.0000" stop-color="#fffdfd"/></linearGradient>
<linearGradient id="g217" x1="0" y1="0" x2="1" y2="0"><stop offset="0.0000" stop-color="#800000"/><stop offset="0.3958" stop-color="#860000"/><stop offset="0.4271" stop-color="#8c0000"/><stop offset="0.4872" stop-color="#9a0000"/><stop offset="0.5774" stop-color="#b60000"/><stop offset="0.6677" stop-color="#e20000"/><stop offset="0.7278" stop-color="#fe0000"/><stop offset="0.7760" stop-color="#ff2d2d"/><stop offset="0.8181" stop-color="#ff5555"/><stop offset="0.8785" stop-color="#ff9191"/><stop offset="0.9201" stop-color="#ffb9b9"/><stop offset="0.9688" stop-color="#ffe5e5"/><stop offset="0.9913" stop-color="#fff9f9"/><stop offset="1.0000" stop-color="#fffdfd"/></linearGradient>
<linearGradient id="g218" x1="0" y1="0" x2="1" y2="0"><stop offset="0.0000" stop-color="#800000"/><stop offset="0.3958" stop-color="#880000"/><stop offset="0.4271" stop-color="#920000"/><stop offset="0.4872" stop-color="#a30000"/><stop offset="0.5774" stop-color="#c30000"/><stop offset="0.6677" stop-color="#ea0000"/><stop offset="0.7278" stop-color="#ff0505"/><stop offset="0.7760" stop-color="#ff3535"/><stop offset="0.8181" stop-color="#ff6161"/><stop offset="0.8785" stop-color="#ff9d9d"/><stop offset="0.9201" stop-color="#ffc9c9"/><stop offset="0.9688" stop-color="#fffdfd"/><stop offset="0.9913" stop-color="#e9e9ff"/><stop offset="1.0000" stop-color="#e1e1ff"/></linearGradient>
<linearGradient id="g219" x1="0" y1="0" x2="1" y2="0"><stop offset="0.0000" stop-color="#800000"/><stop offset="0.3958" stop-color="#8c0000"/><stop offset="0.4271" stop-color="#980000"/><stop offset="0.4872" stop-color="#ac0000"/><stop offset="0.5774" stop-color="#ce0000"/><stop offset="0.6677" stop-color="#f00000"/><stop offset="0.7278" stop-color="#ff0d0d"/><stop offset="0.7760" stop-color="#ff4141"/><stop offset="0.8181" stop-color="#ff6969"/><stop offset="0.8785" stop-color="#ffa5a5"/><stop offset="0.9201" stop-color="#ffd1d1"/><stop offset="0.9688" stop-color="#f9f9ff"/><stop offset="0.9913" stop-color="#ddddff"/><stop offset="1.0000" stop-color="#d5d5ff"/></linearGradient>
<linearGradient id="g220" x1="0" y1="0" x2="1" y2="0"><stop offset="0.0000" stop-color="#800000"/><stop offset="0.3958" stop-color="#920000"/><stop offset="0.4271" stop-color="#9e0000"/><stop offset="0.4872" stop-color="#b30000"/><stop offset="0.5774" stop-color="#d30000"/><stop offset="0.6677" stop-color="#f60000"/><stop offset="0.7278" stop-color="#ff1515"/><stop offset="0.7760" stop-color="#ff4545"/><stop offset="0.8181" stop-color="#ff7171"/><stop offset="0.8785" stop-color="#ffa9a9"/><stop offset="0.9201" stop-color="#ffd5d5"/><stop offset="0.9688" stop-color="#f5f5ff"/><stop offset="0.9913" stop-color="#ddddff"/><stop offset="1.0000" stop-color="#d1d1ff"/></linearGradient>
<linearGradient id="g221" x1="0" y1="0" x2="1" y2="0"><stop offset="0.0000" stop-color="#800000"/><stop offset="0.3958" stop-color="#980000"/><stop offset="0.4271" stop-color="#a30000"/><stop offset="0.4872" stop-color="#ba0000"/><stop offset="0.5774" stop-color="#dc0000"/><stop offset="0.6677" stop-color="#fa0000"/><stop offset="0.7278" stop-color="#ff1d1d"/><stop offset="0.7760" stop-color="#ff4d4d"/><stop offset="0.8181" stop-color="#ff7575"/><stop offset="0.8785" stop-color="#ffb1b1"/><stop offset="0.9201" stop-color="#ffd9d9"/><stop offset="0.9688" stop-color="#f1f1ff"/><stop offset="0.9913" stop-color="#d9d9ff"/><stop offset="1.0000" stop-color="#d1d1ff"/></linearGradient>
<linearGradient id="g222" x1="0" y1="0" x2="1" y2="0"><stop offset="0.0000" stop-color="#800000"/><stop offset="0.3958" stop-color="#9c0000"/><stop offset="0.4271" stop-color="#aa0000"/><stop offset="0.4872" stop-color="#c20000"/><stop offset="0.5774" stop-color="#e30000"/><stop offset="0.6677" stop-color="#ff0101"/><stop offset="0.7278" stop-color="#ff2525"/><stop offset="0.7760" stop-color="#ff5555"/><stop offset="0.8181" stop-color="#ff7d7d"/><stop offset="0.8785" stop-color="#ffb5b5"/><stop offset="0.9201" stop-color="#ffdddd"/><stop offset="0.9688" stop-color="#f1f1ff"/><stop offset="0.9913" stop-color="#d9d9ff"/><stop offset="1.0000" stop-color="#cdcdff"/></linearGradient>
<linearGradient id="g223" x1="0" y1="0" x2="1" y2="0"><stop offset="0.0000" stop-color="#800000"/><stop offset="0.3958" stop-color="#a20000"/><stop offset="0.4271" stop-color="#b00000"/><stop offset="0.4872" stop-color="#c80000"/><stop offset="0.5774" stop-color="#ea0000"/><stop offset="0.6677" stop-color="#ff0909"/><stop offset="0.7278" stop-color="#ff2d2d"/><stop offset="0.7760" stop-color="#ff5959"/><stop offset="0.8181" stop-color="#ff8181"/><stop offset="0.8785" stop-color="#ffb9b9"/><stop offset="0.9201" stop-color="#ffe1e1"/><stop offset="0.9688" stop-color="#ededff"/><stop offset="0.9913" stop-color="#d5d5ff"/><stop offset="1.0000" stop-color="#cdcdff"/></linearGradient>
<linearGradient id="g224" x1="0" y1="0" x2="1" y2="0"><stop offset="0.0000" stop-color="#800000"/><stop offset="0.3958" stop-color="#ac0000"/><stop offset="0.4271" stop-color="#b80000"/><stop offset="0.4872" stop-color="#d20000"/><stop offset="0.5774" stop-color="#f20000"/><stop offset="0.6677" stop-color="#ff1919"/><stop offset="0.7278" stop-color="#ff3d3d"/><stop offset="0.7760" stop-color="#ff6565"/><stop offset="0.8181" stop-color="#ff8989"/><stop offset="0.8785" stop-color="#ffbdbd"/><stop offset="0.9201" stop-color="#ffe1e1"/><stop offset="0.9688" stop-color="#ededff"/><stop offset="0.9913" stop-color="#d5d5ff"/><stop offset="1.0000" stop-color="#cdcdff"/></linearGradient>
<linearGradient id="g225" x1="0" y1="0" x2="1" y2="0"><stop offset="0.0000" stop-color="#800000"/><stop offset="0.3958" stop-color="#ba0000"/><stop offset="0.4271" stop-color="#c60000"/><stop offset="0.4872" stop-color="#dc0000"/><stop offset="0.5774" stop-color="#fc0000"/><stop offset="0.6677" stop-color="#ff2d2d"/><stop offset="0.7278" stop-color="#ff4d4d"/><stop offset="0.7760" stop-color="#ff7575"/><stop offset="0.8181" stop-color="#ff9595"/><stop offset="0.8785" stop-color="#ffc1c1"/><stop offset="0.9201" stop-color="#ffe5e5"/><stop offset="0.9688" stop-color="#ededff"/><stop offset="0.9913" stop-color="#d9d9ff"/><stop offset="1.0000" stop-color="#d1d1ff"/></linearGradient>
<linearGradient id="g226" x1="0" y1="0" x2="1" y2="0"><stop offset="0.0000" stop-color="#800000"/><stop offset="0.3958" stop-color="#ca0000"/><stop offset="0.4271" stop-color="#d30000"/><stop offset="0.4872" stop-color="#e80000"/><stop offset="0.5774" stop-color="#ff0d0d"/><stop offset="0.6677" stop-color="#ff4141"/><stop offset="0.7278" stop-color="#ff6161"/><stop offset="0.7760" stop-color="#ff8181"/><stop offset="0.8181" stop-color="#ff9d9d"/><stop offset="0.8785" stop-color="#ffc9c9"/><stop offset="0.9201" stop-color="#ffe5e5"/><stop offset="0.9688" stop-color="#f1f1ff"/><stop offset="0.9913" stop-color="#ddddff"/><stop offset="1.0000" stop-color="#d9d9ff"/></linearGradient>
<linearGradient id="g227" x1="0" y1="0" x2="1" y2="0"><stop offset="0.0000" stop-color="#800000"/><stop offset="0.3958" stop-color="#d80000"/><stop offset="0.4271" stop-color="#e20000"/><stop offset="0.4872" stop-color="#f40000"/><stop offset="0.5774" stop-color="#ff2121"/><stop offset="0.6677" stop-color="#ff5151"/><stop offset="0.7278" stop-color="#ff7575"/><stop offset="0.7760" stop-color="#ff9191"/><stop offset="0.8181" stop-color="#ffa9a9"/><stop offset="0.8785" stop-color="#ffcdcd"/><stop offset="0.9201" stop-color="#ffe5e5"/><stop offset="0.9688" stop-color="#f5f5ff"/><stop offset="0.9913" stop-color="#e1e1ff"/><stop offset="1.0000" stop-color="#ddddff"/></linearGradient>
<linearGradient id="g228" x1="0" y1="0" x2="1" y2="0"><stop offset="0.0000" stop-color="#880000"/><stop offset="0.3958" stop-color="#e60000"/><stop offset="0.4271" stop-color="#f00000"/><stop offset="0.4872" stop-color="#ff0101"/><stop offset="0.5774" stop-color="#ff3535"/><stop offset="0.6677" stop-color="#ff6565"/><stop offset="0.7278" stop-color="#ff8989"/><stop offset="0.7760" stop-color="#ffa1a1"/><stop offset="0.8181" stop-color="#ffb5b5"/><stop offset="0.8785" stop-color="#ffd1d1"/><stop offset="0.9201" stop-color="#ffe9e9"/><stop offset="0.9688" stop-color="#f5f5ff"/><stop offset="0.9913" stop-color="#e9e9ff"/><stop offset="1.0000" stop-color="#e1e1ff"/></linearGradient>
<linearGradient id="g229" x1="0" y1="0" x2="1" y2="0"><stop offset="0.0000" stop-color="#be0000"/><stop offset="0.3958" stop-color="#fc0000"/><stop offset="0.4271" stop-color="#ff0909"/><stop offset="0.4872" stop-color="#ff2929"/><stop offset="0.5774" stop-color="#ff5555"/><stop offset="0.6677" stop-color="#ff8181"/><stop offset="0.7278" stop-color="#ff9d9d"/><stop offset="0.7760" stop-color="#ffb1b1"/><stop offset="0.8181" stop-color="#ffc1c1"/><stop offset="0.8785" stop-color="#ffd9d9"/><stop offset="0.9201" stop-color="#ffe9e9"/><stop offset="0.9688" stop-color="#fdfdff"/><stop offset="0.9913" stop-color="#f5f5ff"/><stop offset="1.0000" stop-color="#f1f1ff"/></linearGradient>
<linearGradient id="g230" x1="0" y1="0" x2="1" y2="0"><stop offset="0.0000" stop-color="#f60000"/><stop offset="0.3958" stop-color="#ff2525"/><stop offset="0.4271" stop-color="#ff3131"/><stop offset="0.4872" stop-color="#ff4d4d"/><stop offset="0.5774" stop-color="#ff7575"/><stop offset="0.6677" stop-color="#ff9d9d"/><stop offset="0.7278" stop-color="#ffb5b5"/><stop offset="0.7760" stop-color="#ffc1c1"/><stop offset="0.8181" stop-color="#ffcdcd"/><stop offset="0.8785" stop-color="#ffe1e1"/><stop offset="0.9201" stop-color="#ffeded"/><stop offset="0.9688" stop-color="#fff9f9"/><stop offset="0.9913" stop-color="#fffdfd"/><stop offset="1.0000" stop-color="#fdfdff"/></linearGradient>
<linearGradient id="g231" x1="0" y1="0" x2="1" y2="0"><stop offset="0.0000" stop-color="#fffdfd"/><stop offset="0.0035" stop-color="#fff9f9"/><stop offset="0.0694" stop-color="#ffd1d1"/><stop offset="0.1285" stop-color="#ff9999"/><stop offset="0.1899" stop-color="#ff5d5d"/><stop offset="0.2500" stop-color="#ff1d1d"/><stop offset="0.2986" stop-color="#ff0101"/><stop offset="0.3701" stop-color="#e00000"/><stop offset="0.4306" stop-color="#c80000"/><stop offset="0.4906" stop-color="#a80000"/><stop offset="0.5507" stop-color="#900000"/><stop offset="0.5809" stop-color="#800000"/><stop offset="0.7083" stop-color="#800000"/><stop offset="0.8819" stop-color="#800000"/><stop offset="1.0000" stop-color="#800000"/></linearGradient>
<linearGradient id="g232" x1="0" y1="0" x2="1" y2="0"><stop offset="0.0000" stop-color="#fffdfd"/><stop offset="0.0035" stop-color="#fff9f9"/><stop offset="0.0694" stop-color="#ffd1d1"/><stop offset="0.1285" stop-color="#ff9999"/><stop offset="0.1899" stop-color="#ff5d5d"/><stop offset="0.2500" stop-color="#ff2121"/><stop offset="0.2986" stop-color="#ff0101"/><stop offset="0.3701" stop-color="#e20000"/><stop offset="0.4306" stop-color="#c80000"/><stop offset="0.4906" stop-color="#aa0000"/><stop offset="0.5507" stop-color="#900000"/><stop offset="0.5809" stop-color="#820000"/><stop offset="0.7083" stop-color="#800000"/><stop offset="0.8819" stop-color="#800000"/><stop offset="1.0000" stop-color="#800000"/></linearGradient>
<linearGradient id="g233" x1="0" y1="0" x2="1" y2="0"><stop offset="0.0000" stop-color="#fffdfd"/><stop offset="0.0035" stop-color="#fff9f9"/><stop offset="0.0694" stop-color="#ffd1d1"/><stop offset="0.1285" stop-color="#ff9999"/><stop offset="0.1899" stop-color="#ff5d5d"/><stop offset="0.2500" stop-color="#ff2121"/><stop offset="0.2986" stop-color="#ff0101"/><stop offset="0.3701" stop-color="#e20000"/><stop offset="0.4306" stop-color="#c80000"/><stop offset="0.4906" stop-color="#aa0000"/><stop offset="0.5507" stop-color="#920000"/><stop offset="0.5809" stop-color="#820000"/><stop offset="0.7083" stop-color="#800000"/><stop offset="0.8819" stop-color="#800000"/><stop offset="1.0000" stop-color="#800000"/></linearGradient>
<linearGradient id="g234" x1="0" y1="0" x2="1" y2="0"><stop offset="0.0000" stop-color="#fdfdff"/><stop offset="0.0035" stop-color="#fffdfd"/><stop offset="0.0694" stop-color="#ffd1d1"/><stop offset="0.1285" stop-color="#ff9d9d"/><stop offset="0.1899" stop-color="#ff6161"/><stop offset="0.2500" stop-color="#ff2525"/><stop offset="0.2986" stop-color="#ff0505"/><stop offset="0.3701" stop-color="#e20000"/><stop offset="0.4306" stop-color="#ca0000"/><stop offset="0.4906" stop-color="#ac0000"/><stop offset="0.5507" stop-color="#920000"/><stop offset="0.5809" stop-color="#840000"/><stop offset="0.7083" stop-color="#800000"/><stop offset="0.8819" stop-color="#800000"/><stop offset="1.0000" stop-color="#800000"/></linearGradient>
<linearGradient id="g235" x1="0" y1="0" x2="1" y2="0"><stop offset="0.0000" stop-color="#fdfdff"/><stop offset="0.0035" stop-color="#fffdfd"/><stop offset="0.0694" stop-color="#ffd1d1"/><stop offset="0.1285" stop-color="#ff9d9d"/><stop offset="0.1899" stop-color="#ff6161"/><stop offset="0.2500" stop-color="#ff2525"/><stop offset="0.2986" stop-color="#ff0505"/><stop offset="0.3701" stop-color="#e30000"/><stop offset="0.4306" stop-color="#ca0000"/><stop offset="0.4906" stop-color="#ae0000"/><stop offset="0.5507" stop-color="#930000"/><stop offset="0.5809" stop-color="#860000"/><stop offset="0.7083" stop-color="#800000"/><stop offset="0.8819" stop-color="#800000"/><stop offset="1.0000" stop-color="#800000"/></linearGradient>
<linearGradient id="g236" x1="0" y1="0" x2="1" y2="0"><stop offset="0.0000" stop-color="#fdfdff"/><stop offset="0.0035" stop-color="#fffdfd"/><stop offset="0.0694" stop-color="#ffd1d1"/><stop offset="0.1285" stop-color="#ff9d9d"/><stop offset="0.1899" stop-color="#ff6565"/><stop offset="0.2500" stop-color="#ff2929"/><stop offset="0.2986" stop-color="#ff0505"/><stop offset="0.3701" stop-color="#e30000"/><stop offset="0.4306" stop-color="#cc0000"/><stop offset="0.4906" stop-color="#ae0000"/><stop offset="0.5507" stop-color="#960000"/><stop offset="0.5809" stop-color="#860000"/><stop offset="0.7083" stop-color="#800000"/><stop offset="0.8819" stop-color="#800000"/><stop offset="1.0000" stop-color="#800000"/></linearGradient>
<linearGradient id="g237" x1="0" y1="0" x2="1" y2="0"><stop offset="0.0000" stop-color="#fdfdff"/><stop offset="0.0035" stop-color="#fffdfd"/><stop offset="0.0694" stop-color="#ffd5d5"/><stop offset="0.1285" stop-color="#ff9d9d"/><stop offset="0.1899" stop-color="#ff6565"/><stop offset="0.2500" stop-color="#ff2929"/><stop offset="0.2986" stop-color="#ff0909"/><stop offset="0.3701" stop-color="#e30000"/><stop offset="0.4306" stop-color="#cc0000"/><stop offset="0.4906" stop-color="#b00000"/><stop offset="0.5507" stop-color="#960000"/><stop offset="0.5809" stop-color="#880000"/><stop offset="0.7083" stop-color="#800000"/><stop offset="0.8819" stop-color="#800000"/><stop offset="1.0000" stop-color="#800000"/></linearGradient>
<linearGradient id="g238" x1="0" y1="0" x2="1" y2="0"><stop offset="0.0000" stop-color="#fdfdff"/><stop offset="0.0035" stop-color="#fffdfd"/><stop offset="0.0694" stop-color="#ffd5d5"/><stop offset="0.1285" stop-color="#ffa1a1"/><stop offset="0.1899" stop-color="#ff6565"/><stop offset="0.2500" stop-color="#ff2929"/><stop offset="0.2986" stop-color="#ff0909"/><stop offset="0.3701" stop-color="#e60000"/><stop offset="0.4306" stop-color="#ce0000"/><stop offset="0.4906" stop-color="#b00000"/><stop offset="0.5507" stop-color="#980000"/><stop offset="0.5809" stop-color="#8a0000"/><stop offset="0.7083" stop-color="#800000"/><stop offset="0.8819" stop-color="#800000"/><stop offset="1.0000" stop-color="#800000"/></linearGradient>
<linearGradient id="g239" x1="0" y1="0" x2="1" y2="0"><stop offset="0.0000" stop-color="#fdfdff"/><stop offset="0.0035" stop-color="#fffdfd"/><stop offset="0.0694" stop-color="#ffd5d5"/><stop offset="0.1285" stop-color="#ffa1a1"/><stop offset="0.1899" stop-color="#ff6969"/><stop offset="0.2500" stop-color="#ff2d2d"/><stop offset="0.2986" stop-color="#ff0d0d"/><stop offset="0.3701" stop-color="#e60000"/><stop offset="0.4306" stop-color="#ce0000"/><stop offset="0.4906" stop-color="#b20000"/><stop offset="0.5507" stop-color="#9a0000"/><stop offset="0.5809" stop-color="#8a0000"/><stop offset="0.7083" stop-color="#800000"/><stop offset="0.8819" stop-color="#800000"/><stop offset="1.0000" stop-color="#800000"/></linearGradient>
<linearGradient id="g240" x1="0" y1="0" x2="1" y2="0"><stop offset="0.0000" stop-color="#fdfdff"/><stop offset="0.0035" stop-color="#fffdfd"/><stop offset="0.0694" stop-color="#ffd5d5"/><stop offset="0.1285" stop-color="#ffa1a1"/><stop offset="0.1899" stop-color="#ff6969"/><stop offset="0.2500" stop-color="#ff2d2d"/><stop offset="0.2986" stop-color="#ff0d0d"/><stop offset="0.3701" stop-color="#e80000"/><stop offset="0.4306" stop-color="#ce0000"/><stop offset="0.4906" stop-color="#b30000"/><stop offset="0.5507" stop-color="#9a0000"/><stop offset="0.5809" stop-color="#8c0000"/><stop offset="0.7083" stop-color="#800000"/><stop offset="0.8819" stop-color="#800000"/><stop offset="1.0000" stop-color="#800000"/></linearGradient>
<linearGradient id="g241" x1="0" y1="0" x2="1" y2="0"><stop offset="0.0000" stop-color="#fdfdff"/><stop offset="0.0035" stop-color="#fffdfd"/><stop offset="0.0694" stop-color="#ffd5d5"/><stop offset="0.1285" stop-color="#ffa1a1"/><stop offset="0.1899" stop-color="#ff6d6d"/><stop offset="0.2500" stop-color="#ff3131"/><stop offset="0.2986" stop-color="#ff0d0d"/><stop offset="0.3701" stop-color="#e80000"/><stop offset="0.4306" stop-color="#d00000"/><stop offset="0.4906" stop-color="#b30000"/><stop offset="0.5507" stop-color="#9c0000"/><stop offset="0.5809" stop-color="#8e0000"/><stop offset="0.7083" stop-color="#800000"/><stop offset="0.8819" stop-color="#800000"/><stop offset="1.0000" stop-color="#800000"/></linearGradient>
<linearGradient id="g242" x1="0" y1="0" x2="1" y2="0"><stop offset="0.0000" stop-color="#fdfdff"/><stop offset="0.0035" stop-color="#fffdfd"/><stop offset="0.0694" stop-color="#ffd5d5"/><stop offset="0.1285" stop-color="#ffa1a1"/><stop offset="0.1899" stop-color="#ff6d6d"/><stop offset="0.2500" stop-color="#ff3131"/><stop offset="0.2986" stop-color="#ff1111"/><stop offset="0.3701" stop-color="#e80000"/><stop offset="0.4306" stop-color="#d00000"/><stop offset="0.4906" stop-color="#b60000"/><stop offset="0.5507" stop-color="#9e0000"/><stop offset="0.5809" stop-color="#8e0000"/><stop offset="0.7083" stop-color="#800000"/><stop offset="0.8819" stop-color="#800000"/><stop offset="1.0000" stop-color="#800000"/></linearGradient>
<linearGradient id="g243" x1="0" y1="0" x2="1" y2="0"><stop offset="0.0000" stop-color="#fdfdff"/><stop offset="0.0035" stop-color="#fffdfd"/><stop offset="0.0694" stop-color="#ffd5d5"/><stop offset="0.1285" stop-color="#ffa5a5"/><stop offset="0.1899" stop-color="#ff6d6d"/><stop offset="0.2500" stop-color="#ff3535"/><stop offset="0.2986" stop-color="#ff1111"/><stop offset="0.3701" stop-color="#ea0000"/><stop offset="0.4306" stop-color="#d20000"/><stop offset="0.4906" stop-color="#b60000"/><stop offset="0.5507" stop-color="#9e0000"/><stop offset="0.5809" stop-color="#900000"/><stop offset="0.7083" stop-color="#800000"/><stop offset="0.8819" stop-color="#800000"/><stop offset="1.0000" stop-color="#800000"/></linearGradient>
<linearGradient id="g244" x1="0" y1="0" x2="1" y2="0"><stop offset="0.0000" stop-color="#fdfdff"/><stop offset="0.0035" stop-color="#fffdfd"/><stop offset="0.0694" stop-color="#ffd5d5"/><stop offset="0.1285" stop-color="#ffa5a5"/><stop offset="0.1899" stop-color="#ff7171"/><stop offset="0.2500" stop-color="#ff3535"/><stop offset="0.2986" stop-color="#ff1111"/><stop offset="0.3701" stop-color="#ea0000"/><stop offset="0.4306" stop-color="#d20000"/><stop offset="0.4906" stop-color="#b80000"/><stop offset="0.5507" stop-color="#a00000"/><stop offset="0.5809" stop-color="#920000"/><stop offset="0.7083" stop-color="#800000"/><stop offset="0.8819" stop-color="#800000"/><stop offset="1.0000" stop-color="#800000"/></linearGradient>
<linearGradient id="g245" x1="0" y1="0" x2="1" y2="0"><stop offset="0.0000" stop-color="#fdfdff"/><stop offset="0.0035" stop-color="#fffdfd"/><stop offset="0.0694" stop-color="#ffd5d5"/><stop offset="0.1285" stop-color="#ffa5a5"/><stop offset="0.1899" stop-color="#ff7171"/><stop offset="0.2500" stop-color="#ff3939"/><stop offset="0.2986" stop-color="#ff1515"/><stop offset="0.3701" stop-color="#ea0000"/><stop offset="0.4306" stop-color="#d30000"/><stop offset="0.4906" stop-color="#b80000"/><stop offset="0.5507" stop-color="#a20000"/><stop offset="0.5809" stop-color="#920000"/><stop offset="0.7083" stop-color="#800000"/><stop offset="0.8819" stop-color="#800000"/><stop offset="1.0000" stop-color="#800000"/></linearGradient>
<linearGradient id="g246" x1="0" y1="0" x2="1" y2="0"><stop offset="0.0000" stop-color="#fdfdff"/><stop offset="0.0035" stop-color="#fdfdff"/><stop offset="0.0694" stop-color="#ffd5d5"/><stop offset="0.1285" stop-color="#ffa5a5"/><stop offset="0.1899" stop-color="#ff7171"/><stop offset="0.2500" stop-color="#ff3939"/><stop offset="0.2986" stop-color="#ff1515"/><stop offset="0.3701" stop-color="#ec0000"/><stop offset="0.4306" stop-color="#d30000"/><stop offset="0.4906" stop-color="#ba0000"/><stop offset="0.5507" stop-color="#a20000"/><stop offset="0.5809" stop-color="#930000"/><stop offset="0.7083" stop-color="#800000"/><stop offset="0.8819" stop-color="#800000"/><stop offset="1.0000" stop-color="#800000"/></linearGradient>
<linearGradient id="g247" x1="0" y1="0" x2="1" y2="0"><stop offset="0.0000" stop-color="#fdfdff"/><stop offset="0.0035" stop-color="#fdfdff"/><stop offset="0.0694" stop-color="#ffd5d5"/><stop offset="0.1285" stop-color="#ffa9a9"/><stop offset="0.1899" stop-color="#ff7575"/><stop offset="0.2500" stop-color="#ff3939"/><stop offset="0.2986" stop-color="#ff1515"/><stop offset="0.3701" stop-color="#ec0000"/><stop offset="0.4306" stop-color="#d60000"/><stop offset="0.4906" stop-color="#bc0000"/><stop offset="0.5507" stop-color="#a30000"/><stop offset="0.5809" stop-color="#960000"/><stop offset="0.7083" stop-color="#800000"/><stop offset="0.8819" stop-color="#800000"/><stop offset="1.0000" stop-color="#800000"/></linearGradient>
<linearGradient id="g248" x1="0" y1="0" x2="1" y2="0"><stop offset="0.0000" stop-color="#f9f9ff"/><stop offset="0.0035" stop-color="#fdfdff"/><stop offset="0.0694" stop-color="#ffd5d5"/><stop offset="0.1285" stop-color="#ffa9a9"/><stop offset="0.1899" stop-color="#ff7575"/><stop offset="0.2500" stop-color="#ff3d3d"/><stop offset="0.2986" stop-color="#ff1919"/><stop offset="0.3701" stop-color="#ec0000"/><stop offset="0.4306" stop-color="#d60000"/><stop offset="0.4906" stop-color="#bc0000"/><stop offset="0.5507" stop-color="#a30000"/><stop offset="0.5809" stop-color="#960000"/><stop offset="0.7083" stop-color="#800000"/><stop offset="0.8819" stop-color="#800000"/><stop offset="1.0000" stop-color="#800000"/></linearGradient>
<linearGradient id="g249" x1="0" y1="0" x2="1" y2="0"><stop offset="0.0000" stop-color="#f9f9ff"/><stop offset="0.0035" stop-color="#fdfdff"/><stop offset="0.0694" stop-color="#ffd9d9"/><stop offset="0.1285" stop-color="#ffa9a9"/><stop offset="0.1899" stop-color="#ff7979"/><stop offset="0.2500" stop-color="#ff3d3d"/><stop offset="0.2986" stop-color="#ff1919"/><stop offset="0.3701" stop-color="#ee0000"/><stop offset="0.4306" stop-color="#d60000"/><stop offset="0.4906" stop-color="#be0000"/><stop offset="0.5507" stop-color="#a60000"/><stop offset="0.5809" stop-color="#980000"/><stop offset="0.7083" stop-color="#800000"/><stop offset="0.8819" stop-color="#800000"/><stop offset="1.0000" stop-color="#800000"/></linearGradient>
<linearGradient id="g250" x1="0" y1="0" x2="1" y2="0"><stop offset="0.0000" stop-color="#f9f9ff"/><stop offset="0.0035" stop-color="#fdfdff"/><stop offset="0.0694" stop-color="#ffd9d9"/><stop offset="0.1285" stop-color="#ffa9a9"/><stop offset="0.1899" stop-color="#ff7979"/><stop offset="0.2500" stop-color="#ff4141"/><stop offset="0.2986" stop-color="#ff1919"/><stop offset="0.3701" stop-color="#ee0000"/><stop offset="0.4306" stop-color="#d80000"/><stop offset="0.4906" stop-color="#be0000"/><stop offset="0.5507" stop-color="#a80000"/><stop offset="0.5809" stop-color="#9a0000"/><stop offset="0.7083" stop-color="#800000"/><stop offset="0.8819" stop-color="#800000"/><stop offset="1.0000" stop-color="#800000"/></linearGradient>
<linearGradient id="g251" x1="0" y1="0" x2="1" y2="0"><stop offset="0.0000" stop-color="#f9f9ff"/><stop offset="0.0035" stop-color="#fdfdff"/><stop offset="0.0694" stop-color="#ffd9d9"/><stop offset="0.1285" stop-color="#ffadad"/><stop offset="0.1899" stop-color="#ff7979"/><stop offset="0.2500" stop-color="#ff4141"/><stop offset="0.2986" stop-color="#ff1d1d"/><stop offset="0.3701" stop-color="#f00000"/><stop offset="0.4306" stop-color="#d80000"/><stop offset="0.4906" stop-color="#c00000"/><stop offset="0.5507" stop-color="#a80000"/><stop offset="0.5809" stop-color="#9a0000"/><stop offset="0.7083" stop-color="#800000"/><stop offset="0.8819" stop-color="#800000"/><stop offset="1.0000" stop-color="#800000"/></linearGradient>
<linearGradient id="g252" x1="0" y1="0" x2="1" y2="0"><stop offset="0.0000" stop-color="#f9f9ff"/><stop offset="0.0035" stop-color="#fdfdff"/><stop offset="0.0694" stop-color="#ffd9d9"/><stop offset="0.1285" stop-color="#ffadad"/><stop offset="0.1899" stop-color="#ff7d7d"/><stop offset="0.2500" stop-color="#ff4545"/><stop offset="0.2986" stop-color="#ff1d1d"/><stop offset="0.3701" stop-color="#f00000"/><stop offset="0.4306" stop-color="#da0000"/><stop offset="0.4906" stop-color="#c00000"/><stop offset="0.5507" stop-color="#aa0000"/><stop offset="0.5809" stop-color="#9c0000"/><stop offset="0.7083" stop-color="#800000"/><stop offset="0.8819" stop-color="#800000"/><stop offset="1.0000" stop-color="#800000"/></linearGradient>
<linearGradient id="g253" x1="0" y1="0" x2="1" y2="0"><stop offset="0.0000" stop-color="#f9f9ff"/><stop offset="0.0035" stop-color="#fdfdff"/><stop offset="0.0694" stop-color="#ffd9d9"/><stop offset="0.1285" stop-color="#ffadad"/><stop offset="0.1899" stop-color="#ff7d7d"/><stop offset="0.2500" stop-color="#ff4545"/><stop offset="0.2986" stop-color="#ff2121"/><stop offset="0.3701" stop-color="#f00000"/><stop offset="0.4306" stop-color="#da0000"/><stop offset="0.4906" stop-color="#c20000"/><stop offset="0.5507" stop-color="#ac0000"/><stop offset="0.5809" stop-color="#9e0000"/><stop offset="0.7083" stop-color="#800000"/><stop offset="0.8819" stop-color="#800000"/><stop offset="1.0000" stop-color="#800000"/></linearGradient>
<linearGradient id="g254" x1="0" y1="0" x2="1" y2="0"><stop offset="0.0000" stop-color="#f9f9ff"/><stop offset="0.0035" stop-color="#fdfdff"/><stop offset="0.0694" stop-color="#ffd9d9"/><stop offset="0.1285" stop-color="#ffadad"/><stop offset="0.1899" stop-color="#ff8181"/><stop offset="0.2500" stop-color="#ff4545"/><stop offset="0.2986" stop-color="#ff2121"/><stop offset="0.3701" stop-color="#f20000"/><stop offset="0.4306" stop-color="#dc0000"/><stop offset="0.4906" stop-color="#c30000"/><stop offset="0.5507" stop-color="#ac0000"/><stop offset="0.5809" stop-color="#9e0000"/><stop offset="0.7083" stop-color="#800000"/><stop offset="0.8819" stop-color="#800000"/><stop offset="1.0000" stop-color="#800000"/></linearGradient>
<linearGradient id="g255" x1="0" y1="0" x2="1" y2="0"><stop offset="0.0000" stop-color="#f9f9ff"/><stop offset="0.0035" stop-color="#fdfdff"/><stop offset="0.0694" stop-color="#ffd9d9"/><stop offset="0.1285" stop-color="#ffadad"/><stop offset="0.1899" stop-color="#ff8181"/><stop offset="0.2500" stop-color="#ff4949"/><stop offset="0.2986" stop-color="#ff2121"/><stop offset="0.3701" stop-color="#f20000"/><stop offset="0.4306" stop-color="#dc0000"/><stop offset="0.4906" stop-color="#c30000"/><stop offset="0.5507" stop-color="#ae0000"/><stop offset="0.5809" stop-color="#a00000"/><stop offset="0.7083" stop-color="#800000"/><stop offset="0.8819" stop-color="#800000"/><stop offset="1.0000" stop-color="#800000"/></linearGradient>
<linearGradient id="g256" x1="0" y1="0" x2="1" y2="0"><stop offset="0.0000" stop-color="#f9f9ff"/><stop offset="0.0035" stop-color="#fdfdff"/><stop offset="0.0694" stop-color="#ffd9d9"/><stop offset="0.1285" stop-color="#ffb1b1"/><stop offset="0.1899" stop-color="#ff8181"/><stop offset="0.2500" stop-color="#ff4949"/><stop offset="0.2986" stop-color="#ff2525"/><stop offset="0.3701" stop-color="#f20000"/><stop offset="0.4306" stop-color="#dc0000"/><stop offset="0.4906" stop-color="#c60000"/><stop offset="0.5507" stop-color="#b00000"/><stop offset="0.5809" stop-color="#a20000"/><stop offset="0.7083" stop-color="#800000"/><stop offset="0.8819" stop-color="#800000"/><stop offset="1.0000" stop-color="#800000"/></linearGradient>
<linearGradient id="g257" x1="0" y1="0" x2="1" y2="0"><stop offset="0.0000" stop-color="#f9f9ff"/><stop offset="0.0035" stop-color="#fdfdff"/><stop offset="0.0694" stop-color="#ffd9d9"/><stop offset="0.1285" stop-color="#ffb1b1"/><stop offset="0.1899" stop-color="#ff8585"/><stop offset="0.2500" stop-color="#ff4d4d"/><stop offset="0.2986" stop-color="#ff2525"/><stop offset="0.3701" stop-color="#f40000"/><stop offset="0.4306" stop-color="#de0000"/><stop offset="0.4906" stop-color="#c60000"/><stop offset="0.5507" stop-color="#b00000"/><stop offset="0.5809" stop-color="#a30000"/><stop offset="0.7083" stop-color="#800000"/><stop offset="0.8819" stop-color="#800000"/><stop offset="1.0000" stop-color="#800000"/></linearGradient>
<linearGradient id="g258" x1="0" y1="0" x2="1" y2="0"><stop offset="0.0000" stop-color="#f9f9ff"/><stop offset="0.0035" stop-color="#fdfdff"/><stop offset="0.0694" stop-color="#ffd9d9"/><stop offset="0.1285" stop-color="#ffb1b1"/><stop offset="0.1899" stop-color="#ff8585"/><stop offset="0.2500" stop-color="#ff4d4d"/><stop offset="0.2986" stop-color="#ff2525"/><stop offset="0.3701" stop-color="#f40000"/><stop offset="0.4306" stop-color="#de0000"/><stop offset="0.4906" stop-color="#c80000"/><stop offset="0.5507" stop-color="#b20000"/><stop offset="0.5809" stop-color="#a30000"/><stop offset="0.7083" stop-color="#800000"/><stop offset="0.8819" stop-color="#800000"/><stop offset="1.0000" stop-color="#800000"/></linearGradient>
<linearGradient id="g259" x1="0" y1="0" x2="1" y2="0"><stop offset="0.0000" stop-color="#f9f9ff"/><stop offset="0.0035" stop-color="#f9f9ff"/><stop offset="0.0694" stop-color="#ffd9d9"/><stop offset="0.1285" stop-color="#ffb1b1"/><stop offset="0.1899" stop-color="#ff8585"/><stop offset="0.2500" stop-color="#ff5151"/><stop offset="0.2986" stop-color="#ff2929"/><stop offset="0.3701" stop-color="#f40000"/><stop offset="0.4306" stop-color="#e00000"/><stop offset="0.4906" stop-color="#ca0000"/><stop offset="0.5507" stop-color="#b30000"/><stop offset="0.5809" stop-color="#a60000"/><stop offset="0.7083" stop-color="#800000"/><stop offset="0.8819" stop-color="#800000"/><stop offset="1.0000" stop-color="#800000"/></linearGradient>
<linearGradient id="g260" x1="0" y1="0" x2="1" y2="0"><stop offset="0.0000" stop-color="#f9f9ff"/><stop offset="0.0035" stop-color="#f9f9ff"/><stop offset="0.0694" stop-color="#ffdddd"/><stop offset="0.1285" stop-color="#ffb5b5"/><stop offset="0.1899" stop-color="#ff8989"/><stop offset="0.2500" stop-color="#ff5151"/><stop offset="0.2986" stop-color="#ff2929"/><stop offset="0.3701" stop-color="#f60000"/><stop offset="0.4306" stop-color="#e00000"/><stop offset="0.4906" stop-color="#ca0000"/><stop offset="0.5507" stop-color="#b30000"/><stop offset="0.5809" stop-color="#a80000"/><stop offset="0.7083" stop-color="#800000"/><stop offset="0.8819" stop-color="#800000"/><stop offset="1.0000" stop-color="#800000"/></linearGradient>
<linearGradient id="g261" x1="0" y1="0" x2="1" y2="0"><stop offset="0.0000" stop-color="#f9f9ff"/><stop offset="0.0035" stop-color="#f9f9ff"/><stop offset="0.0694" stop-color="#ffdddd"/><stop offset="0.1285" stop-color="#ffb5b5"/><stop offset="0.1899" stop-color="#ff8989"/><stop offset="0.2500" stop-color="#ff5555"/><stop offset="0.2986" stop-color="#ff2929"/><stop offset="0.3701" stop-color="#f60000"/><stop offset="0.4306" stop-color="#e20000"/><stop offset="0.4906" stop-color="#cc0000"/><stop offset="0.5507" stop-color="#b60000"/><stop offset="0.5809" stop-color="#a80000"/><stop offset="0.7083" stop-color="#800000"/><stop offset="0.8819" stop-color="#800000"/><stop offset="1.0000" stop-color="#800000"/></linearGradient>
<linearGradient id="g262" x1="0" y1="0" x2="1" y2="0"><stop offset="0.0000" stop-color="#f5f5ff"/><stop offset="0.0035" stop-color="#f9f9ff"/><stop offset="0.0694" stop-color="#ffdddd"/><stop offset="0.1285" stop-color="#ffb5b5"/><stop offset="0.1899" stop-color="#ff8d8d"/><stop offset="0.2500" stop-color="#ff5555"/><stop offset="0.2986" stop-color="#ff2d2d"/><stop offset="0.3701" stop-color="#f60000"/><stop offset="0.4306" stop-color="#e20000"/><stop offset="0.4906" stop-color="#cc0000"/><stop offset="0.5507" stop-color="#b60000"/><stop offset="0.5809" stop-color="#aa0000"/><stop offset="0.7083" stop-color="#800000"/><stop offset="0.8819" stop-color="#800000"/><stop offset="1.0000" stop-color="#800000"/></linearGradient>
<linearGradient id="g263" x1="0" y1="0" x2="1" y2="0"><stop offset="0.0000" stop-color="#f5f5ff"/><stop offset="0.0035" stop-color="#f9f9ff"/><stop offset="0.0694" stop-color="#ffdddd"/><stop offset="0.1285" stop-color="#ffb5b5"/><stop offset="0.1899" stop-color="#ff8d8d"/><stop offset="0.2500" stop-color="#ff5555"/><stop offset="0.2986" stop-color="#ff2d2d"/><stop offset="0.3701" stop-color="#f80000"/><stop offset="0.4306" stop-color="#e30000"/><stop offset="0.4906" stop-color="#ce0000"/><stop offset="0.5507" stop-color="#b80000"/><stop offset="0.5809" stop-color="#ac0000"/><stop offset="0.7083" stop-color="#800000"/><stop offset="0.8819" stop-color="#800000"/><stop offset="1.0000" stop-color="#800000"/></linearGradient>
<linearGradient id="g264" x1="0" y1="0" x2="1" y2="0"><stop offset="0.0000" stop-color="#f5f5ff"/><stop offset="0.0035" stop-color="#f9f9ff"/><stop offset="0.0694" stop-color="#ffdddd"/><stop offset="0.1285" stop-color="#ffb5b5"/><stop offset="0.1899" stop-color="#ff8d8d"/><stop offset="0.2500" stop-color="#ff5959"/><stop offset="0.2986" stop-color="#ff2d2d"/><stop offset="0.3701" stop-color="#f80000"/><stop offset="0.4306" stop-color="#e30000"/><stop offset="0.4906" stop-color="#ce0000"/><stop offset="0.5507" stop-color="#ba0000"/><stop offset="0.5809" stop-color="#ac0000"/><stop offset="0.7083" stop-color="#800000"/><stop offset="0.8819" stop-color="#800000"/><stop offset="1.0000" stop-color="#800000"/></linearGradient>
<linearGradient id="g265" x1="0" y1="0" x2="1" y2="0"><stop offset="0.0000" stop-color="#f5f5ff"/><stop offset="0.0035" stop-color="#f9f9ff"/><stop offset="0.0694" stop-color="#ffdddd"/><stop offset="0.1285" stop-color="#ffb9b9"/><stop offset="0.1899" stop-color="#ff9191"/><stop offset="0.2500" stop-color="#ff5959"/><stop offset="0.2986" stop-color="#ff3131"/><stop offset="0.3701" stop-color="#fa0000"/><stop offset="0.4306" stop-color="#e30000"/><stop offset="0.4906" stop-color="#d00000"/><stop offset="0.5507" stop-color="#ba0000"/><stop offset="0.5809" stop-color="#ae0000"/><stop offset="0.7083" stop-color="#800000"/><stop offset="0.8819" stop-color="#800000"/><stop offset="1.0000" stop-color="#800000"/></linearGradient>
<linearGradient id="g266" x1="0" y1="0" x2="1" y2="0"><stop offset="0.0000" stop-color="#f5f5ff"/><stop offset="0.0035" stop-color="#f9f9ff"/><stop offset="0.0694" stop-color="#ffdddd"/><stop offset="0.1285" stop-color="#ffb9b9"/><stop offset="0.1899" stop-color="#ff9191"/><stop offset="0.2500" stop-color="#ff5d5d"/><stop offset="0.2986" stop-color="#ff3131"/><stop offset="0.3701" stop-color="#fa0000"/><stop offset="0.4306" stop-color="#e60000"/><stop offset="0.4906" stop-color="#d20000"/><stop offset="0.5507" stop-color="#bc0000"/><stop offset="0.5809" stop-color="#b00000"/><stop offset="0.7083" stop-color="#800000"/><stop offset="0.8819" stop-color="#800000"/><stop offset="1.0000" stop-color="#800000"/></linearGradient>
<linearGradient id="g267" x1="0" y1="0" x2="1" y2="0"><stop offset="0.0000" stop-color="#f5f5ff"/><stop offset="0.0035" stop-color="#f9f9ff"/><stop offset="0.0694" stop-color="#ffdddd"/><stop offset="0.1285" stop-color="#ffb9b9"/><stop offset="0.1899" stop-color="#ff9595"/><stop offset="0.2500" stop-color="#ff5d5d"/><stop offset="0.2986" stop-color="#ff3535"/><stop offset="0.3701" stop-color="#fa0000"/><stop offset="0.4306" stop-color="#e60000"/><stop offset="0.4906" stop-color="#d20000"/><stop offset="0.5507" stop-color="#be0000"/><stop offset="0.5809" stop-color="#b00000"/><stop offset="0.7083" stop-color="#800000"/><stop offset="0.8819" stop-color="#800000"/><stop offset="1.0000" stop-color="#800000"/></linearGradient>
<linearGradient id="g268" x1="0" y1="0" x2="1" y2="0"><stop offset="0.0000" stop-color="#f5f5ff"/><stop offset="0.0035" stop-color="#f9f9ff"/><stop offset="0.0694" stop-color="#ffdddd"/><stop offset="0.1285" stop-color="#ffb9b9"/><stop offset="0.1899" stop-color="#ff9595"/><stop offset="0.2500" stop-color="#ff6161"/><stop offset="0.2986" stop-color="#ff3535"/><stop offset="0.3701" stop-color="#fc0000"/><stop offset="0.4306" stop-color="#e80000"/><stop offset="0.4906" stop-color="#d30000"/><stop offset="0.5507" stop-color="#be0000"/><stop offset="0.5809" stop-color="#b20000"/><stop offset="0.7083" stop-color="#800000"/><stop offset="0.8819" stop-color="#800000"/><stop offset="1.0000" stop-color="#800000"/></linearGradient>
<linearGradient id="g269" x1="0" y1="0" x2="1" y2="0"><stop offset="0.0000" stop-color="#f5f5ff"/><stop offset="0.0035" stop-color="#f9f9ff"/><stop offset="0.0694" stop-color="#ffdddd"/><stop offset="0.1285" stop-color="#ffbdbd"/><stop offset="0.1899" stop-color="#ff9595"/><stop offset="0.2500" stop-color="#ff6161"/><stop offset="0.2986" stop-color="#ff3535"/><stop offset="0.3701" stop-color="#fc0000"/><stop offset="0.4306" stop-color="#e80000"/><stop offset="0.4906" stop-color="#d30000"/><stop offset="0.5507" stop-color="#c00000"/><stop offset="0.5809" stop-color="#b30000"/><stop offset="0.7083" stop-color="#800000"/><stop offset="0.8819" stop-color="#800000"/><stop offset="1.0000" stop-color="#800000"/></linearGradient>
<linearGradient id="g270" x1="0" y1="0" x2="1" y2="0"><stop offset="0.0000" stop-color="#ededff"/><stop offset="0.0035" stop-color="#f1f1ff"/><stop offset="0.0694" stop-color="#ffeded"/><stop offset="0.1285" stop-color="#ffd1d1"/><stop offset="0.1899" stop-color="#ffb5b5"/><stop offset="0.2500" stop-color="#ff8181"/><stop offset="0.2986" stop-color="#ff5959"/><stop offset="0.3701" stop-color="#ff1d1d"/><stop offset="0.4306" stop-color="#fa0000"/><stop offset="0.4906" stop-color="#e30000"/><stop offset="0.5507" stop-color="#ce0000"/><stop offset="0.5809" stop-color="#c00000"/><stop offset="0.7083" stop-color="#860000"/><stop offset="0.8819" stop-color="#800000"/><stop offset="1.0000" stop-color="#800000"/></linearGradient>
<linearGradient id="g271" x1="0" y1="0" x2="1" y2="0"><stop offset="0.0000" stop-color="#e9e9ff"/><stop offset="0.0035" stop-color="#ededff"/><stop offset="0.0694" stop-color="#fff5f5"/><stop offset="0.1285" stop-color="#ffd9d9"/><stop offset="0.1899" stop-color="#ffbdbd"/><stop offset="0.2500" stop-color="#ff8d8d"/><stop offset="0.2986" stop-color="#ff6565"/><stop offset="0.3701" stop-color="#ff2d2d"/><stop offset="0.4306" stop-color="#ff0101"/><stop offset="0.4906" stop-color="#ec0000"/><stop offset="0.5507" stop-color="#d30000"/><stop offset="0.5809" stop-color="#c60000"/><stop offset="0.7083" stop-color="#8a0000"/><stop offset="0.8819" stop-color="#800000"/><stop offset="1.0000" stop-color="#800000"/></linearGradient>
<linearGradient id="g272" x1="0" y1="0" x2="1" y2="0"><stop offset="0.0000" stop-color="#e9e9ff"/><stop offset="0.0035" stop-color="#e9e9ff"/><stop offset="0.0694" stop-color="#fff5f5"/><stop offset="0.1285" stop-color="#ffd9d9"/><stop offset="0.1899" stop-color="#ffbdbd"/><stop offset="0.2500" stop-color="#ff8d8d"/><stop offset="0.2986" stop-color="#ff6565"/><stop offset="0.3701" stop-color="#ff2d2d"/><stop offset="0.4306" stop-color="#ff0101"/><stop offset="0.4906" stop-color="#ec0000"/><stop offset="0.5507" stop-color="#d60000"/><stop offset="0.5809" stop-color="#c80000"/><stop offset="0.7083" stop-color="#8c0000"/><stop offset="0.8819" stop-color="#800000"/><stop offset="1.0000" stop-color="#800000"/></linearGradient>
<linearGradient id="g273" x1="0" y1="0" x2="1" y2="0"><stop offset="0.0000" stop-color="#e5e5ff"/><stop offset="0.0035" stop-color="#e9e9ff"/><stop offset="0.0694" stop-color="#fff5f5"/><stop offset="0.1285" stop-color="#ffd9d9"/><stop offset="0.1899" stop-color="#ffbdbd"/><stop offset="0.2500" stop-color="#ff8d8d"/><stop offset="0.2986" stop-color="#ff6565"/><stop offset="0.3701" stop-color="#ff2d2d"/><stop offset="0.4306" stop-color="#ff0505"/><stop offset="0.4906" stop-color="#ee0000"/><stop offset="0.5507" stop-color="#d80000"/><stop offset="0.5809" stop-color="#ca0000"/><stop offset="0.7083" stop-color="#8e0000"/><stop offset="0.8819" stop-color="#800000"/><stop offset="1.0000" stop-color="#800000"/></linearGradient>
<linearGradient id="g274" x1="0" y1="0" x2="1" y2="0"><stop offset="0.0000" stop-color="#e5e5ff"/><stop offset="0.0035" stop-color="#e5e5ff"/><stop offset="0.0694" stop-color="#fff9f9"/><stop offset="0.1285" stop-color="#ffd9d9"/><stop offset="0.1899" stop-color="#ffb9b9"/><stop offset="0.2500" stop-color="#ff8989"/><stop offset="0.2986" stop-color="#ff6565"/><stop offset="0.3701" stop-color="#ff2d2d"/><stop offset="0.4306" stop-color="#ff0505"/><stop offset="0.4906" stop-color="#ee0000"/><stop offset="0.5507" stop-color="#d80000"/><stop offset="0.5809" stop-color="#cc0000"/><stop offset="0.7083" stop-color="#900000"/><stop offset="0.8819" stop-color="#800000"/><stop offset="1.0000" stop-color="#800000"/></linearGradient>
<linearGradient id="g275" x1="0" y1="0" x2="1" y2="0"><stop offset="0.0000" stop-color="#e5e5ff"/><stop offset="0.0035" stop-color="#e5e5ff"/><stop offset="0.0694" stop-color="#fff9f9"/><stop offset="0.1285" stop-color="#ffd9d9"/><stop offset="0.1899" stop-color="#ffb9b9"/><stop offset="0.2500" stop-color="#ff8989"/><stop offset="0.2986" stop-color="#ff6565"/><stop offset="0.3701" stop-color="#ff2d2d"/><stop offset="0.4306" stop-color="#ff0505"/><stop offset="0.4906" stop-color="#f00000"/><stop offset="0.5507" stop-color="#da0000"/><stop offset="0.5809" stop-color="#cc0000"/><stop offset="0.7083" stop-color="#920000"/><stop offset="0.8819" stop-color="#800000"/><stop offset="1.0000" stop-color="#800000"/></linearGradient>
<linearGradient id="g276" x1="0" y1="0" x2="1" y2="0"><stop offset="0.0000" stop-color="#e1e1ff"/><stop offset="0.0035" stop-color="#e5e5ff"/><stop offset="0.0694" stop-color="#fff9f9"/><stop offset="0.1285" stop-color="#ffd9d9"/><stop offset="0.1899" stop-color="#ffb9b9"/><stop offset="0.2500" stop-color="#ff8989"/><stop offset="0.2986" stop-color="#ff6565"/><stop offset="0.3701" stop-color="#ff2d2d"/><stop offset="0.4306" stop-color="#ff0909"/><stop offset="0.4906" stop-color="#f00000"/><stop offset="0.5507" stop-color="#dc0000"/><stop offset="0.5809" stop-color="#ce0000"/><stop offset="0.7083" stop-color="#930000"/><stop offset="0.8819" stop-color="#800000"/><stop offset="1.0000" stop-color="#800000"/></linearGradient>
<linearGradient id="g277" x1="0" y1="0" x2="1" y2="0"><stop offset="0.0000" stop-color="#e1e1ff"/><stop offset="0.0035" stop-color="#e1e1ff"/><stop offset="0.0694" stop-color="#fffdfd"/><stop offset="0.1285" stop-color="#ffd9d9"/><stop offset="0.1899" stop-color="#ffb5b5"/><stop offset="0.2500" stop-color="#ff8989"/><stop offset="0.2986" stop-color="#ff6161"/><stop offset="0.3701" stop-color="#ff2d2d"/><stop offset="0.4306" stop-color="#ff0909"/><stop offset="0.4906" stop-color="#f20000"/><stop offset="0.5507" stop-color="#de0000"/><stop offset="0.5809" stop-color="#d00000"/><stop offset="0.7083" stop-color="#960000"/><stop offset="0.8819" stop-color="#800000"/><stop offset="1.0000" stop-color="#800000"/></linearGradient>
<linearGradient id="g278" x1="0" y1="0" x2="1" y2="0"><stop offset="0.0000" stop-color="#e1e1ff"/><stop offset="0.0035" stop-color="#e1e1ff"/><stop offset="0.0694" stop-color="#fffdfd"/><stop offset="0.1285" stop-color="#ffd9d9"/><stop offset="0.1899" stop-color="#ffb5b5"/><stop offset="0.2500" stop-color="#ff8989"/><stop offset="0.2986" stop-color="#ff6565"/><stop offset="0.3701" stop-color="#ff2d2d"/><stop offset="0.4306" stop-color="#ff0d0d"/><stop offset="0.4906" stop-color="#f40000"/><stop offset="0.5507" stop-color="#e00000"/><stop offset="0.5809" stop-color="#d20000"/><stop offset="0.7083" stop-color="#9c0000"/><stop offset="0.8819" stop-color="#820000"/><stop offset="1.0000" stop-color="#800000"/></linearGradient>
<linearGradient id="g279" x1="0" y1="0" x2="1" y2="0"><stop offset="0.0000" stop-color="#ededff"/><stop offset="0.0035" stop-color="#ededff"/><stop offset="0.0694" stop-color="#fff5f5"/><stop offset="0.1285" stop-color="#ffd9d9"/><stop offset="0.1899" stop-color="#ffb9b9"/><stop offset="0.2500" stop-color="#ff8d8d"/><stop offset="0.2986" stop-color="#ff6d6d"/><stop offset="0.3701" stop-color="#ff3d3d"/><stop offset="0.4306" stop-color="#ff1919"/><stop offset="0.4906" stop-color="#fa0000"/><stop offset="0.5507" stop-color="#e80000"/><stop offset="0.5809" stop-color="#dc0000"/><stop offset="0.7083" stop-color="#ac0000"/><stop offset="0.8819" stop-color="#8e0000"/><stop offset="1.0000" stop-color="#860000"/></linearGradient>
<linearGradient id="g280" x1="0" y1="0" x2="1" y2="0"><stop offset="0.0000" stop-color="#f5f5ff"/><stop offset="0.0035" stop-color="#f5f5ff"/><stop offset="0.0694" stop-color="#fff1f1"/><stop offset="0.1285" stop-color="#ffd9d9"/><stop offset="0.1899" stop-color="#ffbdbd"/><stop offset="0.2500" stop-color="#ff9595"/><stop offset="0.2986" stop-color="#ff7575"/><stop offset="0.3701" stop-color="#ff4949"/><stop offset="0.4306" stop-color="#ff2525"/><stop offset="0.4906" stop-color="#ff0505"/><stop offset="0.5507" stop-color="#f00000"/><stop offset="0.5809" stop-color="#e60000"/><stop offset="0.7083" stop-color="#be0000"/><stop offset="0.8819" stop-color="#9a0000"/><stop offset="1.0000" stop-color="#8c0000"/></linearGradient>
<linearGradient id="g281" x1="0" y1="0" x2="1" y2="0"><stop offset="0.0000" stop-color="#fdfdff"/><stop offset="0.0035" stop-color="#fdfdff"/><stop offset="0.0694" stop-color="#ffeded"/><stop offset="0.1285" stop-color="#ffd5d5"/><stop offset="0.1899" stop-color="#ffc1c1"/><stop offset="0.2500" stop-color="#ff9d9d"/><stop offset="0.2986" stop-color="#ff7d7d"/><stop offset="0.3701" stop-color="#ff5555"/><stop offset="0.4306" stop-color="#ff3535"/><stop offset="0.4906" stop-color="#ff1515"/><stop offset="0.5507" stop-color="#fa0000"/><stop offset="0.5809" stop-color="#f20000"/><stop offset="0.7083" stop-color="#ce0000"/><stop offset="0.8819" stop-color="#a60000"/><stop offset="1.0000" stop-color="#920000"/></linearGradient>
<linearGradient id="g282" x1="0" y1="0" x2="1" y2="0"><stop offset="0.0000" stop-color="#fffdfd"/><stop offset="0.0035" stop-color="#fffdfd"/><stop offset="0.0694" stop-color="#ffeded"/><stop offset="0.1285" stop-color="#ffd9d9"/><stop offset="0.1899" stop-color="#ffc5c5"/><stop offset="0.2500" stop-color="#ffa9a9"/><stop offset="0.2986" stop-color="#ff8d8d"/><stop offset="0.3701" stop-color="#ff6969"/><stop offset="0.4306" stop-color="#ff4d4d"/><stop offset="0.4906" stop-color="#ff2d2d"/><stop offset="0.5507" stop-color="#ff1111"/><stop offset="0.5809" stop-color="#ff0101"/><stop offset="0.7083" stop-color="#de0000"/><stop offset="0.8819" stop-color="#b80000"/><stop offset="1.0000" stop-color="#a20000"/></linearGradient>
<linearGradient id="g283" x1="0" y1="0" x2="1" y2="0"><stop offset="0.0000" stop-color="#fffdfd"/><stop offset="0.0035" stop-color="#fffdfd"/><stop offset="0.0694" stop-color="#fff1f1"/><stop offset="0.1285" stop-color="#ffe1e1"/><stop offset="0.1899" stop-color="#ffcdcd"/><stop offset="0.2500" stop-color="#ffb5b5"/><stop offset="0.2986" stop-color="#ffa1a1"/><stop offset="0.3701" stop-color="#ff8181"/><stop offset="0.4306" stop-color="#ff6565"/><stop offset="0.4906" stop-color="#ff4949"/><stop offset="0.5507" stop-color="#ff2d2d"/><stop offset="0.5809" stop-color="#ff1d1d"/><stop offset="0.7083" stop-color="#ee0000"/><stop offset="0.8819" stop-color="#cc0000"/><stop offset="1.0000" stop-color="#b30000"/></linearGradient>
<linearGradient id="g284" x1="0" y1="0" x2="1" y2="0"><stop offset="0.0000" stop-color="#fffdfd"/><stop offset="0.0035" stop-color="#fffdfd"/><stop offset="0.0694" stop-color="#fff1f1"/><stop offset="0.1285" stop-color="#ffe5e5"/><stop offset="0.1899" stop-color="#ffd5d5"/><stop offset="0.2500" stop-color="#ffc1c1"/><stop offset="0.2986" stop-color="#ffb1b1"/><stop offset="0.3701" stop-color="#ff9999"/><stop offset="0.4306" stop-color="#ff8181"/><stop offset="0.4906" stop-color="#ff6565"/><stop offset="0.5507" stop-color="#ff4949"/><stop offset="0.5809" stop-color="#ff3d3d"/><stop offset="0.7083" stop-color="#fc0000"/><stop offset="0.8819" stop-color="#e00000"/><stop offset="1.0000" stop-color="#c60000"/></linearGradient>
<linearGradient id="g285" x1="0" y1="0" x2="1" y2="0"><stop offset="0.0000" stop-color="#fffdfd"/><stop offset="0.0035" stop-color="#fffdfd"/><stop offset="0.0694" stop-color="#fff5f5"/><stop offset="0.1285" stop-color="#ffe9e9"/><stop offset="0.1899" stop-color="#ffdddd"/><stop offset="0.2500" stop-color="#ffcdcd"/><stop offset="0.2986" stop-color="#ffc5c5"/><stop offset="0.3701" stop-color="#ffb1b1"/><stop offset="0.4306" stop-color="#ff9999"/><stop offset="0.4906" stop-color="#ff8181"/><stop offset="0.5507" stop-color="#ff6969"/><stop offset="0.5809" stop-color="#ff5959"/><stop offset="0.7083" stop-color="#ff1919"/><stop offset="0.8819" stop-color="#f40000"/><stop offset="1.0000" stop-color="#d80000"/></linearGradient>
<linearGradient id="g286" x1="0" y1="0" x2="1" y2="0"><stop offset="0.0000" stop-color="#fffdfd"/><stop offset="0.0035" stop-color="#fffdfd"/><stop offset="0.0694" stop-color="#fff5f5"/><stop offset="0.1285" stop-color="#ffe9e9"/><stop offset="0.1899" stop-color="#ffe1e1"/><stop offset="0.2500" stop-color="#ffd5d5"/><stop offset="0.2986" stop-color="#ffcdcd"/><stop offset="0.3701" stop-color="#ffbdbd"/><stop offset="0.4306" stop-color="#ffa5a5"/><stop offset="0.4906" stop-color="#ff9191"/><stop offset="0.5507" stop-color="#ff7575"/><stop offset="0.5809" stop-color="#ff6969"/><stop offset="0.7083" stop-color="#ff2929"/><stop offset="0.8819" stop-color="#fe0000"/><stop offset="1.0000" stop-color="#e00000"/></linearGradient>
<filter id="f287" filterUnits="userSpaceOnUse" x="1229.0" y="1740" width="634.0" height="271.5"><feGaussianBlur stdDeviation="0.3 1.8"/></filter>
<linearGradient id="g288" x1="0" y1="0" x2="1" y2="0"><stop offset="0.0000" stop-color="#800000"/><stop offset="0.1865" stop-color="#800000"/><stop offset="0.3667" stop-color="#800000"/><stop offset="0.5472" stop-color="#bc0000"/><stop offset="0.7278" stop-color="#fe0000"/><stop offset="0.9083" stop-color="#ffa1a1"/><stop offset="1.0000" stop-color="#fffdfd"/></linearGradient>
<linearGradient id="g289" x1="0" y1="0" x2="1" y2="0"><stop offset="0.0000" stop-color="#800000"/><stop offset="0.1865" stop-color="#800000"/><stop offset="0.3667" stop-color="#800000"/><stop offset="0.5472" stop-color="#ae0000"/><stop offset="0.7278" stop-color="#fe0000"/><stop offset="0.9083" stop-color="#ffadad"/><stop offset="1.0000" stop-color="#fffdfd"/></linearGradient>
<linearGradient id="g290" x1="0" y1="0" x2="1" y2="0"><stop offset="0.0000" stop-color="#800000"/><stop offset="0.1865" stop-color="#800000"/><stop offset="0.3667" stop-color="#800000"/><stop offset="0.5472" stop-color="#9e0000"/><stop offset="0.7278" stop-color="#fe0000"/><stop offset="0.9083" stop-color="#ffadad"/><stop offset="1.0000" stop-color="#fffdfd"/></linearGradient>
<linearGradient id="g291" x1="0" y1="0" x2="1" y2="0"><stop offset="0.0000" stop-color="#800000"/><stop offset="0.1865" stop-color="#800000"/><stop offset="0.3667" stop-color="#800000"/><stop offset="0.5472" stop-color="#b20000"/><stop offset="0.7278" stop-color="#ff0909"/><stop offset="0.9083" stop-color="#ffc1c1"/><stop offset="1.0000" stop-color="#f5f5ff"/></linearGradient>
<linearGradient id="g292" x1="0" y1="0" x2="1" y2="0"><stop offset="0.0000" stop-color="#800000"/><stop offset="0.1865" stop-color="#800000"/><stop offset="0.3667" stop-color="#8e0000"/><stop offset="0.5472" stop-color="#e60000"/><stop offset="0.7278" stop-color="#ff3d3d"/><stop offset="0.9083" stop-color="#ffcdcd"/><stop offset="1.0000" stop-color="#d5d5ff"/></linearGradient>
<linearGradient id="g293" x1="0" y1="0" x2="1" y2="0"><stop offset="0.0000" stop-color="#800000"/><stop offset="0.1865" stop-color="#930000"/><stop offset="0.3667" stop-color="#dc0000"/><stop offset="0.5472" stop-color="#ff1d1d"/><stop offset="0.7278" stop-color="#ff8585"/><stop offset="0.9083" stop-color="#ffe1e1"/><stop offset="1.0000" stop-color="#cdcdff"/></linearGradient>
<linearGradient id="g294" x1="0" y1="0" x2="1" y2="0"><stop offset="0.0000" stop-color="#fe0000"/><stop offset="0.1865" stop-color="#fe0000"/><stop offset="0.3667" stop-color="#ff1d1d"/><stop offset="0.5472" stop-color="#ff7171"/><stop offset="0.7278" stop-color="#ffb9b9"/><stop offset="0.9083" stop-color="#ffe9e9"/><stop offset="1.0000" stop-color="#fffdfd"/></linearGradient>
<linearGradient id="g295" x1="0" y1="0" x2="1" y2="0"><stop offset="0.0000" stop-color="#ff3d3d"/><stop offset="0.1865" stop-color="#ff5151"/><stop offset="0.3667" stop-color="#ff7d7d"/><stop offset="0.5472" stop-color="#ffadad"/><stop offset="0.7278" stop-color="#ffcdcd"/><stop offset="0.9083" stop-color="#fff5f5"/><stop offset="1.0000" stop-color="#fffdfd"/></linearGradient>
<linearGradient id="g296" x1="0" y1="0" x2="1" y2="0"><stop offset="0.0000" stop-color="#ff5d5d"/><stop offset="0.1865" stop-color="#ff9999"/><stop offset="0.3667" stop-color="#ffcdcd"/><stop offset="0.5472" stop-color="#ffe9e9"/><stop offset="0.7278" stop-color="#fffdfd"/><stop offset="0.9083" stop-color="#e9e9ff"/><stop offset="1.0000" stop-color="#e9e9ff"/></linearGradient>
<linearGradient id="g297" x1="0" y1="0" x2="1" y2="0"><stop offset="0.0000" stop-color="#ff3d3d"/><stop offset="0.1865" stop-color="#ff5151"/><stop offset="0.3667" stop-color="#ffadad"/><stop offset="0.5472" stop-color="#ffd5d5"/><stop offset="0.7278" stop-color="#fff5f5"/><stop offset="0.9083" stop-color="#fffdfd"/><stop offset="1.0000" stop-color="#fffdfd"/></linearGradient>
<linearGradient id="g298" x1="0" y1="0" x2="1" y2="0"><stop offset="0.0000" stop-color="#ffadad"/><stop offset="0.1865" stop-color="#ffb9b9"/><stop offset="0.3667" stop-color="#ffcdcd"/><stop offset="0.5472" stop-color="#ffd5d5"/><stop offset="0.7278" stop-color="#ffe1e1"/><stop offset="0.9083" stop-color="#ffd5d5"/><stop offset="1.0000" stop-color="#ffd5d5"/></linearGradient>
<linearGradient id="g299" x1="0" y1="0" x2="1" y2="0"><stop offset="0.0000" stop-color="#ff9d9d"/><stop offset="0.1865" stop-color="#ff9d9d"/><stop offset="0.3667" stop-color="#ffa1a1"/><stop offset="0.5472" stop-color="#ffc1c1"/><stop offset="0.7278" stop-color="#ffe1e1"/><stop offset="0.9083" stop-color="#fff5f5"/><stop offset="1.0000" stop-color="#fffdfd"/></linearGradient>
<linearGradient id="g300" x1="0" y1="0" x2="1" y2="0"><stop offset="0.0000" stop-color="#e9e9ff"/><stop offset="0.1865" stop-color="#fff5f5"/><stop offset="0.3667" stop-color="#fff5f5"/><stop offset="0.5472" stop-color="#fffdfd"/><stop offset="0.7278" stop-color="#fffdfd"/><stop offset="0.9083" stop-color="#fffdfd"/><stop offset="1.0000" stop-color="#fffdfd"/></linearGradient>
<linearGradient id="g301" x1="0" y1="0" x2="1" y2="0"><stop offset="0.0000" stop-color="#ff1d1d"/><stop offset="0.1865" stop-color="#ff4545"/><stop offset="0.3667" stop-color="#ff7d7d"/><stop offset="0.5472" stop-color="#ffc1c1"/><stop offset="0.7278" stop-color="#ffd5d5"/><stop offset="0.9083" stop-color="#ffe1e1"/><stop offset="1.0000" stop-color="#ffe1e1"/></linearGradient>
<linearGradient id="g302" x1="0" y1="0" x2="1" y2="0"><stop offset="0.0000" stop-color="#ffadad"/><stop offset="0.1865" stop-color="#ffb9b9"/><stop offset="0.3667" stop-color="#ffc1c1"/><stop offset="0.5472" stop-color="#ffc1c1"/><stop offset="0.7278" stop-color="#ffa1a1"/><stop offset="0.9083" stop-color="#ff8d8d"/><stop offset="1.0000" stop-color="#ffa1a1"/></linearGradient>
<linearGradient id="g303" x1="0" y1="0" x2="1" y2="0"><stop offset="0.0000" stop-color="#ffc1c1"/><stop offset="0.1865" stop-color="#ffc1c1"/><stop offset="0.3667" stop-color="#ffc1c1"/><stop offset="0.5472" stop-color="#ffe1e1"/><stop offset="0.7278" stop-color="#fffdfd"/><stop offset="0.9083" stop-color="#e9e9ff"/><stop offset="1.0000" stop-color="#e1e1ff"/></linearGradient>
<linearGradient id="g304" x1="0" y1="0" x2="1" y2="0"><stop offset="0.0000" stop-color="#ff8585"/><stop offset="0.1865" stop-color="#ffa1a1"/><stop offset="0.3667" stop-color="#ffc1c1"/><stop offset="0.5472" stop-color="#ffe9e9"/><stop offset="0.7278" stop-color="#e9e9ff"/><stop offset="0.9083" stop-color="#d5d5ff"/><stop offset="1.0000" stop-color="#d5d5ff"/></linearGradient>
<linearGradient id="g305" x1="0" y1="0" x2="1" y2="0"><stop offset="0.0000" stop-color="#ffadad"/><stop offset="0.1865" stop-color="#ffadad"/><stop offset="0.3667" stop-color="#ffadad"/><stop offset="0.5472" stop-color="#ffadad"/><stop offset="0.7278" stop-color="#ffb9b9"/><stop offset="0.9083" stop-color="#ffcdcd"/><stop offset="1.0000" stop-color="#ffd5d5"/></linearGradient>
<linearGradient id="g306" x1="0" y1="0" x2="1" y2="0"><stop offset="0.0000" stop-color="#ff8d8d"/><stop offset="0.1865" stop-color="#ffc1c1"/><stop offset="0.3667" stop-color="#ffe9e9"/><stop offset="0.5472" stop-color="#fffdfd"/><stop offset="0.7278" stop-color="#e9e9ff"/><stop offset="0.9083" stop-color="#e1e1ff"/><stop offset="1.0000" stop-color="#e9e9ff"/></linearGradient>
<linearGradient id="g307" x1="0" y1="0" x2="1" y2="0"><stop offset="0.0000" stop-color="#ffc1c1"/><stop offset="0.1865" stop-color="#ffc1c1"/><stop offset="0.3667" stop-color="#ffc1c1"/><stop offset="0.5472" stop-color="#ffc1c1"/><stop offset="0.7278" stop-color="#ff9999"/><stop offset="0.9083" stop-color="#ff9999"/><stop offset="1.0000" stop-color="#ffcdcd"/></linearGradient>
<linearGradient id="g308" x1="0" y1="0" x2="1" y2="0"><stop offset="0.0000" stop-color="#c1c1ff"/><stop offset="0.1865" stop-color="#c1c1ff"/><stop offset="0.3667" stop-color="#c1c1ff"/><stop offset="0.5472" stop-color="#c1c1ff"/><stop offset="0.7278" stop-color="#c1c1ff"/><stop offset="0.9083" stop-color="#d5d5ff"/><stop offset="1.0000" stop-color="#e1e1ff"/></linearGradient>
<linearGradient id="g309" x1="0" y1="0" x2="1" y2="0"><stop offset="0.0000" stop-color="#ff1d1d"/><stop offset="0.1865" stop-color="#ff5d5d"/><stop offset="0.3667" stop-color="#ffa1a1"/><stop offset="0.5472" stop-color="#ffc1c1"/><stop offset="0.7278" stop-color="#ffd5d5"/><stop offset="0.9083" stop-color="#ffe1e1"/><stop offset="1.0000" stop-color="#ffe9e9"/></linearGradient>
<linearGradient id="g310" x1="0" y1="0" x2="1" y2="0"><stop offset="0.0000" stop-color="#e9e9ff"/><stop offset="0.1865" stop-color="#fffdfd"/><stop offset="0.3667" stop-color="#fffdfd"/><stop offset="0.5472" stop-color="#fffdfd"/><stop offset="0.7278" stop-color="#f5f5ff"/><stop offset="0.9083" stop-color="#f5f5ff"/><stop offset="1.0000" stop-color="#fffdfd"/></linearGradient>
<linearGradient id="g311" x1="0" y1="0" x2="1" y2="0"><stop offset="0.0000" stop-color="#ffe1e1"/><stop offset="0.1865" stop-color="#fff5f5"/><stop offset="0.3667" stop-color="#f5f5ff"/><stop offset="0.5472" stop-color="#e9e9ff"/><stop offset="0.7278" stop-color="#fff5f5"/><stop offset="0.9083" stop-color="#ffe9e9"/><stop offset="1.0000" stop-color="#fff5f5"/></linearGradient>
<linearGradient id="g312" x1="0" y1="0" x2="1" y2="0"><stop offset="0.0000" stop-color="#e9e9ff"/><stop offset="0.1865" stop-color="#d5d5ff"/><stop offset="0.3667" stop-color="#d5d5ff"/><stop offset="0.5472" stop-color="#d5d5ff"/><stop offset="0.7278" stop-color="#d5d5ff"/><stop offset="0.9083" stop-color="#e1e1ff"/><stop offset="1.0000" stop-color="#e9e9ff"/></linearGradient>
<linearGradient id="g313" x1="0" y1="0" x2="1" y2="0"><stop offset="0.0000" stop-color="#ffc1c1"/><stop offset="0.1865" stop-color="#ffcdcd"/><stop offset="0.3667" stop-color="#ffe1e1"/><stop offset="0.5472" stop-color="#ffe9e9"/><stop offset="0.7278" stop-color="#fff5f5"/><stop offset="0.9083" stop-color="#fff5f5"/><stop offset="1.0000" stop-color="#fff5f5"/></linearGradient>
<linearGradient id="g314" x1="0" y1="0" x2="1" y2="0"><stop offset="0.0000" stop-color="#e9e9ff"/><stop offset="0.1865" stop-color="#d5d5ff"/><stop offset="0.3667" stop-color="#d5d5ff"/><stop offset="0.5472" stop-color="#d5d5ff"/><stop offset="0.7278" stop-color="#e1e1ff"/><stop offset="0.9083" stop-color="#e9e9ff"/><stop offset="1.0000" stop-color="#f5f5ff"/></linearGradient>
<linearGradient id="g315" x1="0" y1="0" x2="1" y2="0"><stop offset="0.0000" stop-color="#fff5f5"/><stop offset="0.1865" stop-color="#fffdfd"/><stop offset="0.3667" stop-color="#fffdfd"/><stop offset="0.5472" stop-color="#fffdfd"/><stop offset="0.7278" stop-color="#fffdfd"/><stop offset="0.9083" stop-color="#fffdfd"/><stop offset="1.0000" stop-color="#fffdfd"/></linearGradient>
<linearGradient id="g316" x1="0" y1="0" x2="1" y2="0"><stop offset="0.0000" stop-color="#fffdfd"/><stop offset="0.0139" stop-color="#fff5f5"/><stop offset="0.1875" stop-color="#ff5d5d"/><stop offset="0.3611" stop-color="#e00000"/><stop offset="0.5347" stop-color="#9e0000"/><stop offset="0.7083" stop-color="#800000"/><stop offset="0.8819" stop-color="#800000"/><stop offset="1.0000" stop-color="#800000"/></linearGradient>
<linearGradient id="g317" x1="0" y1="0" x2="1" y2="0"><stop offset="0.0000" stop-color="#fffdfd"/><stop offset="0.0139" stop-color="#fff5f5"/><stop offset="0.1875" stop-color="#ff7979"/><stop offset="0.3611" stop-color="#f00000"/><stop offset="0.5347" stop-color="#b20000"/><stop offset="0.7083" stop-color="#800000"/><stop offset="0.8819" stop-color="#800000"/><stop offset="1.0000" stop-color="#800000"/></linearGradient>
<linearGradient id="g318" x1="0" y1="0" x2="1" y2="0"><stop offset="0.0000" stop-color="#f5f5ff"/><stop offset="0.0139" stop-color="#fffdfd"/><stop offset="0.1875" stop-color="#ff9999"/><stop offset="0.3611" stop-color="#fa0000"/><stop offset="0.5347" stop-color="#c60000"/><stop offset="0.7083" stop-color="#800000"/><stop offset="0.8819" stop-color="#800000"/><stop offset="1.0000" stop-color="#800000"/></linearGradient>
<linearGradient id="g319" x1="0" y1="0" x2="1" y2="0"><stop offset="0.0000" stop-color="#e1e1ff"/><stop offset="0.0139" stop-color="#e9e9ff"/><stop offset="0.1875" stop-color="#ffadad"/><stop offset="0.3611" stop-color="#fe0000"/><stop offset="0.5347" stop-color="#d00000"/><stop offset="0.7083" stop-color="#800000"/><stop offset="0.8819" stop-color="#800000"/><stop offset="1.0000" stop-color="#800000"/></linearGradient>
<linearGradient id="g320" x1="0" y1="0" x2="1" y2="0"><stop offset="0.0000" stop-color="#d5d5ff"/><stop offset="0.0139" stop-color="#d5d5ff"/><stop offset="0.1875" stop-color="#ffadad"/><stop offset="0.3611" stop-color="#ff0909"/><stop offset="0.5347" stop-color="#d60000"/><stop offset="0.7083" stop-color="#8a0000"/><stop offset="0.8819" stop-color="#800000"/><stop offset="1.0000" stop-color="#800000"/></linearGradient>
<linearGradient id="g321" x1="0" y1="0" x2="1" y2="0"><stop offset="0.0000" stop-color="#fffdfd"/><stop offset="0.0139" stop-color="#fffdfd"/><stop offset="0.1875" stop-color="#ffc1c1"/><stop offset="0.3611" stop-color="#ff5d5d"/><stop offset="0.5347" stop-color="#fe0000"/><stop offset="0.7083" stop-color="#d00000"/><stop offset="0.8819" stop-color="#a80000"/><stop offset="1.0000" stop-color="#930000"/></linearGradient>
<linearGradient id="g322" x1="0" y1="0" x2="1" y2="0"><stop offset="0.0000" stop-color="#fffdfd"/><stop offset="0.0139" stop-color="#fffdfd"/><stop offset="0.1875" stop-color="#ffe1e1"/><stop offset="0.3611" stop-color="#ffc1c1"/><stop offset="0.5347" stop-color="#ff7d7d"/><stop offset="0.7083" stop-color="#ff2929"/><stop offset="0.8819" stop-color="#fe0000"/><stop offset="1.0000" stop-color="#e00000"/></linearGradient>
<linearGradient id="g323" x1="0" y1="0" x2="1" y2="0"><stop offset="0.0000" stop-color="#cdcdff"/><stop offset="0.0139" stop-color="#cdcdff"/><stop offset="0.1875" stop-color="#fffdfd"/><stop offset="0.3611" stop-color="#ffe1e1"/><stop offset="0.5347" stop-color="#ffc1c1"/><stop offset="0.7083" stop-color="#ff7d7d"/><stop offset="0.8819" stop-color="#ff5d5d"/><stop offset="1.0000" stop-color="#ff3d3d"/></linearGradient>
<linearGradient id="g324" x1="0" y1="0" x2="1" y2="0"><stop offset="0.0000" stop-color="#fffdfd"/><stop offset="0.0139" stop-color="#fffdfd"/><stop offset="0.1875" stop-color="#ffe1e1"/><stop offset="0.3611" stop-color="#ffc1c1"/><stop offset="0.5347" stop-color="#ffadad"/><stop offset="0.7083" stop-color="#ff5d5d"/><stop offset="0.8819" stop-color="#fe0000"/><stop offset="1.0000" stop-color="#fe0000"/></linearGradient>
<linearGradient id="g325" x1="0" y1="0" x2="1" y2="0"><stop offset="0.0000" stop-color="#ffd1d1"/><stop offset="0.0139" stop-color="#ffd1d1"/><stop offset="0.1875" stop-color="#ffc1c1"/><stop offset="0.3611" stop-color="#ffadad"/><stop offset="0.5347" stop-color="#ff8d8d"/><stop offset="0.7083" stop-color="#ff5d5d"/><stop offset="0.8819" stop-color="#ff3d3d"/><stop offset="1.0000" stop-color="#fe0000"/></linearGradient>
<linearGradient id="g326" x1="0" y1="0" x2="1" y2="0"><stop offset="0.0000" stop-color="#b9b9ff"/><stop offset="0.0139" stop-color="#b9b9ff"/><stop offset="0.1875" stop-color="#d5d5ff"/><stop offset="0.3611" stop-color="#fffdfd"/><stop offset="0.5347" stop-color="#ffd1d1"/><stop offset="0.7083" stop-color="#ffadad"/><stop offset="0.8819" stop-color="#ff7d7d"/><stop offset="1.0000" stop-color="#ff5d5d"/></linearGradient>
<linearGradient id="g327" x1="0" y1="0" x2="1" y2="0"><stop offset="0.0000" stop-color="#fffdfd"/><stop offset="0.0139" stop-color="#fffdfd"/><stop offset="0.1875" stop-color="#fff5f5"/><stop offset="0.3611" stop-color="#fff5f5"/><stop offset="0.5347" stop-color="#ffe9e9"/><stop offset="0.7083" stop-color="#ffe9e9"/><stop offset="0.8819" stop-color="#ffe1e1"/><stop offset="1.0000" stop-color="#ffe1e1"/></linearGradient>
<linearGradient id="g328" x1="0" y1="0" x2="1" y2="0"><stop offset="0.0000" stop-color="#ffd1d1"/><stop offset="0.0139" stop-color="#ffd1d1"/><stop offset="0.1875" stop-color="#ffc1c1"/><stop offset="0.3611" stop-color="#ffd1d1"/><stop offset="0.5347" stop-color="#ffadad"/><stop offset="0.7083" stop-color="#ff8d8d"/><stop offset="0.8819" stop-color="#ff7d7d"/><stop offset="1.0000" stop-color="#ff5d5d"/></linearGradient>
<linearGradient id="g329" x1="0" y1="0" x2="1" y2="0"><stop offset="0.0000" stop-color="#c1c1ff"/><stop offset="0.0139" stop-color="#c1c1ff"/><stop offset="0.1875" stop-color="#b9b9ff"/><stop offset="0.3611" stop-color="#cdcdff"/><stop offset="0.5347" stop-color="#b9b9ff"/><stop offset="0.7083" stop-color="#c1c1ff"/><stop offset="0.8819" stop-color="#cdcdff"/><stop offset="1.0000" stop-color="#adadff"/></linearGradient>
<linearGradient id="g330" x1="0" y1="0" x2="1" y2="0"><stop offset="0.0000" stop-color="#ffe1e1"/><stop offset="0.0139" stop-color="#ffe1e1"/><stop offset="0.1875" stop-color="#ffc1c1"/><stop offset="0.3611" stop-color="#ffc1c1"/><stop offset="0.5347" stop-color="#ffadad"/><stop offset="0.7083" stop-color="#ff8d8d"/><stop offset="0.8819" stop-color="#ff7171"/><stop offset="1.0000" stop-color="#ff5d5d"/></linearGradient>
<linearGradient id="g331" x1="0" y1="0" x2="1" y2="0"><stop offset="0.0000" stop-color="#fffdfd"/><stop offset="0.0139" stop-color="#fffdfd"/><stop offset="0.1875" stop-color="#fffdfd"/><stop offset="0.3611" stop-color="#fffdfd"/><stop offset="0.5347" stop-color="#f5f5ff"/><stop offset="0.7083" stop-color="#e9e9ff"/><stop offset="0.8819" stop-color="#e1e1ff"/><stop offset="1.0000" stop-color="#e1e1ff"/></linearGradient>
<linearGradient id="g332" x1="0" y1="0" x2="1" y2="0"><stop offset="0.0000" stop-color="#ffd1d1"/><stop offset="0.0139" stop-color="#ffd1d1"/><stop offset="0.1875" stop-color="#ffc1c1"/><stop offset="0.3611" stop-color="#ffc1c1"/><stop offset="0.5347" stop-color="#ffc1c1"/><stop offset="0.7083" stop-color="#ffc1c1"/><stop offset="0.8819" stop-color="#ffc1c1"/><stop offset="1.0000" stop-color="#ffc1c1"/></linearGradient>
<linearGradient id="g333" x1="0" y1="0" x2="1" y2="0"><stop offset="0.0000" stop-color="#e1e1ff"/><stop offset="0.0139" stop-color="#e1e1ff"/><stop offset="0.1875" stop-color="#d5d5ff"/><stop offset="0.3611" stop-color="#cdcdff"/><stop offset="0.5347" stop-color="#cdcdff"/><stop offset="0.7083" stop-color="#c1c1ff"/><stop offset="0.8819" stop-color="#c1c1ff"/><stop offset="1.0000" stop-color="#cdcdff"/></linearGradient>
<linearGradient id="g334" x1="0" y1="0" x2="1" y2="0"><stop offset="0.0000" stop-color="#ffd1d1"/><stop offset="0.0139" stop-color="#ffd1d1"/><stop offset="0.1875" stop-color="#ffadad"/><stop offset="0.3611" stop-color="#ff9d9d"/><stop offset="0.5347" stop-color="#ff8d8d"/><stop offset="0.7083" stop-color="#ff8d8d"/><stop offset="0.8819" stop-color="#ff7d7d"/><stop offset="1.0000" stop-color="#ff7d7d"/></linearGradient>
<linearGradient id="g335" x1="0" y1="0" x2="1" y2="0"><stop offset="0.0000" stop-color="#fffdfd"/><stop offset="0.0139" stop-color="#fffdfd"/><stop offset="0.1875" stop-color="#fffdfd"/><stop offset="0.3611" stop-color="#fffdfd"/><stop offset="0.5347" stop-color="#fffdfd"/><stop offset="0.7083" stop-color="#fffdfd"/><stop offset="0.8819" stop-color="#fffdfd"/><stop offset="1.0000" stop-color="#fffdfd"/></linearGradient>
<linearGradient id="g336" x1="0" y1="0" x2="1" y2="0"><stop offset="0.0000" stop-color="#c1c1ff"/><stop offset="0.0139" stop-color="#c1c1ff"/><stop offset="0.1875" stop-color="#c1c1ff"/><stop offset="0.3611" stop-color="#c1c1ff"/><stop offset="0.5347" stop-color="#c1c1ff"/><stop offset="0.7083" stop-color="#c1c1ff"/><stop offset="0.8819" stop-color="#c1c1ff"/><stop offset="1.0000" stop-color="#c1c1ff"/></linearGradient>
<linearGradient id="g337" x1="0" y1="0" x2="1" y2="0"><stop offset="0.0000" stop-color="#ffc1c1"/><stop offset="0.0139" stop-color="#ffc1c1"/><stop offset="0.1875" stop-color="#ffc1c1"/><stop offset="0.3611" stop-color="#ffb9b9"/><stop offset="0.5347" stop-color="#ffadad"/><stop offset="0.7083" stop-color="#ffadad"/><stop offset="0.8819" stop-color="#ffadad"/><stop offset="1.0000" stop-color="#ffadad"/></linearGradient>
<linearGradient id="g338" x1="0" y1="0" x2="1" y2="0"><stop offset="0.0000" stop-color="#e1e1ff"/><stop offset="0.0139" stop-color="#e1e1ff"/><stop offset="0.1875" stop-color="#e1e1ff"/><stop offset="0.3611" stop-color="#e1e1ff"/><stop offset="0.5347" stop-color="#e1e1ff"/><stop offset="0.7083" stop-color="#e1e1ff"/><stop offset="0.8819" stop-color="#e1e1ff"/><stop offset="1.0000" stop-color="#e1e1ff"/></linearGradient>
<linearGradient id="g339" x1="0" y1="0" x2="1" y2="0"><stop offset="0.0000" stop-color="#ffe1e1"/><stop offset="0.0139" stop-color="#ffe1e1"/><stop offset="0.1875" stop-color="#ffe1e1"/><stop offset="0.3611" stop-color="#ffe1e1"/><stop offset="0.5347" stop-color="#ffe1e1"/><stop offset="0.7083" stop-color="#ffe1e1"/><stop offset="0.8819" stop-color="#ffd5d5"/><stop offset="1.0000" stop-color="#ffd5d5"/></linearGradient>
<linearGradient id="g340" x1="0" y1="0" x2="1" y2="0"><stop offset="0.0000" stop-color="#d5d5ff"/><stop offset="0.0139" stop-color="#d5d5ff"/><stop offset="0.1875" stop-color="#d5d5ff"/><stop offset="0.3611" stop-color="#d5d5ff"/><stop offset="0.5347" stop-color="#d5d5ff"/><stop offset="0.7083" stop-color="#d5d5ff"/><stop offset="0.8819" stop-color="#d5d5ff"/><stop offset="1.0000" stop-color="#e1e1ff"/></linearGradient>
<linearGradient id="g341" x1="0" y1="0" x2="1" y2="0"><stop offset="0.0000" stop-color="#ffd5d5"/><stop offset="0.0139" stop-color="#ffd5d5"/><stop offset="0.1875" stop-color="#ffd5d5"/><stop offset="0.3611" stop-color="#ffd5d5"/><stop offset="0.5347" stop-color="#ffd5d5"/><stop offset="0.7083" stop-color="#ffcdcd"/><stop offset="0.8819" stop-color="#ffcdcd"/><stop offset="1.0000" stop-color="#ffcdcd"/></linearGradient>
<linearGradient id="g342" x1="0" y1="0" x2="1" y2="0"><stop offset="0.0000" stop-color="#cdcdff"/><stop offset="0.0139" stop-color="#cdcdff"/><stop offset="0.1875" stop-color="#cdcdff"/><stop offset="0.3611" stop-color="#cdcdff"/><stop offset="0.5347" stop-color="#cdcdff"/><stop offset="0.7083" stop-color="#cdcdff"/><stop offset="0.8819" stop-color="#cdcdff"/><stop offset="1.0000" stop-color="#d5d5ff"/></linearGradient>
<linearGradient id="g343" x1="0" y1="0" x2="1" y2="0"><stop offset="0.0000" stop-color="#fffdfd"/><stop offset="0.0139" stop-color="#fffdfd"/><stop offset="0.1875" stop-color="#fffdfd"/><stop offset="0.3611" stop-color="#fffdfd"/><stop offset="0.5347" stop-color="#fffdfd"/><stop offset="0.7083" stop-color="#fffdfd"/><stop offset="0.8819" stop-color="#fffdfd"/><stop offset="1.0000" stop-color="#fffdfd"/></linearGradient>
<clipPath id="clipBRL"><rect x="1250" y="1752" width="296" height="259.5"/></clipPath>
<clipPath id="clipBRR"><rect x="1546" y="1765" width="300" height="246.5"/></clipPath>
<linearGradient id="g344" x1="0" y1="0" x2="0" y2="1"><stop offset="0.0000" stop-color="#800000"/><stop offset="0.0500" stop-color="#980000"/><stop offset="0.1000" stop-color="#b20000"/><stop offset="0.1500" stop-color="#cc0000"/><stop offset="0.2000" stop-color="#e60000"/><stop offset="0.2500" stop-color="#fe0000"/><stop offset="0.3000" stop-color="#ff3131"/><stop offset="0.3500" stop-color="#ff6565"/><stop offset="0.4000" stop-color="#ff9999"/><stop offset="0.4500" stop-color="#ffcdcd"/><stop offset="0.5000" stop-color="#fffdfd"/><stop offset="0.5500" stop-color="#cdcdff"/><stop offset="0.6000" stop-color="#9999ff"/><stop offset="0.6500" stop-color="#6565ff"/><stop offset="0.7000" stop-color="#3131ff"/><stop offset="0.7500" stop-color="#0101ff"/><stop offset="0.8000" stop-color="#0000db"/><stop offset="0.8500" stop-color="#0000b7"/><stop offset="0.9000" stop-color="#000092"/><stop offset="0.9500" stop-color="#00006e"/><stop offset="1.0000" stop-color="#00004c"/></linearGradient>
</defs>
<rect width="2050" height="2099" fill="#fff"/>
<line x1="218.6" y1="239.7" x2="932.8" y2="239.7" stroke="#000" stroke-width="2.6" stroke-dasharray="1.7 4.08"/>
<line x1="218.6" y1="69.3" x2="932.8" y2="69.3" stroke="#000" stroke-width="2.6" stroke-dasharray="1.7 4.08"/>
<g clip-path="url(#cT)" fill="none" stroke-linejoin="round">
<path d="M277.4,65.6 C279.8,67.2 288.4,73.0 292.1,74.8 C295.7,76.7 296.7,75.6 299.4,76.7 C302.2,77.7 306.0,80.3 308.6,81.2 C311.2,82.2 312.6,81.2 315.0,82.2 C317.5,83.1 321.0,85.8 323.3,86.8 C325.6,87.7 326.4,86.5 328.8,87.7 C331.3,88.9 335.3,93.0 338.0,94.1 C340.8,95.3 342.6,93.8 345.4,94.5 C348.1,95.2 351.8,96.8 354.6,98.2 C357.3,99.5 359.5,100.9 361.9,102.4 C364.4,103.9 366.8,106.5 369.3,107.0 C371.7,107.4 374.2,104.8 376.6,105.1 C379.1,105.5 380.3,106.4 384.0,108.8 C387.6,111.3 395.3,117.6 398.7,119.9 C402.0,122.1 401.7,122.4 404.2,122.1 C406.6,121.8 410.3,117.5 413.4,118.0 C416.4,118.6 418.9,122.6 422.6,125.4 C426.2,128.1 432.1,132.2 435.4,134.6 C438.8,136.9 440.3,139.4 442.8,139.5 C445.2,139.7 448.0,135.7 450.1,135.5 C452.3,135.3 453.8,136.9 455.7,138.2 C457.5,139.6 459.3,142.5 461.2,143.8 C463.0,145.0 463.6,143.7 466.7,145.6 C469.8,147.4 476.2,152.3 479.6,154.8 C482.9,157.2 484.5,159.7 486.9,160.3 C489.4,160.9 492.1,158.0 494.3,158.5 C496.4,158.9 497.6,160.6 499.8,163.1 C501.9,165.5 503.8,169.7 507.1,173.2 C510.5,176.7 516.8,181.2 520.0,184.1 C523.2,187.0 524.2,187.2 526.3,190.4 C528.4,193.6 530.0,197.8 532.6,203.0 C535.2,208.2 539.2,215.6 542.1,221.9 C545.0,228.2 547.6,234.5 550.2,240.8 C552.8,247.2 555.1,252.8 557.8,260.0 C560.5,267.2 564.1,276.3 566.2,283.8 C568.4,291.2 569.6,297.6 570.7,304.7 C571.8,311.9 572.3,318.5 572.9,326.8 C573.6,335.0 574.1,345.2 574.6,354.3 C575.0,363.5 575.4,371.6 575.7,381.9 C575.9,392.2 576.1,410.4 576.2,416.1" stroke="#000000" stroke-width="3.8"/>
<path d="M277.4,65.6 C279.8,66.9 287.2,70.8 292.1,73.0 C297.0,75.1 301.2,76.3 306.8,78.5 C312.3,80.6 319.0,83.5 325.1,85.8 C331.3,88.1 337.4,90.3 343.5,92.3 C349.7,94.3 357.6,96.6 361.9,97.8 C366.2,99.0 367.4,99.2 369.3,99.3 C371.1,99.3 370.5,97.5 372.9,98.2 C375.4,98.8 379.7,101.2 384.0,103.3 C388.3,105.4 395.3,109.3 398.7,110.7 C402.0,112.0 402.7,111.7 404.2,111.6 C405.7,111.4 405.7,109.1 407.9,109.7 C410.0,110.4 413.1,113.3 417.1,115.3 C421.0,117.2 428.1,120.2 431.8,121.7 C435.4,123.2 436.7,124.0 439.1,124.4 C441.6,124.9 444.0,123.8 446.5,124.4 C448.9,125.1 450.8,126.6 453.8,128.1 C456.9,129.7 461.2,131.6 464.9,133.6 C468.5,135.6 472.8,139.0 475.9,140.1 C478.9,141.1 480.8,139.5 483.2,140.1 C485.7,140.7 486.9,141.6 490.6,143.8 C494.3,145.9 501.3,150.6 505.3,152.9 C509.3,155.2 512.0,156.0 514.5,157.5 C516.9,159.0 518.4,160.9 520.0,162.0 C521.6,163.1 522.5,164.1 523.8,164.0 C525.1,163.9 525.1,159.5 527.6,161.4 C530.1,163.3 535.1,170.2 538.9,175.3 C542.7,180.4 546.8,186.0 550.2,191.7 C553.6,197.4 556.2,203.2 559.1,209.3 C562.0,215.4 564.9,221.9 567.3,228.2 C569.7,234.5 571.9,241.8 573.6,247.1 C575.3,252.4 576.3,256.5 577.3,260.0 C578.3,263.5 578.4,262.2 579.9,268.3 C581.4,274.5 584.8,288.2 586.3,297.0 C587.8,305.8 588.2,311.7 588.9,321.3 C589.6,330.8 590.1,343.3 590.6,354.3 C591.0,365.4 591.5,377.1 591.7,387.4 C591.8,397.7 591.7,411.3 591.7,416.1" stroke="#332288" stroke-width="3.8"/>
<path d="M277.4,65.6 C282.3,67.6 298.8,74.5 306.8,77.6 C314.7,80.6 319.0,82.0 325.1,84.0 C331.3,86.0 337.4,87.8 343.5,89.5 C349.7,91.2 357.0,92.9 361.9,94.1 C366.8,95.3 369.3,95.6 372.9,96.9 C376.6,98.1 379.7,99.8 384.0,101.5 C388.3,103.2 394.7,106.0 398.7,107.0 C402.7,108.0 404.8,106.4 407.9,107.4 C410.9,108.3 414.6,111.5 417.1,112.5 C419.5,113.5 419.5,112.5 422.6,113.4 C425.6,114.3 431.5,116.8 435.4,118.0 C439.4,119.2 443.4,119.5 446.5,120.8 C449.5,122.0 451.7,124.6 453.8,125.4 C456.0,126.1 456.9,124.4 459.3,125.4 C461.8,126.3 464.9,129.2 468.5,130.9 C472.2,132.6 477.7,133.9 481.4,135.5 C485.1,137.0 487.5,139.0 490.6,140.1 C493.7,141.1 496.7,140.8 499.8,141.9 C502.8,143.0 505.6,144.8 509.0,146.5 C512.3,148.2 514.0,148.1 520.0,152.0 C526.0,155.9 540.3,167.2 545.2,170.2 C550.1,173.2 547.3,168.4 549.6,170.2 C551.9,172.0 556.2,176.8 559.1,181.0 C562.0,185.2 564.7,189.7 567.3,195.5 C569.9,201.3 572.4,208.6 574.8,215.6 C577.2,222.6 579.8,230.3 581.8,237.7 C583.8,245.1 585.3,253.4 586.8,260.0 C588.3,266.6 589.6,269.7 590.9,277.2 C592.3,284.6 594.1,295.5 595.1,304.7 C596.1,313.9 596.6,322.2 597.2,332.3 C597.7,342.4 598.1,351.4 598.3,365.4 C598.5,379.3 598.5,407.6 598.5,416.1" stroke="#44AA99" stroke-width="3.8"/>
<path d="M277.4,65.6 C285.3,68.4 308.0,77.0 325.1,82.2 C342.3,87.4 361.9,91.8 380.3,96.9 C398.7,101.9 417.1,107.1 435.4,112.5 C453.8,117.9 476.5,124.4 490.6,129.0 C504.7,133.7 510.4,136.4 520.0,140.6 C529.6,144.8 541.0,150.6 548.4,154.5 C555.8,158.4 559.7,160.5 564.1,164.0 C568.5,167.5 571.8,171.3 574.8,175.3 C577.8,179.3 579.6,183.3 581.8,187.9 C584.0,192.5 586.1,197.3 588.1,203.0 C590.1,208.7 592.0,215.6 593.7,221.9 C595.4,228.2 596.8,234.5 598.1,240.8 C599.4,247.2 600.4,254.9 601.3,260.0 C602.2,265.1 602.4,264.2 603.4,271.7 C604.5,279.1 606.4,293.7 607.3,304.7 C608.2,315.8 608.4,325.9 608.7,337.8 C609.1,349.7 609.4,363.3 609.5,376.4 C609.6,389.4 609.5,409.5 609.5,416.1" stroke="#999933" stroke-width="3.8"/>
<path d="M277.4,65.6 C285.3,68.1 308.0,75.9 325.1,80.7 C342.3,85.5 361.9,89.7 380.3,94.7 C398.7,99.6 417.1,104.9 435.4,110.3 C453.8,115.7 473.9,121.7 490.6,126.8 C507.3,132.0 525.1,137.4 535.8,141.3 C546.5,145.2 548.9,146.8 554.7,150.1 C560.5,153.3 565.7,157.0 570.4,160.8 C575.1,164.6 579.5,168.6 583.0,172.8 C586.5,177.0 588.8,181.2 591.2,186.0 C593.6,190.8 595.7,196.3 597.5,201.8 C599.3,207.3 600.5,212.8 601.9,218.8 C603.3,224.8 604.8,231.9 605.7,237.7 C606.7,243.5 607.2,249.7 607.6,253.4 C608.0,257.1 607.7,256.0 608.2,260.0 C608.7,264.0 609.7,268.8 610.5,277.2 C611.3,285.5 612.2,299.2 612.9,310.2 C613.5,321.3 613.9,325.7 614.3,343.3 C614.6,361.0 614.7,403.9 614.8,416.1" stroke="#CC6677" stroke-width="3.8"/>
<path d="M277.4,65.6 C285.3,68.1 308.0,75.6 325.1,80.3 C342.3,85.1 361.9,89.2 380.3,94.1 C398.7,99.0 417.1,104.4 435.4,109.7 C453.8,115.1 473.3,121.0 490.6,126.3 C507.8,131.5 527.7,137.3 538.9,141.3 C550.1,145.3 552.0,146.8 557.8,150.1 C563.6,153.3 568.9,157.2 573.6,160.8 C578.3,164.4 582.7,167.6 586.2,171.5 C589.7,175.4 592.0,179.4 594.4,184.1 C596.8,188.8 598.9,194.7 600.7,199.9 C602.5,205.2 603.8,209.8 605.1,215.6 C606.5,221.4 607.9,229.2 608.8,234.5 C609.7,239.8 610.2,242.8 610.7,247.1 C611.2,251.3 611.5,255.0 612.0,260.0 C612.5,265.0 613.2,268.8 613.9,277.2 C614.6,285.5 615.6,299.2 616.2,310.2 C616.8,321.3 617.2,325.7 617.6,343.3 C617.9,361.0 618.2,403.9 618.3,416.1" stroke="#AA4499" stroke-width="3.8"/>
</g>
<rect x="202.6" y="1.5" width="746.2" height="408.6" fill="none" stroke="#000" stroke-width="2.6"/>
<path d="M217.5,410.1v-4.2M217.5,1.5v4.2M232.4,410.1v-4.2M232.4,1.5v4.2M247.4,410.1v-4.2M247.4,1.5v4.2M262.3,410.1v-4.2M262.3,1.5v4.2M277.2,410.1v-7.7M277.2,1.5v7.7M292.1,410.1v-4.2M292.1,1.5v4.2M307.1,410.1v-4.2M307.1,1.5v4.2M322.0,410.1v-4.2M322.0,1.5v4.2M336.9,410.1v-4.2M336.9,1.5v4.2M351.8,410.1v-4.2M351.8,1.5v4.2M366.8,410.1v-4.2M366.8,1.5v4.2M381.7,410.1v-4.2M381.7,1.5v4.2M396.6,410.1v-4.2M396.6,1.5v4.2M411.5,410.1v-4.2M411.5,1.5v4.2M426.5,410.1v-7.7M426.5,1.5v7.7M441.4,410.1v-4.2M441.4,1.5v4.2M456.3,410.1v-4.2M456.3,1.5v4.2M471.2,410.1v-4.2M471.2,1.5v4.2M486.2,410.1v-4.2M486.2,1.5v4.2M501.1,410.1v-4.2M501.1,1.5v4.2M516.0,410.1v-4.2M516.0,1.5v4.2M530.9,410.1v-4.2M530.9,1.5v4.2M545.9,410.1v-4.2M545.9,1.5v4.2M560.8,410.1v-4.2M560.8,1.5v4.2M575.7,410.1v-7.7M575.7,1.5v7.7M590.6,410.1v-4.2M590.6,1.5v4.2M605.5,410.1v-4.2M605.5,1.5v4.2M620.5,410.1v-4.2M620.5,1.5v4.2M635.4,410.1v-4.2M635.4,1.5v4.2M650.3,410.1v-4.2M650.3,1.5v4.2M665.2,410.1v-4.2M665.2,1.5v4.2M680.2,410.1v-4.2M680.2,1.5v4.2M695.1,410.1v-4.2M695.1,1.5v4.2M710.0,410.1v-4.2M710.0,1.5v4.2M724.9,410.1v-7.7M724.9,1.5v7.7M739.9,410.1v-4.2M739.9,1.5v4.2M754.8,410.1v-4.2M754.8,1.5v4.2M769.7,410.1v-4.2M769.7,1.5v4.2M784.6,410.1v-4.2M784.6,1.5v4.2M799.6,410.1v-4.2M799.6,1.5v4.2M814.5,410.1v-4.2M814.5,1.5v4.2M829.4,410.1v-4.2M829.4,1.5v4.2M844.3,410.1v-4.2M844.3,1.5v4.2M859.3,410.1v-4.2M859.3,1.5v4.2M874.2,410.1v-7.7M874.2,1.5v7.7M889.1,410.1v-4.2M889.1,1.5v4.2M904.0,410.1v-4.2M904.0,1.5v4.2M919.0,410.1v-4.2M919.0,1.5v4.2M933.9,410.1v-4.2M933.9,1.5v4.2M202.6,358.8h7M948.8,358.8h-7M202.6,328.8h7M948.8,328.8h-7M202.6,307.5h7M948.8,307.5h-7M202.6,291.0h7M948.8,291.0h-7M202.6,277.5h7M948.8,277.5h-7M202.6,266.1h7M948.8,266.1h-7M202.6,256.2h7M948.8,256.2h-7M202.6,247.5h7M948.8,247.5h-7M202.6,239.7h14M948.8,239.7h-14M202.6,188.4h7M948.8,188.4h-7M202.6,158.4h7M948.8,158.4h-7M202.6,137.1h7M948.8,137.1h-7M202.6,120.6h7M948.8,120.6h-7M202.6,107.1h7M948.8,107.1h-7M202.6,95.7h7M948.8,95.7h-7M202.6,85.8h7M948.8,85.8h-7M202.6,77.1h7M948.8,77.1h-7M202.6,69.3h14M948.8,69.3h-14M202.6,18.0h7M948.8,18.0h-7" stroke="#000" stroke-width="2.6" fill="none"/>
<text x="277.2" y="465" text-anchor="middle" style="font-family:'DejaVu Sans',sans-serif;font-weight:200;stroke:#000;stroke-width:0.9px;font-size:35px">0</text>
<text x="426.5" y="465" text-anchor="middle" style="font-family:'DejaVu Sans',sans-serif;font-weight:200;stroke:#000;stroke-width:0.9px;font-size:35px">10</text>
<text x="575.7" y="465" text-anchor="middle" style="font-family:'DejaVu Sans',sans-serif;font-weight:200;stroke:#000;stroke-width:0.9px;font-size:35px">20</text>
<text x="724.9" y="465" text-anchor="middle" style="font-family:'DejaVu Sans',sans-serif;font-weight:200;stroke:#000;stroke-width:0.9px;font-size:35px">30</text>
<text x="874.2" y="465" text-anchor="middle" style="font-family:'DejaVu Sans',sans-serif;font-weight:200;stroke:#000;stroke-width:0.9px;font-size:35px">40</text>
<text x="134" y="83.8" style="font-family:'DejaVu Sans',sans-serif;font-weight:200;stroke:#000;stroke-width:0.9px;font-size:33px" textLength="37" lengthAdjust="spacingAndGlyphs">10</text>
<text x="173" y="64.8" style="font-family:'DejaVu Sans',sans-serif;font-weight:200;stroke:#000;stroke-width:0.9px;font-size:21px">7</text>
<text x="134" y="254.2" style="font-family:'DejaVu Sans',sans-serif;font-weight:200;stroke:#000;stroke-width:0.9px;font-size:33px" textLength="37" lengthAdjust="spacingAndGlyphs">10</text>
<text x="173" y="235.2" style="font-family:'DejaVu Sans',sans-serif;font-weight:200;stroke:#000;stroke-width:0.9px;font-size:21px">6</text>
<text x="134" y="412.2" style="font-family:'DejaVu Sans',sans-serif;font-weight:200;stroke:#000;stroke-width:0.9px;font-size:33px" textLength="37" lengthAdjust="spacingAndGlyphs">10</text>
<text x="173" y="393.2" style="font-family:'DejaVu Sans',sans-serif;font-weight:200;stroke:#000;stroke-width:0.9px;font-size:21px">5</text>
<text x="356.5" y="512" style="font-family:'DejaVu Sans',sans-serif;font-weight:200;stroke:#000;stroke-width:0.9px;font-size:36px" textLength="84.5" lengthAdjust="spacingAndGlyphs">Time</text>
<text x="463.5" y="512" style="font-family:'DejaVu Sans',sans-serif;font-weight:200;stroke:#000;stroke-width:0.9px;font-size:36px" textLength="85.0" lengthAdjust="spacingAndGlyphs">from</text>
<text x="570.5" y="512" style="font-family:'DejaVu Sans',sans-serif;font-weight:200;stroke:#000;stroke-width:0.9px;font-size:36px" textLength="99.5" lengthAdjust="spacingAndGlyphs">onset</text>
<text x="693" y="512" style="font-family:'DejaVu Sans',sans-serif;font-weight:200;stroke:#000;stroke-width:0.9px;font-size:36px" textLength="98.0" lengthAdjust="spacingAndGlyphs">[min]</text>
<text transform="translate(94.8,415) rotate(-90)" style="font-family:'DejaVu Sans',sans-serif;font-weight:200;stroke:#000;stroke-width:0.9px;font-size:37px" textLength="83.0" lengthAdjust="spacingAndGlyphs">Apex</text>
<text transform="translate(94.8,310.5) rotate(-90)" style="font-family:'DejaVu Sans',sans-serif;font-weight:200;stroke:#000;stroke-width:0.9px;font-size:37px" textLength="232.5" lengthAdjust="spacingAndGlyphs">Temperature</text>
<text transform="translate(94.8,53.5) rotate(-90)" style="font-family:'DejaVu Sans',sans-serif;font-weight:200;stroke:#000;stroke-width:0.9px;font-size:37px" textLength="52.5" lengthAdjust="spacingAndGlyphs">[K]</text>
<text x="728.5" y="70.7" style="font-family:'DejaVu Sans',sans-serif;font-weight:200;stroke:#000;stroke-width:0.9px;font-size:27px" textLength="115.6" lengthAdjust="spacingAndGlyphs">Uniform</text>
<line x1="868.5" y1="61.9" x2="895.2" y2="61.9" stroke="#000000" stroke-width="3.4"/>
<text x="762.8" y="105.9" style="font-family:'DejaVu Sans',sans-serif;font-weight:200;stroke:#000;stroke-width:0.9px;font-size:27px" textLength="46.5" lengthAdjust="spacingAndGlyphs">Rm</text>
<text x="826.5" y="105.9" style="font-family:'DejaVu Sans',sans-serif;font-weight:200;stroke:#000;stroke-width:0.9px;font-size:27px" textLength="18.0" lengthAdjust="spacingAndGlyphs">2</text>
<line x1="868.5" y1="97.1" x2="895.2" y2="97.1" stroke="#332288" stroke-width="3.4"/>
<text x="762.8" y="140.3" style="font-family:'DejaVu Sans',sans-serif;font-weight:200;stroke:#000;stroke-width:0.9px;font-size:27px" textLength="46.5" lengthAdjust="spacingAndGlyphs">Rm</text>
<text x="826.5" y="140.3" style="font-family:'DejaVu Sans',sans-serif;font-weight:200;stroke:#000;stroke-width:0.9px;font-size:27px" textLength="18.3" lengthAdjust="spacingAndGlyphs">3</text>
<line x1="868.5" y1="131.5" x2="895.2" y2="131.5" stroke="#44AA99" stroke-width="3.4"/>
<text x="743.8" y="175.1" style="font-family:'DejaVu Sans',sans-serif;font-weight:200;stroke:#000;stroke-width:0.9px;font-size:27px" textLength="47.2" lengthAdjust="spacingAndGlyphs">Rm</text>
<text x="810.8" y="175.1" style="font-family:'DejaVu Sans',sans-serif;font-weight:200;stroke:#000;stroke-width:0.9px;font-size:27px" textLength="33.8" lengthAdjust="spacingAndGlyphs">10</text>
<line x1="868.5" y1="166.3" x2="895.2" y2="166.3" stroke="#999933" stroke-width="3.4"/>
<text x="743.8" y="209.6" style="font-family:'DejaVu Sans',sans-serif;font-weight:200;stroke:#000;stroke-width:0.9px;font-size:27px" textLength="47.2" lengthAdjust="spacingAndGlyphs">Rm</text>
<text x="808.1" y="209.6" style="font-family:'DejaVu Sans',sans-serif;font-weight:200;stroke:#000;stroke-width:0.9px;font-size:27px" textLength="36.5" lengthAdjust="spacingAndGlyphs">30</text>
<line x1="868.5" y1="200.8" x2="895.2" y2="200.8" stroke="#CC6677" stroke-width="3.4"/>
<text x="724.8" y="244.3" style="font-family:'DejaVu Sans',sans-serif;font-weight:200;stroke:#000;stroke-width:0.9px;font-size:27px" textLength="45.8" lengthAdjust="spacingAndGlyphs">Rm</text>
<text x="795.0" y="244.3" style="font-family:'DejaVu Sans',sans-serif;font-weight:200;stroke:#000;stroke-width:0.9px;font-size:27px" textLength="49.6" lengthAdjust="spacingAndGlyphs">100</text>
<line x1="868.5" y1="235.5" x2="895.2" y2="235.5" stroke="#AA4499" stroke-width="3.4"/>
<line x1="1278.2" y1="286.3" x2="1992" y2="286.3" stroke="#000" stroke-width="2.6" stroke-dasharray="1.7 4.08"/>
<line x1="1278.2" y1="162.5" x2="1992" y2="162.5" stroke="#000" stroke-width="2.6" stroke-dasharray="1.7 4.08"/>
<line x1="1278.2" y1="38.8" x2="1992" y2="38.8" stroke="#000" stroke-width="2.6" stroke-dasharray="1.7 4.08"/>
<g clip-path="url(#cN)" fill="none" stroke-linejoin="round">
<path d="M1335.5,43.0 1352.1,45.7 1359.4,46.3 1368.6,47.9 1376.0,47.2 1385.1,49.0 1390.7,48.5 1398.0,52.2 1405.4,50.3 1414.6,51.2 1421.9,54.0 1428.3,56.8 1436.6,52.7 1444.0,54.9 1455.0,60.4 1462.4,63.2 1472.5,56.8 1482.6,62.3 1495.4,69.6 1501.9,71.5 1510.1,65.0 1515.7,67.8 1521.2,71.5 1524.9,71.1 1532.2,75.1 1539.6,78.8 1546.0,80.7 1554.3,76.1 1559.8,79.7 1567.1,86.2 1576.3,89.5 1583.7,89.9 1591.0,95.4 1602.1,105.5 1609.4,107.3 1624.1,116.5 1631.5,122.9 1637.0,129.4 1638.8,148.7 1640.7,167.1 1650.0,172.4 1660.5,178.7 1671.0,183.9 1681.5,188.1 1692.0,191.3 1702.5,192.8 1713.0,193.4 1718.3,192.3 1723.5,193.9 1726.7,196.5 1731.9,193.9 1734.0,195.5 1739.3,203.9 1741.4,208.1 1749.8,216.5 1760.0,223.0 1770.5,230.9 1786.3,246.7 1799.4,262.4 1812.5,275.5 1825.7,286.1 1851.9,309.7 1878.2,330.7 1904.4,351.7 1930.7,372.7 1959.6,410.0 1964.8,416.0" stroke="#000000" stroke-width="3.8"/>
<path d="M1335.5,43.0 1348.4,44.8 1366.8,45.7 1385.1,46.7 1403.5,47.6 1421.9,48.5 1429.3,49.4 1432.9,47.9 1440.3,49.4 1458.7,53.1 1462.4,53.5 1466.0,50.9 1477.1,53.1 1495.4,56.4 1504.6,55.8 1513.8,57.7 1528.5,62.3 1535.9,63.6 1543.2,60.4 1550.6,62.6 1565.3,68.2 1576.3,69.6 1581.8,70.6 1587.4,66.9 1594.7,72.4 1614.9,82.5 1638.8,99.0 1646.2,102.7 1651.1,103.0 1652.1,124.0 1654.2,145.0 1658.4,148.2 1671.0,151.3 1692.0,156.6 1713.0,163.9 1734.0,172.4 1755.0,179.7 1760.0,183.6 1786.3,188.9 1812.5,190.5 1825.7,190.9 1828.3,184.9 1833.5,190.2 1841.4,209.9 1851.9,232.2 1865.0,251.9 1891.3,274.2 1917.6,297.9 1943.8,318.9 1970.1,339.9 1996.3,360.9 2008.2,370.1" stroke="#332288" stroke-width="3.8"/>
<path d="M1335.5,43.0 1366.8,44.4 1403.5,45.4 1427.4,47.2 1432.9,44.8 1440.3,46.3 1458.7,49.4 1466.0,47.2 1477.1,49.4 1495.4,51.2 1510.1,53.1 1517.5,52.2 1532.2,54.6 1550.6,57.7 1559.8,56.8 1576.3,59.0 1587.4,62.3 1603.9,67.8 1609.4,64.1 1620.4,66.9 1642.5,80.7 1650.0,88.3 1658.4,96.7 1659.5,113.5 1661.6,139.8 1665.8,147.1 1681.5,155.5 1702.5,163.9 1723.5,172.4 1744.5,183.9 1760.0,190.2 1786.3,194.1 1817.8,198.1 1828.3,212.5 1851.9,244.0 1878.2,271.6 1904.4,293.9 1930.7,314.9 1957.0,335.9 1983.2,357.0 2008.2,375.3" stroke="#44AA99" stroke-width="3.8"/>
<path d="M1335.5,43.0 1403.5,43.9 1477.1,44.8 1550.6,46.7 1605.7,49.4 1624.1,51.2 1642.5,56.8 1650.0,61.0 1660.5,67.3 1668.9,74.7 1669.4,92.5 1671.0,121.9 1677.3,130.3 1692.0,139.8 1713.0,151.3 1734.0,161.8 1755.0,172.4 1760.0,174.4 1786.3,186.3 1812.5,191.5 1832.2,194.1 1849.3,193.9 1871.6,216.5 1891.3,241.4 1904.4,254.5 1930.7,278.2 1957.0,301.8 1983.2,326.8 2008.2,345.1" stroke="#999933" stroke-width="3.8"/>
<path d="M1335.5,43.0 1403.5,43.0 1477.1,43.0 1550.6,43.0 1605.7,43.5 1633.3,44.8 1650.0,50.5 1660.5,56.8 1674.2,67.3 1674.7,92.5 1676.3,115.6 1681.5,123.0 1697.3,136.6 1713.0,149.2 1734.0,162.9 1755.0,175.5 1760.0,179.7 1779.7,187.6 1799.4,196.8 1819.1,195.5 1825.7,194.8 1838.8,207.3 1865.0,233.5 1891.3,258.5 1917.6,280.8 1943.8,304.4 1970.1,325.4 1996.3,346.4 2008.2,357.0" stroke="#CC6677" stroke-width="3.8"/>
<path d="M1335.5,43.0 1403.5,42.6 1477.1,42.4 1550.6,42.4 1605.7,42.4 1633.3,43.0 1650.0,46.3 1660.5,50.5 1668.9,55.8 1677.3,63.1 1677.8,82.0 1679.4,108.3 1681.5,115.6 1692.0,127.2 1713.0,150.3 1734.0,172.4 1755.0,192.3 1758.2,194.4 1760.0,194.1 1771.8,198.1 1786.3,223.0 1812.5,262.4 1838.8,304.4 1865.0,343.8 1891.3,376.6 1926.8,410.0 1930.7,416.0" stroke="#AA4499" stroke-width="3.8"/>
</g>
<rect x="1262.2" y="1.5" width="745.8" height="408.6" fill="none" stroke="#000" stroke-width="2.6"/>
<path d="M1277.1,410.1v-4.2M1277.1,1.5v4.2M1292.0,410.1v-4.2M1292.0,1.5v4.2M1306.9,410.1v-4.2M1306.9,1.5v4.2M1321.9,410.1v-4.2M1321.9,1.5v4.2M1336.8,410.1v-7.7M1336.8,1.5v7.7M1351.7,410.1v-4.2M1351.7,1.5v4.2M1366.6,410.1v-4.2M1366.6,1.5v4.2M1381.5,410.1v-4.2M1381.5,1.5v4.2M1396.4,410.1v-4.2M1396.4,1.5v4.2M1411.4,410.1v-4.2M1411.4,1.5v4.2M1426.3,410.1v-4.2M1426.3,1.5v4.2M1441.2,410.1v-4.2M1441.2,1.5v4.2M1456.1,410.1v-4.2M1456.1,1.5v4.2M1471.0,410.1v-4.2M1471.0,1.5v4.2M1485.9,410.1v-7.7M1485.9,1.5v7.7M1500.9,410.1v-4.2M1500.9,1.5v4.2M1515.8,410.1v-4.2M1515.8,1.5v4.2M1530.7,410.1v-4.2M1530.7,1.5v4.2M1545.6,410.1v-4.2M1545.6,1.5v4.2M1560.5,410.1v-4.2M1560.5,1.5v4.2M1575.4,410.1v-4.2M1575.4,1.5v4.2M1590.4,410.1v-4.2M1590.4,1.5v4.2M1605.3,410.1v-4.2M1605.3,1.5v4.2M1620.2,410.1v-4.2M1620.2,1.5v4.2M1635.1,410.1v-7.7M1635.1,1.5v7.7M1650.0,410.1v-4.2M1650.0,1.5v4.2M1664.9,410.1v-4.2M1664.9,1.5v4.2M1679.8,410.1v-4.2M1679.8,1.5v4.2M1694.8,410.1v-4.2M1694.8,1.5v4.2M1709.7,410.1v-4.2M1709.7,1.5v4.2M1724.6,410.1v-4.2M1724.6,1.5v4.2M1739.5,410.1v-4.2M1739.5,1.5v4.2M1754.4,410.1v-4.2M1754.4,1.5v4.2M1769.3,410.1v-4.2M1769.3,1.5v4.2M1784.3,410.1v-7.7M1784.3,1.5v7.7M1799.2,410.1v-4.2M1799.2,1.5v4.2M1814.1,410.1v-4.2M1814.1,1.5v4.2M1829.0,410.1v-4.2M1829.0,1.5v4.2M1843.9,410.1v-4.2M1843.9,1.5v4.2M1858.8,410.1v-4.2M1858.8,1.5v4.2M1873.8,410.1v-4.2M1873.8,1.5v4.2M1888.7,410.1v-4.2M1888.7,1.5v4.2M1903.6,410.1v-4.2M1903.6,1.5v4.2M1918.5,410.1v-4.2M1918.5,1.5v4.2M1933.4,410.1v-7.7M1933.4,1.5v7.7M1948.3,410.1v-4.2M1948.3,1.5v4.2M1963.3,410.1v-4.2M1963.3,1.5v4.2M1978.2,410.1v-4.2M1978.2,1.5v4.2M1993.1,410.1v-4.2M1993.1,1.5v4.2M1262.2,372.8h7M2008,372.8h-7M1262.2,351.0h7M2008,351.0h-7M1262.2,335.6h7M2008,335.6h-7M1262.2,323.6h7M2008,323.6h-7M1262.2,313.8h7M2008,313.8h-7M1262.2,305.5h7M2008,305.5h-7M1262.2,298.3h7M2008,298.3h-7M1262.2,292.0h7M2008,292.0h-7M1262.2,286.3h14M2008,286.3h-14M1262.2,249.1h7M2008,249.1h-7M1262.2,227.3h7M2008,227.3h-7M1262.2,211.8h7M2008,211.8h-7M1262.2,199.8h7M2008,199.8h-7M1262.2,190.0h7M2008,190.0h-7M1262.2,181.7h7M2008,181.7h-7M1262.2,174.5h7M2008,174.5h-7M1262.2,168.2h7M2008,168.2h-7M1262.2,162.5h14M2008,162.5h-14M1262.2,125.3h7M2008,125.3h-7M1262.2,103.5h7M2008,103.5h-7M1262.2,88.0h7M2008,88.0h-7M1262.2,76.0h7M2008,76.0h-7M1262.2,66.2h7M2008,66.2h-7M1262.2,57.9h7M2008,57.9h-7M1262.2,50.8h7M2008,50.8h-7M1262.2,44.4h7M2008,44.4h-7M1262.2,38.8h14M2008,38.8h-14" stroke="#000" stroke-width="2.6" fill="none"/>
<text x="1336.8" y="465" text-anchor="middle" style="font-family:'DejaVu Sans',sans-serif;font-weight:200;stroke:#000;stroke-width:0.9px;font-size:35px">0</text>
<text x="1485.9" y="465" text-anchor="middle" style="font-family:'DejaVu Sans',sans-serif;font-weight:200;stroke:#000;stroke-width:0.9px;font-size:35px">10</text>
<text x="1635.1" y="465" text-anchor="middle" style="font-family:'DejaVu Sans',sans-serif;font-weight:200;stroke:#000;stroke-width:0.9px;font-size:35px">20</text>
<text x="1784.3" y="465" text-anchor="middle" style="font-family:'DejaVu Sans',sans-serif;font-weight:200;stroke:#000;stroke-width:0.9px;font-size:35px">30</text>
<text x="1933.4" y="465" text-anchor="middle" style="font-family:'DejaVu Sans',sans-serif;font-weight:200;stroke:#000;stroke-width:0.9px;font-size:35px">40</text>
<text x="1177" y="53.3" style="font-family:'DejaVu Sans',sans-serif;font-weight:200;stroke:#000;stroke-width:0.9px;font-size:33px" textLength="37" lengthAdjust="spacingAndGlyphs">10</text>
<text x="1216" y="34.3" style="font-family:'DejaVu Sans',sans-serif;font-weight:200;stroke:#000;stroke-width:0.9px;font-size:21px" textLength="28" lengthAdjust="spacingAndGlyphs">11</text>
<text x="1177" y="177.0" style="font-family:'DejaVu Sans',sans-serif;font-weight:200;stroke:#000;stroke-width:0.9px;font-size:33px" textLength="37" lengthAdjust="spacingAndGlyphs">10</text>
<text x="1216" y="158.0" style="font-family:'DejaVu Sans',sans-serif;font-weight:200;stroke:#000;stroke-width:0.9px;font-size:21px" textLength="28" lengthAdjust="spacingAndGlyphs">10</text>
<text x="1191" y="300.8" style="font-family:'DejaVu Sans',sans-serif;font-weight:200;stroke:#000;stroke-width:0.9px;font-size:33px" textLength="37" lengthAdjust="spacingAndGlyphs">10</text>
<text x="1230" y="281.8" style="font-family:'DejaVu Sans',sans-serif;font-weight:200;stroke:#000;stroke-width:0.9px;font-size:21px">9</text>
<text x="1191" y="412.2" style="font-family:'DejaVu Sans',sans-serif;font-weight:200;stroke:#000;stroke-width:0.9px;font-size:33px" textLength="37" lengthAdjust="spacingAndGlyphs">10</text>
<text x="1230" y="393.2" style="font-family:'DejaVu Sans',sans-serif;font-weight:200;stroke:#000;stroke-width:0.9px;font-size:21px">8</text>
<text x="1415.5" y="512" style="font-family:'DejaVu Sans',sans-serif;font-weight:200;stroke:#000;stroke-width:0.9px;font-size:36px" textLength="84.5" lengthAdjust="spacingAndGlyphs">Time</text>
<text x="1522.5" y="512" style="font-family:'DejaVu Sans',sans-serif;font-weight:200;stroke:#000;stroke-width:0.9px;font-size:36px" textLength="85.0" lengthAdjust="spacingAndGlyphs">from</text>
<text x="1629.5" y="512" style="font-family:'DejaVu Sans',sans-serif;font-weight:200;stroke:#000;stroke-width:0.9px;font-size:36px" textLength="99.5" lengthAdjust="spacingAndGlyphs">onset</text>
<text x="1752" y="512" style="font-family:'DejaVu Sans',sans-serif;font-weight:200;stroke:#000;stroke-width:0.9px;font-size:36px" textLength="98.0" lengthAdjust="spacingAndGlyphs">[min]</text>
<text transform="translate(1138.4,395) rotate(-90)" style="font-family:'DejaVu Sans',sans-serif;font-weight:200;stroke:#000;stroke-width:0.9px;font-size:37px" textLength="83.0" lengthAdjust="spacingAndGlyphs">Apex</text>
<text transform="translate(1138.4,286) rotate(-90)" style="font-family:'DejaVu Sans',sans-serif;font-weight:200;stroke:#000;stroke-width:0.9px;font-size:37px" textLength="135.5" lengthAdjust="spacingAndGlyphs">Density</text>
<text transform="translate(1138.4,131.5) rotate(-90)" style="font-family:'DejaVu Sans',sans-serif;font-weight:200;stroke:#000;stroke-width:0.9px;font-size:37px" textLength="67.0" lengthAdjust="spacingAndGlyphs">[cm</text>
<text transform="translate(1138.4,38) rotate(-90)" style="font-family:'DejaVu Sans',sans-serif;font-weight:200;stroke:#000;stroke-width:0.9px;font-size:37px" textLength="13.0" lengthAdjust="spacingAndGlyphs">]</text>
<text transform="translate(1122,65) rotate(-90)" style="font-family:'DejaVu Sans',sans-serif;font-weight:200;stroke:#000;stroke-width:0.9px;font-size:22px" textLength="25" lengthAdjust="spacingAndGlyphs">-3</text>
<rect x="170.0" y="628.5" width="652.0" height="597.0" fill="url(#g1)"/>
<path d="M195,964 Q496,958 798,964" fill="none" stroke="url(#g2)" stroke-width="3"/>
<path d="M478.0,846.0 L444.0,955.0 L542.0,952.0Z" fill="#31688e" opacity="0.45" filter="url(#blur3)"/>
<path d="M192.0,628.5 L283.0,628.5 L270.0,641.0 L259.5,653.6 L258.6,665.0 L250.0,685.0 L241.3,703.0 L223.9,720.3 L220.5,729.0 L220.5,746.0 L215.3,763.7 L212.7,798.0 L210.0,815.6 L208.3,841.6 L205.0,870.0 L201.0,900.0 L198.0,930.0 L194.0,960.0 L192.0,960.0Z" fill="url(#g3)" />
<path d="M192.0,900.0 L199.0,900.0 L201.0,1000.0 L200.0,1100.0 L201.0,1225.5 L192.0,1225.5Z" fill="url(#g4)" />
<path d="M798.0,628.5 L683.8,628.5 C685.1,630.0 688.5,634.2 691.6,637.5 C694.7,640.8 698.9,645.1 702.5,648.5 C706.2,651.8 709.8,655.0 713.5,657.8 C717.1,660.7 720.5,663.1 724.4,665.7 C728.4,668.3 732.8,671.1 737.0,673.5 C741.1,675.8 747.6,677.4 749.5,679.7 C751.3,682.1 748.4,684.4 747.9,687.5 C747.4,690.7 746.5,694.6 746.3,698.5 C746.2,702.4 746.6,707.1 747.1,711.0 C747.6,714.9 748.3,718.6 749.5,722.0 C750.6,725.3 752.3,728.5 754.2,731.3 C756.0,734.2 758.3,736.8 760.4,739.2 C762.5,741.5 765.1,743.8 766.7,745.4 C768.2,747.0 770.3,747.8 769.8,748.5 C769.3,749.3 765.1,749.1 763.5,750.1 C762.0,751.1 761.2,752.7 760.4,754.8 C759.6,756.9 759.1,759.5 758.8,762.6 C758.6,765.7 758.6,770.2 758.8,773.6 C759.1,776.9 759.6,780.1 760.4,782.9 C761.2,785.8 762.0,788.1 763.5,790.8 C765.1,793.4 767.4,796.0 769.8,798.6 C772.1,801.2 775.3,804.0 777.6,806.4 C780.0,808.7 782.3,810.6 783.9,812.6 C785.4,814.7 788.0,816.8 787.0,818.9 C785.9,821.0 780.2,823.1 777.6,825.2 C775.0,827.2 772.9,828.8 771.4,831.4 C769.8,834.0 768.6,837.7 768.2,840.8 C767.8,843.9 768.4,847.0 769.0,850.2 C769.7,853.3 770.7,856.4 772.1,859.6 C773.6,862.7 775.7,865.8 777.6,868.9 C779.6,872.1 782.0,875.7 783.9,878.3 C785.7,880.9 788.3,882.5 788.6,884.6 C788.8,886.7 786.3,888.5 785.4,890.8 C784.5,893.2 783.6,896.0 783.1,898.7 C782.6,901.3 782.3,903.1 782.3,906.5 C782.3,909.9 782.8,915.1 783.1,919.0 C783.3,922.9 783.7,928.1 783.9,929.9 L786.0,1000.0 L788.0,1100.0 L789.0,1225.5 L798.0,1225.5Z" fill="url(#g5)"/>
<ellipse cx="780.7" cy="681.3" rx="13" ry="4.5" transform="rotate(50 780.7 681.3)" fill="#3e4c8a" opacity="0.9" filter="url(#blur1)"/>
<ellipse cx="774.5" cy="734.5" rx="9" ry="4" transform="rotate(50 774.5 734.5)" fill="#3e4c8a" opacity="0.9" filter="url(#blur1)"/>
<ellipse cx="776" cy="793.9" rx="11" ry="4.5" transform="rotate(50 776 793.9)" fill="#3e4c8a" opacity="0.9" filter="url(#blur1)"/>
<ellipse cx="777.6" cy="853.3" rx="10" ry="4.5" transform="rotate(50 777.6 853.3)" fill="#3e4c8a" opacity="0.9" filter="url(#blur1)"/>
<rect x="170.0" y="628.5" width="23" height="597.0" fill="#fde725"/>
<rect x="797.5" y="628.5" width="24.5" height="597.0" fill="#fde725"/>
<rect x="170.0" y="628.5" width="652.0" height="597.0" fill="none" stroke="#000" stroke-width="1.7"/>
<text x="155.6" y="1237.5" text-anchor="end" style="font-family:'DejaVu Sans',sans-serif;font-size:32px">0.0</text>
<text x="155.6" y="1088.2" text-anchor="end" style="font-family:'DejaVu Sans',sans-serif;font-size:32px">675.0</text>
<text x="155.6" y="939.0" text-anchor="end" style="font-family:'DejaVu Sans',sans-serif;font-size:32px">1350.0</text>
<text x="155.6" y="789.8" text-anchor="end" style="font-family:'DejaVu Sans',sans-serif;font-size:32px">2025.0</text>
<text x="155.6" y="640.5" text-anchor="end" style="font-family:'DejaVu Sans',sans-serif;font-size:32px">2700.0</text>
<text x="170.0" y="1264.8" text-anchor="middle" style="font-family:'DejaVu Sans',sans-serif;font-size:32px">0.0</text>
<text x="333.0" y="1264.8" text-anchor="middle" style="font-family:'DejaVu Sans',sans-serif;font-size:32px">12.525</text>
<text x="496.0" y="1264.8" text-anchor="middle" style="font-family:'DejaVu Sans',sans-serif;font-size:32px">25.05</text>
<text x="659.0" y="1264.8" text-anchor="middle" style="font-family:'DejaVu Sans',sans-serif;font-size:32px">37.575</text>
<text x="822.0" y="1264.8" text-anchor="middle" style="font-family:'DejaVu Sans',sans-serif;font-size:32px">50.1</text>
<path d="M170.0,1225.50h-7.3M170.0,1076.25h-7.3M170.0,927.00h-7.3M170.0,777.75h-7.3M170.0,628.50h-7.3M170.00,1225.5v7.3M333.00,1225.5v7.3M496.00,1225.5v7.3M659.00,1225.5v7.3M822.00,1225.5v7.3" stroke="#000" stroke-width="1.7" fill="none"/>
<text x="496.0" y="1308.1" text-anchor="middle" style="font-family:'DejaVu Sans',sans-serif;font-size:36.3px">Position [Mm]</text>
<text transform="translate(27.1,927.0) rotate(-90)" text-anchor="middle" style="font-family:'DejaVu Sans',sans-serif;font-size:36.3px">Time [s]</text>
<text x="496.0" y="615.2" text-anchor="middle" style="font-family:'DejaVu Sans',sans-serif;font-size:40.8px">Electron Density</text>
<rect x="862.7" y="628.5" width="29.6" height="597.0" fill="url(#g6)" stroke="#000" stroke-width="1.7"/>
<text x="908.3" y="1236.5" style="font-family:'DejaVu Sans',sans-serif;font-size:26.7px">8</text>
<text x="908.3" y="1117.1" style="font-family:'DejaVu Sans',sans-serif;font-size:26.7px">9</text>
<text x="908.3" y="997.7" style="font-family:'DejaVu Sans',sans-serif;font-size:26.7px">10</text>
<text x="908.3" y="878.3" style="font-family:'DejaVu Sans',sans-serif;font-size:26.7px">11</text>
<text x="908.3" y="758.9" style="font-family:'DejaVu Sans',sans-serif;font-size:26.7px">12</text>
<text x="908.3" y="639.5" style="font-family:'DejaVu Sans',sans-serif;font-size:26.7px">13</text>
<text transform="translate(980.8,927.0) rotate(-90)" text-anchor="middle" style="font-family:'DejaVu Sans',sans-serif;font-size:32px">log(Electron Density / cm<tspan dy="-12" style="font-size:22.4px">−3</tspan><tspan dy="12">)</tspan></text>
<path d="M892.3,1225.50h7.3M892.3,1106.10h7.3M892.3,986.70h7.3M892.3,867.30h7.3M892.3,747.90h7.3M892.3,628.50h7.3" stroke="#000" stroke-width="1.7" fill="none"/>
<rect x="1229.0" y="628.5" width="634.0" height="233.5" fill="url(#g7)"/>
<rect x="1257" y="858.0" width="289.0" height="4.8" fill="url(#g8)"/>
<rect x="1257" y="862.0" width="289.0" height="4.8" fill="url(#g9)"/>
<rect x="1257" y="866.0" width="289.0" height="4.8" fill="url(#g10)"/>
<rect x="1257" y="870.0" width="289.0" height="4.8" fill="url(#g11)"/>
<rect x="1257" y="874.0" width="289.0" height="4.8" fill="url(#g12)"/>
<rect x="1257" y="878.0" width="289.0" height="4.8" fill="url(#g13)"/>
<rect x="1257" y="882.0" width="289.0" height="4.8" fill="url(#g14)"/>
<rect x="1257" y="886.0" width="289.0" height="4.8" fill="url(#g15)"/>
<rect x="1257" y="890.0" width="289.0" height="4.8" fill="url(#g16)"/>
<rect x="1257" y="894.0" width="289.0" height="4.8" fill="url(#g17)"/>
<rect x="1257" y="898.0" width="289.0" height="4.8" fill="url(#g18)"/>
<rect x="1257" y="902.0" width="289.0" height="4.8" fill="url(#g19)"/>
<rect x="1257" y="906.0" width="289.0" height="4.8" fill="url(#g20)"/>
<rect x="1257" y="910.0" width="289.0" height="4.8" fill="url(#g21)"/>
<rect x="1257" y="914.0" width="289.0" height="4.8" fill="url(#g22)"/>
<rect x="1257" y="918.0" width="289.0" height="4.8" fill="url(#g23)"/>
<rect x="1257" y="922.0" width="289.0" height="4.8" fill="url(#g24)"/>
<rect x="1257" y="926.0" width="289.0" height="4.8" fill="url(#g25)"/>
<rect x="1257" y="930.0" width="289.0" height="4.8" fill="url(#g26)"/>
<rect x="1257" y="934.0" width="289.0" height="4.8" fill="url(#g27)"/>
<rect x="1257" y="938.0" width="289.0" height="4.8" fill="url(#g28)"/>
<rect x="1257" y="942.0" width="289.0" height="4.8" fill="url(#g29)"/>
<rect x="1257" y="946.0" width="289.0" height="4.8" fill="url(#g30)"/>
<rect x="1257" y="950.0" width="289.0" height="4.8" fill="url(#g31)"/>
<rect x="1257" y="954.0" width="289.0" height="4.8" fill="url(#g32)"/>
<rect x="1257" y="958.0" width="289.0" height="4.8" fill="url(#g33)"/>
<rect x="1257" y="962.0" width="289.0" height="4.8" fill="url(#g34)"/>
<rect x="1257" y="966.0" width="289.0" height="4.8" fill="url(#g35)"/>
<rect x="1257" y="970.0" width="289.0" height="4.8" fill="url(#g36)"/>
<rect x="1257" y="974.0" width="289.0" height="4.8" fill="url(#g37)"/>
<rect x="1257" y="978.0" width="289.0" height="4.8" fill="url(#g38)"/>
<rect x="1257" y="982.0" width="289.0" height="4.8" fill="url(#g39)"/>
<rect x="1257" y="986.0" width="289.0" height="4.8" fill="url(#g40)"/>
<rect x="1546" y="858.0" width="287.0" height="4.8" fill="url(#g41)"/>
<rect x="1546" y="862.0" width="287.0" height="4.8" fill="url(#g42)"/>
<rect x="1546" y="866.0" width="287.0" height="4.8" fill="url(#g43)"/>
<rect x="1546" y="870.0" width="287.0" height="4.8" fill="url(#g44)"/>
<rect x="1546" y="874.0" width="287.0" height="4.8" fill="url(#g45)"/>
<rect x="1546" y="878.0" width="287.0" height="4.8" fill="url(#g46)"/>
<rect x="1546" y="882.0" width="287.0" height="4.8" fill="url(#g47)"/>
<rect x="1546" y="886.0" width="287.0" height="4.8" fill="url(#g48)"/>
<rect x="1546" y="890.0" width="287.0" height="4.8" fill="url(#g49)"/>
<rect x="1546" y="894.0" width="287.0" height="4.8" fill="url(#g50)"/>
<rect x="1546" y="898.0" width="287.0" height="4.8" fill="url(#g51)"/>
<rect x="1546" y="902.0" width="287.0" height="4.8" fill="url(#g52)"/>
<rect x="1546" y="906.0" width="287.0" height="4.8" fill="url(#g53)"/>
<rect x="1546" y="910.0" width="287.0" height="4.8" fill="url(#g54)"/>
<rect x="1546" y="914.0" width="287.0" height="4.8" fill="url(#g55)"/>
<rect x="1546" y="918.0" width="287.0" height="4.8" fill="url(#g56)"/>
<rect x="1546" y="922.0" width="287.0" height="4.8" fill="url(#g57)"/>
<rect x="1546" y="926.0" width="287.0" height="4.8" fill="url(#g58)"/>
<rect x="1546" y="930.0" width="287.0" height="4.8" fill="url(#g59)"/>
<rect x="1546" y="934.0" width="287.0" height="4.8" fill="url(#g60)"/>
<rect x="1546" y="938.0" width="287.0" height="4.8" fill="url(#g61)"/>
<rect x="1546" y="942.0" width="287.0" height="4.8" fill="url(#g62)"/>
<rect x="1546" y="946.0" width="287.0" height="4.8" fill="url(#g63)"/>
<rect x="1546" y="950.0" width="287.0" height="4.8" fill="url(#g64)"/>
<rect x="1546" y="954.0" width="287.0" height="4.8" fill="url(#g65)"/>
<rect x="1546" y="958.0" width="287.0" height="4.8" fill="url(#g66)"/>
<rect x="1546" y="962.0" width="287.0" height="4.8" fill="url(#g67)"/>
<rect x="1546" y="966.0" width="287.0" height="4.8" fill="url(#g68)"/>
<rect x="1546" y="970.0" width="287.0" height="4.8" fill="url(#g69)"/>
<rect x="1546" y="974.0" width="287.0" height="4.8" fill="url(#g70)"/>
<g clip-path="url(#clipMRL)"><g filter="url(#f71)"><rect x="1257" y="983" width="289.0" height="7.8" fill="url(#g72)"/>
<rect x="1257" y="990" width="289.0" height="7.8" fill="url(#g73)"/>
<rect x="1257" y="997" width="289.0" height="11.3" fill="url(#g74)"/>
<rect x="1257" y="1007.5" width="289.0" height="7.7" fill="url(#g75)"/>
<rect x="1257" y="1014.4" width="289.0" height="14.6" fill="url(#g76)"/>
<rect x="1257" y="1028.2" width="289.0" height="11.2" fill="url(#g77)"/>
<rect x="1257" y="1038.6" width="289.0" height="7.8" fill="url(#g78)"/>
<rect x="1257" y="1045.6" width="289.0" height="18.2" fill="url(#g79)"/>
<rect x="1257" y="1063" width="289.0" height="9.4" fill="url(#g80)"/>
<rect x="1257" y="1071.6" width="289.0" height="7.7" fill="url(#g81)"/>
<rect x="1257" y="1078.5" width="289.0" height="6.0" fill="url(#g82)"/>
<rect x="1257" y="1083.7" width="289.0" height="16.4" fill="url(#g83)"/>
<rect x="1257" y="1099.3" width="289.0" height="6.0" fill="url(#g84)"/>
<rect x="1257" y="1104.5" width="289.0" height="9.3" fill="url(#g85)"/>
<rect x="1257" y="1113" width="289.0" height="6.2" fill="url(#g86)"/>
<rect x="1257" y="1118.4" width="289.0" height="14.6" fill="url(#g87)"/>
<rect x="1257" y="1132.2" width="289.0" height="6.0" fill="url(#g88)"/>
<rect x="1257" y="1137.4" width="289.0" height="7.8" fill="url(#g89)"/>
<rect x="1257" y="1144.4" width="289.0" height="6.0" fill="url(#g90)"/>
<rect x="1257" y="1149.6" width="289.0" height="9.4" fill="url(#g91)"/>
<rect x="1257" y="1158.2" width="289.0" height="12.6" fill="url(#g92)"/>
<rect x="1257" y="1170" width="289.0" height="11.6" fill="url(#g93)"/>
<rect x="1257" y="1180.8" width="289.0" height="11.0" fill="url(#g94)"/>
<rect x="1257" y="1191" width="289.0" height="7.8" fill="url(#g95)"/>
<rect x="1257" y="1198" width="289.0" height="7.8" fill="url(#g96)"/>
<rect x="1257" y="1205" width="289.0" height="7.8" fill="url(#g97)"/>
<rect x="1257" y="1212" width="289.0" height="10.8" fill="url(#g98)"/>
<rect x="1257" y="1222" width="289.0" height="4.3" fill="url(#g99)"/></g></g>
<g clip-path="url(#clipMRR)"><g filter="url(#f71)"><rect x="1546" y="971" width="287.0" height="18.8" fill="url(#g100)"/>
<rect x="1546" y="989" width="287.0" height="15.8" fill="url(#g101)"/>
<rect x="1546" y="1004" width="287.0" height="17.8" fill="url(#g102)"/>
<rect x="1546" y="1021" width="287.0" height="6.8" fill="url(#g103)"/>
<rect x="1546" y="1027" width="287.0" height="13.8" fill="url(#g104)"/>
<rect x="1546" y="1040" width="287.0" height="5.8" fill="url(#g105)"/>
<rect x="1546" y="1045" width="287.0" height="13.3" fill="url(#g106)"/>
<rect x="1546" y="1057.5" width="287.0" height="9.9" fill="url(#g107)"/>
<rect x="1546" y="1066.6" width="287.0" height="13.0" fill="url(#g108)"/>
<rect x="1546" y="1078.8" width="287.0" height="21.6" fill="url(#g109)"/>
<rect x="1546" y="1099.6" width="287.0" height="16.0" fill="url(#g110)"/>
<rect x="1546" y="1114.8" width="287.0" height="19.0" fill="url(#g111)"/>
<rect x="1546" y="1133" width="287.0" height="11.5" fill="url(#g112)"/>
<rect x="1546" y="1143.7" width="287.0" height="14.5" fill="url(#g113)"/>
<rect x="1546" y="1157.4" width="287.0" height="13.0" fill="url(#g114)"/>
<rect x="1546" y="1169.6" width="287.0" height="13.0" fill="url(#g115)"/>
<rect x="1546" y="1181.8" width="287.0" height="8.4" fill="url(#g116)"/>
<rect x="1546" y="1189.4" width="287.0" height="6.9" fill="url(#g117)"/>
<rect x="1546" y="1195.5" width="287.0" height="10.0" fill="url(#g118)"/>
<rect x="1546" y="1204.7" width="287.0" height="6.8" fill="url(#g119)"/>
<rect x="1546" y="1210.7" width="287.0" height="11.5" fill="url(#g120)"/>
<rect x="1546" y="1221.4" width="287.0" height="4.9" fill="url(#g121)"/></g></g>
<path d="M1544,628.5 L1544,800 C1544,815 1538,830 1536,845 C1540,860 1556,880 1566,905 C1560,915 1550,925 1548,960" fill="none" stroke="#ffffff" stroke-width="2.5" opacity="0.9"/>
<path d="M1546.0,838.0 L1556.0,860.0 L1568.0,905.0 L1552.0,930.0 L1548.0,975.0 L1546.0,975.0Z" fill="#dcdcff" filter="url(#blur2)"/>
<ellipse cx="1527" cy="890" rx="16" ry="35" fill="#ffe6e6" opacity="0.6" filter="url(#blur3)"/>
<path d="M1229.0,628.5 L1340.3,628.5 L1329.0,642.3 L1316.9,653.6 L1313.4,671.8 L1304.7,687.4 L1297.8,701.3 L1290.0,713.4 L1280.5,723.8 L1278.7,749.8 L1273.5,763.6 L1270.9,803.5 L1266.6,846.8 L1264.9,859.0 L1266.6,871.0 L1263.1,902.3 L1260.5,916.2 L1262.3,930.0 L1262.0,960.0 L1259.0,985.0 L1257.0,1100.0 L1257.0,1225.5 L1229.0,1225.5Z" fill="#fdfcfe" />
<g clip-path="url(#clipMRLe)">
<path d="M1269.6,628.5 L1338.0,628.5 L1321.3,646.5 L1315.8,654.8 L1284.4,666.8 L1270.6,679.7 L1268.7,655.7Z" fill="#c6c6ff" opacity="0.85" filter="url(#blur2)"/>
<path d="M1322.0,650.0 L1284.4,667.7 L1270.6,680.6 L1272.4,701.9 L1280.0,726.0 L1300.0,712.0 L1314.0,688.0 L1322.0,668.0Z" fill="#ffa4a4" opacity="0.9" filter="url(#blur2)"/>
<path d="M1269.6,680 L1268.7,720 L1264,766 L1259.5,808 L1255,860" fill="none" stroke="#b4b4ff" stroke-width="4" opacity="0.8" filter="url(#blur2)"/>
<path d="M1269.6,643.7 L1266,655.7 L1259.5,701.9 L1254.9,757.3 L1251,800" fill="none" stroke="#ffc4c4" stroke-width="3" opacity="0.8" filter="url(#blur2)"/>
<path d="M1279,722 L1274,757 L1270,803 L1267,850 L1265,870" fill="none" stroke="#ff9a9a" stroke-width="7" opacity="0.85" filter="url(#blur2)"/>
<path d="M1266.0,860.0 L1262.0,930.0 L1258.0,990.0 L1252.0,990.0 L1256.0,920.0 L1260.0,860.0Z" fill="#ffc0c0" opacity="0.7" filter="url(#blur2)"/>
<path d="M1262.0,940.0 L1256.0,1020.0 L1250.0,1120.0 L1245.0,1120.0 L1250.0,1020.0 L1256.0,940.0Z" fill="#c8c8ff" opacity="0.6" filter="url(#blur2)"/>
</g>
<path d="M1863.0,628.5 L1728.9,628.5 C1730.6,630.2 1736.1,635.7 1739.3,638.9 C1742.5,642.0 1745.1,644.6 1748.0,647.5 C1750.9,650.4 1753.7,653.3 1756.6,656.2 C1759.5,659.1 1761.5,662.0 1765.3,664.9 C1769.1,667.7 1774.8,670.9 1779.2,673.5 C1783.5,676.1 1789.0,679.0 1791.3,680.5 C1793.6,681.9 1793.0,680.5 1793.0,682.2 C1793.0,683.9 1791.7,687.4 1791.3,690.9 C1790.9,694.3 1790.4,698.7 1790.4,703.0 C1790.4,707.3 1790.6,712.8 1791.3,716.9 C1792.0,720.9 1793.3,724.1 1794.8,727.3 C1796.2,730.4 1798.2,733.3 1800.0,735.9 C1801.7,738.5 1803.4,740.8 1805.2,742.9 C1806.9,744.9 1810.4,746.3 1810.4,748.1 C1810.4,749.8 1806.3,750.6 1805.2,753.2 C1804.0,755.8 1803.7,759.6 1803.4,763.6 C1803.1,767.7 1802.9,773.2 1803.4,777.5 C1804.0,781.8 1805.2,785.9 1806.9,789.6 C1808.6,793.4 1811.2,796.6 1813.8,800.0 C1816.4,803.5 1819.6,807.4 1822.5,810.4 C1825.4,813.5 1830.9,815.9 1831.2,818.2 C1831.5,820.6 1826.5,822.1 1824.2,824.3 C1821.9,826.5 1819.0,828.6 1817.3,831.2 C1815.6,833.8 1814.6,836.7 1813.8,839.9 C1813.1,843.1 1812.7,846.5 1813.0,850.3 C1813.3,854.1 1814.0,858.7 1815.6,862.4 C1817.2,866.2 1820.2,869.1 1822.5,872.8 C1824.8,876.6 1827.7,882.1 1829.4,885.0 C1831.2,887.9 1833.2,887.9 1832.9,890.2 C1832.6,892.5 1828.9,895.4 1827.7,898.8 C1826.5,902.3 1826.1,905.8 1826.0,911.0 C1825.8,916.2 1826.7,926.8 1826.8,930.0 L1830.0,1000.0 L1833.0,1100.0 L1833.0,1225.5 L1863.0,1225.5Z" fill="#fdfcfe"/>
<path d="M1790.0,628.5 L1822.0,628.5 L1836.0,660.0 L1840.0,700.0 L1826.0,698.0 L1800.0,678.0 L1785.0,660.0 L1770.0,640.0Z" fill="url(#r122)" filter="url(#blur2)" opacity="0.9"/>
<path d="M1729.0,628.5 L1748.0,647.5 L1765.0,665.0 L1791.0,680.5 L1810.0,690.0 L1830.0,698.0 L1826.0,688.0 L1800.0,672.0 L1778.0,655.0 L1760.0,640.0 L1748.0,628.5Z" fill="url(#g123)" filter="url(#blur2)"/>
<path d="M1793.0,682.2 C1792.7,683.6 1791.7,687.4 1791.3,690.9 C1790.9,694.3 1790.4,698.7 1790.4,703.0 C1790.4,707.3 1790.6,712.8 1791.3,716.9 C1792.0,720.9 1793.3,724.1 1794.8,727.3 C1796.2,730.4 1798.2,733.3 1800.0,735.9 C1801.7,738.5 1803.4,740.8 1805.2,742.9 C1806.9,744.9 1809.5,747.2 1810.4,748.1 C1813.0,748.9 1821.9,756.4 1826.0,753.2 C1830.0,750.1 1833.2,737.4 1834.6,729.0 C1836.1,720.6 1835.2,708.2 1834.6,703.0 C1834.0,697.8 1835.2,700.4 1831.2,697.8 C1827.1,695.2 1816.7,690.0 1810.4,687.4 C1804.0,684.8 1795.9,683.1 1793.0,682.2Z" fill="url(#r124)"/>
<path d="M1810.4,748.1 C1809.5,748.9 1806.3,750.6 1805.2,753.2 C1804.0,755.8 1803.7,759.6 1803.4,763.6 C1803.1,767.7 1802.9,773.2 1803.4,777.5 C1804.0,781.8 1805.2,785.9 1806.9,789.6 C1808.6,793.4 1811.2,796.6 1813.8,800.0 C1816.4,803.5 1819.6,807.4 1822.5,810.4 C1825.4,813.5 1829.7,816.9 1831.2,818.2 C1832.9,817.8 1840.1,821.9 1841.6,815.6 C1843.0,809.4 1841.3,790.8 1839.8,781.0 C1838.4,771.2 1836.1,761.9 1832.9,756.7 C1829.7,751.5 1824.5,751.2 1820.8,749.8 C1817.0,748.3 1812.1,748.3 1810.4,748.1Z" fill="url(#r125)"/>
<path d="M1831.2,818.2 C1830.0,819.3 1826.5,822.1 1824.2,824.3 C1821.9,826.5 1819.0,828.6 1817.3,831.2 C1815.6,833.8 1814.6,836.7 1813.8,839.9 C1813.1,843.1 1812.7,846.5 1813.0,850.3 C1813.3,854.1 1814.0,858.7 1815.6,862.4 C1817.2,866.2 1820.2,869.1 1822.5,872.8 C1824.8,876.6 1827.7,882.1 1829.4,885.0 C1831.2,887.9 1832.3,889.3 1832.9,890.2 C1834.9,889.3 1843.3,891.6 1845.0,885.0 C1846.8,878.3 1844.4,860.4 1843.3,850.3 C1842.1,840.2 1840.1,829.7 1838.1,824.3 C1836.1,819.0 1832.3,819.3 1831.2,818.2Z" fill="url(#r126)"/>
<path d="M1832.9,890.2 C1832.0,891.6 1828.9,895.4 1827.7,898.8 C1826.5,902.3 1826.1,905.8 1826.0,911.0 C1825.8,916.2 1826.7,926.8 1826.8,930.0 C1828.7,930.0 1835.9,934.6 1838.1,930.0 C1840.3,925.4 1840.7,908.9 1839.8,902.3 C1839.0,895.7 1834.0,892.2 1832.9,890.2Z" fill="url(#r127)"/>
<line x1="1804" y1="726" x2="1835" y2="781" stroke="#6f6fff" stroke-width="3" opacity="0.6" filter="url(#blur2)"/>
<line x1="1811" y1="781" x2="1843" y2="842" stroke="#6f6fff" stroke-width="3" opacity="0.6" filter="url(#blur2)"/>
<line x1="1821" y1="850" x2="1852" y2="902" stroke="#6f6fff" stroke-width="3" opacity="0.6" filter="url(#blur2)"/>
<line x1="1832" y1="700" x2="1850" y2="745" stroke="#6f6fff" stroke-width="3" opacity="0.6" filter="url(#blur2)"/>
<line x1="1830" y1="905" x2="1850" y2="960" stroke="#6f6fff" stroke-width="3" opacity="0.6" filter="url(#blur2)"/>
<rect x="1229.0" y="628.5" width="634.0" height="597.0" fill="none" stroke="#000" stroke-width="1.7"/>
<text x="1214.6" y="1237.5" text-anchor="end" style="font-family:'DejaVu Sans',sans-serif;font-size:32px">0.0</text>
<text x="1214.6" y="1088.2" text-anchor="end" style="font-family:'DejaVu Sans',sans-serif;font-size:32px">675.0</text>
<text x="1214.6" y="939.0" text-anchor="end" style="font-family:'DejaVu Sans',sans-serif;font-size:32px">1350.0</text>
<text x="1214.6" y="789.8" text-anchor="end" style="font-family:'DejaVu Sans',sans-serif;font-size:32px">2025.0</text>
<text x="1214.6" y="640.5" text-anchor="end" style="font-family:'DejaVu Sans',sans-serif;font-size:32px">2700.0</text>
<text x="1229.0" y="1264.8" text-anchor="middle" style="font-family:'DejaVu Sans',sans-serif;font-size:32px">0.0</text>
<text x="1387.5" y="1264.8" text-anchor="middle" style="font-family:'DejaVu Sans',sans-serif;font-size:32px">12.525</text>
<text x="1546.0" y="1264.8" text-anchor="middle" style="font-family:'DejaVu Sans',sans-serif;font-size:32px">25.05</text>
<text x="1704.5" y="1264.8" text-anchor="middle" style="font-family:'DejaVu Sans',sans-serif;font-size:32px">37.575</text>
<text x="1863.0" y="1264.8" text-anchor="middle" style="font-family:'DejaVu Sans',sans-serif;font-size:32px">50.1</text>
<path d="M1229.0,1225.50h-7.3M1229.0,1076.25h-7.3M1229.0,927.00h-7.3M1229.0,777.75h-7.3M1229.0,628.50h-7.3M1229.00,1225.5v7.3M1387.50,1225.5v7.3M1546.00,1225.5v7.3M1704.50,1225.5v7.3M1863.00,1225.5v7.3" stroke="#000" stroke-width="1.7" fill="none"/>
<text x="1546.0" y="1308.1" text-anchor="middle" style="font-family:'DejaVu Sans',sans-serif;font-size:36.3px">Position [Mm]</text>
<text transform="translate(1086.1,927.0) rotate(-90)" text-anchor="middle" style="font-family:'DejaVu Sans',sans-serif;font-size:36.3px">Time [s]</text>
<text x="1546.0" y="615.2" text-anchor="middle" style="font-family:'DejaVu Sans',sans-serif;font-size:40.8px">Bulk Velocity</text>
<rect x="1903.0" y="628.5" width="29.7" height="597.0" fill="url(#g128)" stroke="#000" stroke-width="1.7"/>
<text x="1948.7" y="699.2" style="font-family:'DejaVu Sans',sans-serif;font-size:26.7px">40</text>
<text x="1948.7" y="818.6" style="font-family:'DejaVu Sans',sans-serif;font-size:26.7px">20</text>
<text x="1948.7" y="938.0" style="font-family:'DejaVu Sans',sans-serif;font-size:26.7px">0</text>
<text x="1948.7" y="1057.4" style="font-family:'DejaVu Sans',sans-serif;font-size:26.7px">−20</text>
<text x="1948.7" y="1176.8" style="font-family:'DejaVu Sans',sans-serif;font-size:26.7px">−40</text>
<text transform="translate(2044.7,927.0) rotate(-90)" text-anchor="middle" style="font-family:'DejaVu Sans',sans-serif;font-size:32px">Velocity [km s<tspan dy="-12" style="font-size:22.4px">−1</tspan><tspan dy="12">]</tspan></text>
<path d="M1932.7,688.20h7.3M1932.7,807.60h7.3M1932.7,927.00h7.3M1932.7,1046.40h7.3M1932.7,1165.80h7.3" stroke="#000" stroke-width="1.7" fill="none"/>
<g clip-path="url(#clipBL)"><g filter="url(#f129)"><rect x="193" y="1406.5" width="605" height="8.8" fill="url(#g130)"/>
<rect x="193" y="1414.5" width="605" height="8.8" fill="url(#g131)"/>
<rect x="193" y="1422.5" width="605" height="8.8" fill="url(#g132)"/>
<rect x="193" y="1430.5" width="605" height="8.8" fill="url(#g133)"/>
<rect x="193" y="1438.5" width="605" height="8.8" fill="url(#g134)"/>
<rect x="193" y="1446.5" width="605" height="8.8" fill="url(#g135)"/>
<rect x="193" y="1454.5" width="605" height="8.8" fill="url(#g136)"/>
<rect x="193" y="1462.5" width="605" height="8.8" fill="url(#g137)"/>
<rect x="193" y="1470.5" width="605" height="8.8" fill="url(#g138)"/>
<rect x="193" y="1478.5" width="605" height="8.8" fill="url(#g139)"/>
<rect x="193" y="1486.5" width="605" height="8.8" fill="url(#g140)"/>
<rect x="193" y="1494.5" width="605" height="8.8" fill="url(#g141)"/>
<rect x="193" y="1502.5" width="605" height="8.8" fill="url(#g142)"/>
<rect x="193" y="1510.5" width="605" height="8.8" fill="url(#g143)"/>
<rect x="193" y="1518.5" width="605" height="8.8" fill="url(#g144)"/>
<rect x="193" y="1526.5" width="605" height="8.8" fill="url(#g145)"/>
<rect x="193" y="1534.5" width="605" height="8.8" fill="url(#g146)"/>
<rect x="193" y="1542.5" width="605" height="8.8" fill="url(#g147)"/>
<rect x="193" y="1550.5" width="605" height="8.8" fill="url(#g148)"/>
<rect x="193" y="1558.5" width="605" height="8.8" fill="url(#g149)"/>
<rect x="193" y="1566.5" width="605" height="8.8" fill="url(#g150)"/>
<rect x="193" y="1574.5" width="605" height="8.8" fill="url(#g151)"/>
<rect x="193" y="1582.5" width="605" height="8.8" fill="url(#g152)"/>
<rect x="193" y="1590.5" width="605" height="8.8" fill="url(#g153)"/>
<rect x="193" y="1598.5" width="605" height="8.8" fill="url(#g154)"/>
<rect x="193" y="1606.5" width="605" height="8.8" fill="url(#g155)"/>
<rect x="193" y="1614.5" width="605" height="8.8" fill="url(#g156)"/>
<rect x="193" y="1622.5" width="605" height="8.8" fill="url(#g157)"/>
<rect x="193" y="1630.5" width="605" height="8.8" fill="url(#g158)"/>
<rect x="193" y="1638.5" width="605" height="8.8" fill="url(#g159)"/>
<rect x="193" y="1646.5" width="605" height="8.8" fill="url(#g160)"/>
<rect x="193" y="1654.5" width="605" height="8.8" fill="url(#g161)"/>
<rect x="193" y="1662.5" width="605" height="8.8" fill="url(#g162)"/>
<rect x="193" y="1670.5" width="605" height="8.8" fill="url(#g163)"/>
<rect x="193" y="1678.5" width="605" height="8.8" fill="url(#g164)"/>
<rect x="193" y="1686.5" width="605" height="8.8" fill="url(#g165)"/>
<rect x="193" y="1694.5" width="605" height="8.8" fill="url(#g166)"/>
<rect x="193" y="1702.5" width="605" height="8.8" fill="url(#g167)"/>
<rect x="193" y="1710.5" width="605" height="8.8" fill="url(#g168)"/>
<rect x="193" y="1718.5" width="605" height="8.8" fill="url(#g169)"/>
<rect x="193" y="1726.5" width="605" height="8.8" fill="url(#g170)"/>
<rect x="193" y="1734.5" width="605" height="8.8" fill="url(#g171)"/>
<rect x="193" y="1742.5" width="605" height="8.8" fill="url(#g172)"/></g></g>
<path d="M487.0,1545.0 L455.0,1712.0 L540.0,1712.0Z" fill="#2a7b8e" opacity="0.35" filter="url(#blur3)"/>
<path d="M193,1729 Q496,1700 798,1737 L798,2011.5 L193,2011.5 Z" fill="url(#g173)"/>
<path d="M195,1728.5 Q496,1700.5 795,1737" fill="none" stroke="url(#g174)" stroke-width="3.5"/>
<path d="M195,1726 Q260,1726 330,1726 L330,1727 Q260,1733 195,1740 Z" fill="#2c718e" opacity="0.55" filter="url(#blur2)"/>
<path d="M795,1733 Q730,1732 660,1728 L660,1729 Q730,1737 795,1744 Z" fill="#2c718e" opacity="0.5" filter="url(#blur2)"/>
<path d="M192.7,1414.5 L207.0,1414.5 L204.0,1600.0 L201.0,1730.0 L200.0,2011.5 L192.7,2011.5Z" fill="url(#g175)" />
<path d="M781.0,1414.5 L798.2,1414.5 L798.2,2011.5 L783.0,2011.5 L784.0,1730.0 L782.0,1600.0Z" fill="url(#g176)" />
<rect x="170.0" y="1414.5" width="22.7" height="597.0" fill="#fde725"/>
<rect x="798.2" y="1414.5" width="23.8" height="597.0" fill="#fde725"/>
<rect x="170.0" y="1414.5" width="652.0" height="597.0" fill="none" stroke="#000" stroke-width="1.7"/>
<text x="155.6" y="2023.5" text-anchor="end" style="font-family:'DejaVu Sans',sans-serif;font-size:32px">0.0</text>
<text x="155.6" y="1874.2" text-anchor="end" style="font-family:'DejaVu Sans',sans-serif;font-size:32px">675.0</text>
<text x="155.6" y="1725.0" text-anchor="end" style="font-family:'DejaVu Sans',sans-serif;font-size:32px">1350.0</text>
<text x="155.6" y="1575.8" text-anchor="end" style="font-family:'DejaVu Sans',sans-serif;font-size:32px">2025.0</text>
<text x="155.6" y="1426.5" text-anchor="end" style="font-family:'DejaVu Sans',sans-serif;font-size:32px">2700.0</text>
<text x="170.0" y="2050.8" text-anchor="middle" style="font-family:'DejaVu Sans',sans-serif;font-size:32px">0.0</text>
<text x="333.0" y="2050.8" text-anchor="middle" style="font-family:'DejaVu Sans',sans-serif;font-size:32px">12.525</text>
<text x="496.0" y="2050.8" text-anchor="middle" style="font-family:'DejaVu Sans',sans-serif;font-size:32px">25.05</text>
<text x="659.0" y="2050.8" text-anchor="middle" style="font-family:'DejaVu Sans',sans-serif;font-size:32px">37.575</text>
<text x="822.0" y="2050.8" text-anchor="middle" style="font-family:'DejaVu Sans',sans-serif;font-size:32px">50.1</text>
<path d="M170.0,2011.50h-7.3M170.0,1862.25h-7.3M170.0,1713.00h-7.3M170.0,1563.75h-7.3M170.0,1414.50h-7.3M170.00,2011.5v7.3M333.00,2011.5v7.3M496.00,2011.5v7.3M659.00,2011.5v7.3M822.00,2011.5v7.3" stroke="#000" stroke-width="1.7" fill="none"/>
<text x="496.0" y="2094.1" text-anchor="middle" style="font-family:'DejaVu Sans',sans-serif;font-size:36.3px">Position [Mm]</text>
<text transform="translate(27.1,1713.0) rotate(-90)" text-anchor="middle" style="font-family:'DejaVu Sans',sans-serif;font-size:36.3px">Time [s]</text>
<text x="496.0" y="1401.2" text-anchor="middle" style="font-family:'DejaVu Sans',sans-serif;font-size:40.8px">Electron Density</text>
<rect x="862.7" y="1414.5" width="29.6" height="597.0" fill="url(#g177)" stroke="#000" stroke-width="1.7"/>
<text x="908.3" y="2022.5" style="font-family:'DejaVu Sans',sans-serif;font-size:26.7px">8</text>
<text x="908.3" y="1903.1" style="font-family:'DejaVu Sans',sans-serif;font-size:26.7px">9</text>
<text x="908.3" y="1783.7" style="font-family:'DejaVu Sans',sans-serif;font-size:26.7px">10</text>
<text x="908.3" y="1664.3" style="font-family:'DejaVu Sans',sans-serif;font-size:26.7px">11</text>
<text x="908.3" y="1544.9" style="font-family:'DejaVu Sans',sans-serif;font-size:26.7px">12</text>
<text x="908.3" y="1425.5" style="font-family:'DejaVu Sans',sans-serif;font-size:26.7px">13</text>
<text transform="translate(980.8,1713.0) rotate(-90)" text-anchor="middle" style="font-family:'DejaVu Sans',sans-serif;font-size:32px">log(Electron Density / cm<tspan dy="-12" style="font-size:22.4px">−3</tspan><tspan dy="12">)</tspan></text>
<path d="M892.3,2011.50h7.3M892.3,1892.10h7.3M892.3,1772.70h7.3M892.3,1653.30h7.3M892.3,1533.90h7.3M892.3,1414.50h7.3" stroke="#000" stroke-width="1.7" fill="none"/>
<rect x="1229.0" y="1414.5" width="634.0" height="190.5" fill="url(#g178)"/>
<rect x="1258" y="1600.0" width="288.0" height="3.8" fill="url(#g179)"/>
<rect x="1258" y="1603.0" width="288.0" height="3.8" fill="url(#g180)"/>
<rect x="1258" y="1606.0" width="288.0" height="3.8" fill="url(#g181)"/>
<rect x="1258" y="1609.0" width="288.0" height="3.8" fill="url(#g182)"/>
<rect x="1258" y="1612.0" width="288.0" height="3.8" fill="url(#g183)"/>
<rect x="1258" y="1615.0" width="288.0" height="3.8" fill="url(#g184)"/>
<rect x="1258" y="1618.0" width="288.0" height="3.8" fill="url(#g185)"/>
<rect x="1258" y="1621.0" width="288.0" height="3.8" fill="url(#g186)"/>
<rect x="1258" y="1624.0" width="288.0" height="3.8" fill="url(#g187)"/>
<rect x="1258" y="1627.0" width="288.0" height="3.8" fill="url(#g188)"/>
<rect x="1258" y="1630.0" width="288.0" height="3.8" fill="url(#g189)"/>
<rect x="1258" y="1633.0" width="288.0" height="3.8" fill="url(#g190)"/>
<rect x="1258" y="1636.0" width="288.0" height="3.8" fill="url(#g191)"/>
<rect x="1258" y="1639.0" width="288.0" height="3.8" fill="url(#g192)"/>
<rect x="1258" y="1642.0" width="288.0" height="3.8" fill="url(#g193)"/>
<rect x="1258" y="1645.0" width="288.0" height="3.8" fill="url(#g194)"/>
<rect x="1258" y="1648.0" width="288.0" height="3.8" fill="url(#g195)"/>
<rect x="1258" y="1651.0" width="288.0" height="3.8" fill="url(#g196)"/>
<rect x="1258" y="1654.0" width="288.0" height="3.8" fill="url(#g197)"/>
<rect x="1258" y="1657.0" width="288.0" height="3.8" fill="url(#g198)"/>
<rect x="1258" y="1660.0" width="288.0" height="3.8" fill="url(#g199)"/>
<rect x="1258" y="1663.0" width="288.0" height="3.8" fill="url(#g200)"/>
<rect x="1258" y="1666.0" width="288.0" height="3.8" fill="url(#g201)"/>
<rect x="1258" y="1669.0" width="288.0" height="3.8" fill="url(#g202)"/>
<rect x="1258" y="1672.0" width="288.0" height="3.8" fill="url(#g203)"/>
<rect x="1258" y="1675.0" width="288.0" height="3.8" fill="url(#g204)"/>
<rect x="1258" y="1678.0" width="288.0" height="3.8" fill="url(#g205)"/>
<rect x="1258" y="1681.0" width="288.0" height="3.8" fill="url(#g206)"/>
<rect x="1258" y="1684.0" width="288.0" height="3.8" fill="url(#g207)"/>
<rect x="1258" y="1687.0" width="288.0" height="3.8" fill="url(#g208)"/>
<rect x="1258" y="1690.0" width="288.0" height="3.8" fill="url(#g209)"/>
<rect x="1258" y="1693.0" width="288.0" height="3.8" fill="url(#g210)"/>
<rect x="1258" y="1696.0" width="288.0" height="3.8" fill="url(#g211)"/>
<rect x="1258" y="1699.0" width="288.0" height="3.8" fill="url(#g212)"/>
<rect x="1258" y="1702.0" width="288.0" height="3.8" fill="url(#g213)"/>
<rect x="1258" y="1705.0" width="288.0" height="3.8" fill="url(#g214)"/>
<rect x="1258" y="1708.0" width="288.0" height="3.8" fill="url(#g215)"/>
<rect x="1258" y="1711.0" width="288.0" height="3.8" fill="url(#g216)"/>
<rect x="1258" y="1714.0" width="288.0" height="3.8" fill="url(#g217)"/>
<rect x="1258" y="1717.0" width="288.0" height="3.8" fill="url(#g218)"/>
<rect x="1258" y="1720.0" width="288.0" height="3.8" fill="url(#g219)"/>
<rect x="1258" y="1723.0" width="288.0" height="3.8" fill="url(#g220)"/>
<rect x="1258" y="1726.0" width="288.0" height="3.8" fill="url(#g221)"/>
<rect x="1258" y="1729.0" width="288.0" height="3.8" fill="url(#g222)"/>
<rect x="1258" y="1732.0" width="288.0" height="3.8" fill="url(#g223)"/>
<rect x="1258" y="1735.0" width="288.0" height="3.8" fill="url(#g224)"/>
<rect x="1258" y="1738.0" width="288.0" height="3.8" fill="url(#g225)"/>
<rect x="1258" y="1741.0" width="288.0" height="3.8" fill="url(#g226)"/>
<rect x="1258" y="1744.0" width="288.0" height="3.8" fill="url(#g227)"/>
<rect x="1258" y="1747.0" width="288.0" height="3.8" fill="url(#g228)"/>
<rect x="1258" y="1750.0" width="288.0" height="3.8" fill="url(#g229)"/>
<rect x="1258" y="1753.0" width="288.0" height="3.8" fill="url(#g230)"/>
<rect x="1546" y="1600.0" width="288.0" height="3.8" fill="url(#g231)"/>
<rect x="1546" y="1603.0" width="288.0" height="3.8" fill="url(#g232)"/>
<rect x="1546" y="1606.0" width="288.0" height="3.8" fill="url(#g233)"/>
<rect x="1546" y="1609.0" width="288.0" height="3.8" fill="url(#g234)"/>
<rect x="1546" y="1612.0" width="288.0" height="3.8" fill="url(#g235)"/>
<rect x="1546" y="1615.0" width="288.0" height="3.8" fill="url(#g236)"/>
<rect x="1546" y="1618.0" width="288.0" height="3.8" fill="url(#g237)"/>
<rect x="1546" y="1621.0" width="288.0" height="3.8" fill="url(#g238)"/>
<rect x="1546" y="1624.0" width="288.0" height="3.8" fill="url(#g239)"/>
<rect x="1546" y="1627.0" width="288.0" height="3.8" fill="url(#g240)"/>
<rect x="1546" y="1630.0" width="288.0" height="3.8" fill="url(#g241)"/>
<rect x="1546" y="1633.0" width="288.0" height="3.8" fill="url(#g242)"/>
<rect x="1546" y="1636.0" width="288.0" height="3.8" fill="url(#g243)"/>
<rect x="1546" y="1639.0" width="288.0" height="3.8" fill="url(#g244)"/>
<rect x="1546" y="1642.0" width="288.0" height="3.8" fill="url(#g245)"/>
<rect x="1546" y="1645.0" width="288.0" height="3.8" fill="url(#g246)"/>
<rect x="1546" y="1648.0" width="288.0" height="3.8" fill="url(#g247)"/>
<rect x="1546" y="1651.0" width="288.0" height="3.8" fill="url(#g248)"/>
<rect x="1546" y="1654.0" width="288.0" height="3.8" fill="url(#g249)"/>
<rect x="1546" y="1657.0" width="288.0" height="3.8" fill="url(#g250)"/>
<rect x="1546" y="1660.0" width="288.0" height="3.8" fill="url(#g251)"/>
<rect x="1546" y="1663.0" width="288.0" height="3.8" fill="url(#g252)"/>
<rect x="1546" y="1666.0" width="288.0" height="3.8" fill="url(#g253)"/>
<rect x="1546" y="1669.0" width="288.0" height="3.8" fill="url(#g254)"/>
<rect x="1546" y="1672.0" width="288.0" height="3.8" fill="url(#g255)"/>
<rect x="1546" y="1675.0" width="288.0" height="3.8" fill="url(#g256)"/>
<rect x="1546" y="1678.0" width="288.0" height="3.8" fill="url(#g257)"/>
<rect x="1546" y="1681.0" width="288.0" height="3.8" fill="url(#g258)"/>
<rect x="1546" y="1684.0" width="288.0" height="3.8" fill="url(#g259)"/>
<rect x="1546" y="1687.0" width="288.0" height="3.8" fill="url(#g260)"/>
<rect x="1546" y="1690.0" width="288.0" height="3.8" fill="url(#g261)"/>
<rect x="1546" y="1693.0" width="288.0" height="3.8" fill="url(#g262)"/>
<rect x="1546" y="1696.0" width="288.0" height="3.8" fill="url(#g263)"/>
<rect x="1546" y="1699.0" width="288.0" height="3.8" fill="url(#g264)"/>
<rect x="1546" y="1702.0" width="288.0" height="3.8" fill="url(#g265)"/>
<rect x="1546" y="1705.0" width="288.0" height="3.8" fill="url(#g266)"/>
<rect x="1546" y="1708.0" width="288.0" height="3.8" fill="url(#g267)"/>
<rect x="1546" y="1711.0" width="288.0" height="3.8" fill="url(#g268)"/>
<rect x="1546" y="1714.0" width="288.0" height="3.8" fill="url(#g269)"/>
<rect x="1546" y="1717.0" width="288.0" height="3.8" fill="url(#g270)"/>
<rect x="1546" y="1720.0" width="288.0" height="3.8" fill="url(#g271)"/>
<rect x="1546" y="1723.0" width="288.0" height="3.8" fill="url(#g272)"/>
<rect x="1546" y="1726.0" width="288.0" height="3.8" fill="url(#g273)"/>
<rect x="1546" y="1729.0" width="288.0" height="3.8" fill="url(#g274)"/>
<rect x="1546" y="1732.0" width="288.0" height="3.8" fill="url(#g275)"/>
<rect x="1546" y="1735.0" width="288.0" height="3.8" fill="url(#g276)"/>
<rect x="1546" y="1738.0" width="288.0" height="3.8" fill="url(#g277)"/>
<rect x="1546" y="1741.0" width="288.0" height="3.8" fill="url(#g278)"/>
<rect x="1546" y="1744.0" width="288.0" height="3.8" fill="url(#g279)"/>
<rect x="1546" y="1747.0" width="288.0" height="3.8" fill="url(#g280)"/>
<rect x="1546" y="1750.0" width="288.0" height="3.8" fill="url(#g281)"/>
<rect x="1546" y="1753.0" width="288.0" height="3.8" fill="url(#g282)"/>
<rect x="1546" y="1756.0" width="288.0" height="3.8" fill="url(#g283)"/>
<rect x="1546" y="1759.0" width="288.0" height="3.8" fill="url(#g284)"/>
<rect x="1546" y="1762.0" width="288.0" height="3.8" fill="url(#g285)"/>
<rect x="1546" y="1765.0" width="288.0" height="3.8" fill="url(#g286)"/>
<g clip-path="url(#clipBRL)"><g filter="url(#f287)"><rect x="1258" y="1600" width="288.0" height="50.8" fill="url(#g288)"/>
<rect x="1258" y="1650" width="288.0" height="40.8" fill="url(#g289)"/>
<rect x="1258" y="1690" width="288.0" height="15.8" fill="url(#g290)"/>
<rect x="1258" y="1705" width="288.0" height="16.8" fill="url(#g291)"/>
<rect x="1258" y="1721" width="288.0" height="13.8" fill="url(#g292)"/>
<rect x="1258" y="1734" width="288.0" height="13.8" fill="url(#g293)"/>
<rect x="1258" y="1747" width="288.0" height="21.8" fill="url(#g294)"/>
<rect x="1258" y="1768" width="288.0" height="19.8" fill="url(#g295)"/>
<rect x="1258" y="1787" width="288.0" height="21.8" fill="url(#g296)"/>
<rect x="1258" y="1808" width="288.0" height="7.8" fill="url(#g297)"/>
<rect x="1258" y="1815" width="288.0" height="14.8" fill="url(#g298)"/>
<rect x="1258" y="1829" width="288.0" height="12.8" fill="url(#g299)"/>
<rect x="1258" y="1841" width="288.0" height="5.8" fill="url(#g300)"/>
<rect x="1258" y="1846" width="288.0" height="7.8" fill="url(#g301)"/>
<rect x="1258" y="1853" width="288.0" height="10.8" fill="url(#g302)"/>
<rect x="1258" y="1863" width="288.0" height="14.8" fill="url(#g303)"/>
<rect x="1258" y="1877" width="288.0" height="21.8" fill="url(#g304)"/>
<rect x="1258" y="1898" width="288.0" height="10.8" fill="url(#g305)"/>
<rect x="1258" y="1908" width="288.0" height="11.8" fill="url(#g306)"/>
<rect x="1258" y="1919" width="288.0" height="10.8" fill="url(#g307)"/>
<rect x="1258" y="1929" width="288.0" height="11.8" fill="url(#g308)"/>
<rect x="1258" y="1940" width="288.0" height="10.8" fill="url(#g309)"/>
<rect x="1258" y="1950" width="288.0" height="10.8" fill="url(#g310)"/>
<rect x="1258" y="1960" width="288.0" height="16.8" fill="url(#g311)"/>
<rect x="1258" y="1976" width="288.0" height="12.8" fill="url(#g312)"/>
<rect x="1258" y="1988" width="288.0" height="10.8" fill="url(#g313)"/>
<rect x="1258" y="1998" width="288.0" height="11.8" fill="url(#g314)"/>
<rect x="1258" y="2009" width="288.0" height="3.3" fill="url(#g315)"/></g></g>
<g clip-path="url(#clipBRR)"><g filter="url(#f287)"><rect x="1546" y="1600" width="288.0" height="40.8" fill="url(#g316)"/>
<rect x="1546" y="1640" width="288.0" height="40.8" fill="url(#g317)"/>
<rect x="1546" y="1680" width="288.0" height="25.8" fill="url(#g318)"/>
<rect x="1546" y="1705" width="288.0" height="15.8" fill="url(#g319)"/>
<rect x="1546" y="1720" width="288.0" height="22.8" fill="url(#g320)"/>
<rect x="1546" y="1742" width="288.0" height="17.8" fill="url(#g321)"/>
<rect x="1546" y="1759" width="288.0" height="12.8" fill="url(#g322)"/>
<rect x="1546" y="1771" width="288.0" height="13.4" fill="url(#g323)"/>
<rect x="1546" y="1783.6" width="288.0" height="14.7" fill="url(#g324)"/>
<rect x="1546" y="1797.5" width="288.0" height="14.3" fill="url(#g325)"/>
<rect x="1546" y="1811" width="288.0" height="18.8" fill="url(#g326)"/>
<rect x="1546" y="1829" width="288.0" height="10.8" fill="url(#g327)"/>
<rect x="1546" y="1839" width="288.0" height="21.8" fill="url(#g328)"/>
<rect x="1546" y="1860" width="288.0" height="10.8" fill="url(#g329)"/>
<rect x="1546" y="1870" width="288.0" height="16.8" fill="url(#g330)"/>
<rect x="1546" y="1886" width="288.0" height="9.3" fill="url(#g331)"/>
<rect x="1546" y="1894.5" width="288.0" height="12.9" fill="url(#g332)"/>
<rect x="1546" y="1906.6" width="288.0" height="9.2" fill="url(#g333)"/>
<rect x="1546" y="1915" width="288.0" height="11.5" fill="url(#g334)"/>
<rect x="1546" y="1925.7" width="288.0" height="6.1" fill="url(#g335)"/>
<rect x="1546" y="1931" width="288.0" height="9.4" fill="url(#g336)"/>
<rect x="1546" y="1939.6" width="288.0" height="14.6" fill="url(#g337)"/>
<rect x="1546" y="1953.4" width="288.0" height="11.4" fill="url(#g338)"/>
<rect x="1546" y="1964" width="288.0" height="10.8" fill="url(#g339)"/>
<rect x="1546" y="1974" width="288.0" height="14.8" fill="url(#g340)"/>
<rect x="1546" y="1988" width="288.0" height="11.3" fill="url(#g341)"/>
<rect x="1546" y="1998.5" width="288.0" height="11.3" fill="url(#g342)"/>
<rect x="1546" y="2009" width="288.0" height="3.3" fill="url(#g343)"/></g></g>
<path d="M1545.0,1546.0 L1530.0,1570.0 L1512.0,1600.0 L1500.0,1634.0 L1489.0,1649.0 L1492.0,1680.0 L1510.0,1712.0 L1545.0,1716.0Z" fill="#ffdcdc" opacity="0.85" filter="url(#blur4)"/>
<path d="M1546.0,1546.0 L1558.5,1572.0 L1574.0,1603.0 L1586.0,1634.0 L1597.0,1665.0 L1598.0,1700.0 L1570.0,1716.0 L1547.0,1716.0Z" fill="#ffe2e2" opacity="0.75" filter="url(#blur4)"/>
<ellipse cx="1533" cy="1740" rx="14" ry="14" fill="#c8c8ff" opacity="0.8" filter="url(#blur3)"/>
<path d="M1544,1414.5 L1544,1540 C1543,1548 1540,1552 1546,1556 C1552,1562 1548,1620 1546,1690 C1546,1710 1540,1725 1528,1735" fill="none" stroke="#ffffff" stroke-width="2.5" opacity="0.95"/>
<ellipse cx="1538" cy="1738" rx="12" ry="10" fill="#ccccff" opacity="0.8" filter="url(#blur3)"/>
<path d="M1229.0,1414.5 L1265.7,1414.5 L1264.0,1462.0 L1262.3,1531.0 L1260.5,1618.0 L1258.8,1687.0 L1258.0,1750.0 L1257.0,1850.0 L1257.0,2011.5 L1229.0,2011.5Z" fill="#fdfcfe" />
<path d="M1826.0,1414.5 L1831.0,1515.0 L1831.0,1585.0 L1834.6,1700.0 L1834.0,1800.0 L1834.0,2011.5 L1863.0,2011.5 L1863.0,1414.5Z" fill="#fdfcfe" />
<line x1="1262" y1="1420" x2="1258" y2="1700" stroke="#ffc8c8" stroke-width="3" opacity="0.7"/>
<line x1="1834" y1="1430" x2="1840" y2="1700" stroke="#d0d0ff" stroke-width="3" opacity="0.7"/>
<line x1="1836" y1="1720" x2="1850" y2="1900" stroke="#dadaff" stroke-width="3" opacity="0.7"/>
<rect x="1229.0" y="1414.5" width="634.0" height="597.0" fill="none" stroke="#000" stroke-width="1.7"/>
<text x="1214.6" y="2023.5" text-anchor="end" style="font-family:'DejaVu Sans',sans-serif;font-size:32px">0.0</text>
<text x="1214.6" y="1874.2" text-anchor="end" style="font-family:'DejaVu Sans',sans-serif;font-size:32px">675.0</text>
<text x="1214.6" y="1725.0" text-anchor="end" style="font-family:'DejaVu Sans',sans-serif;font-size:32px">1350.0</text>
<text x="1214.6" y="1575.8" text-anchor="end" style="font-family:'DejaVu Sans',sans-serif;font-size:32px">2025.0</text>
<text x="1214.6" y="1426.5" text-anchor="end" style="font-family:'DejaVu Sans',sans-serif;font-size:32px">2700.0</text>
<text x="1229.0" y="2050.8" text-anchor="middle" style="font-family:'DejaVu Sans',sans-serif;font-size:32px">0.0</text>
<text x="1387.5" y="2050.8" text-anchor="middle" style="font-family:'DejaVu Sans',sans-serif;font-size:32px">12.525</text>
<text x="1546.0" y="2050.8" text-anchor="middle" style="font-family:'DejaVu Sans',sans-serif;font-size:32px">25.05</text>
<text x="1704.5" y="2050.8" text-anchor="middle" style="font-family:'DejaVu Sans',sans-serif;font-size:32px">37.575</text>
<text x="1863.0" y="2050.8" text-anchor="middle" style="font-family:'DejaVu Sans',sans-serif;font-size:32px">50.1</text>
<path d="M1229.0,2011.50h-7.3M1229.0,1862.25h-7.3M1229.0,1713.00h-7.3M1229.0,1563.75h-7.3M1229.0,1414.50h-7.3M1229.00,2011.5v7.3M1387.50,2011.5v7.3M1546.00,2011.5v7.3M1704.50,2011.5v7.3M1863.00,2011.5v7.3" stroke="#000" stroke-width="1.7" fill="none"/>
<text x="1546.0" y="2094.1" text-anchor="middle" style="font-family:'DejaVu Sans',sans-serif;font-size:36.3px">Position [Mm]</text>
<text transform="translate(1086.1,1713.0) rotate(-90)" text-anchor="middle" style="font-family:'DejaVu Sans',sans-serif;font-size:36.3px">Time [s]</text>
<text x="1546.0" y="1401.2" text-anchor="middle" style="font-family:'DejaVu Sans',sans-serif;font-size:40.8px">Bulk Velocity</text>
<rect x="1903.0" y="1414.5" width="29.7" height="597.0" fill="url(#g344)" stroke="#000" stroke-width="1.7"/>
<text x="1948.7" y="1485.2" style="font-family:'DejaVu Sans',sans-serif;font-size:26.7px">40</text>
<text x="1948.7" y="1604.6" style="font-family:'DejaVu Sans',sans-serif;font-size:26.7px">20</text>
<text x="1948.7" y="1724.0" style="font-family:'DejaVu Sans',sans-serif;font-size:26.7px">0</text>
<text x="1948.7" y="1843.4" style="font-family:'DejaVu Sans',sans-serif;font-size:26.7px">−20</text>
<text x="1948.7" y="1962.8" style="font-family:'DejaVu Sans',sans-serif;font-size:26.7px">−40</text>
<text transform="translate(2044.7,1713.0) rotate(-90)" text-anchor="middle" style="font-family:'DejaVu Sans',sans-serif;font-size:32px">Velocity [km s<tspan dy="-12" style="font-size:22.4px">−1</tspan><tspan dy="12">]</tspan></text>
<path d="M1932.7,1474.20h7.3M1932.7,1593.60h7.3M1932.7,1713.00h7.3M1932.7,1832.40h7.3M1932.7,1951.80h7.3" stroke="#000" stroke-width="1.7" fill="none"/>
</svg></body></html>
